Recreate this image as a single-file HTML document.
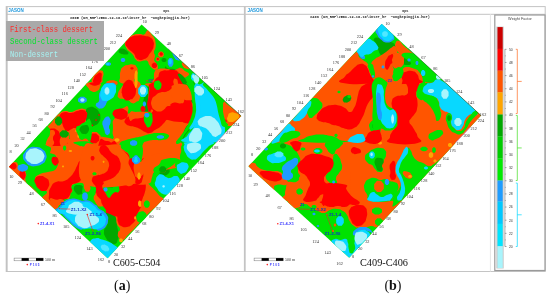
<!DOCTYPE html>
<html><head><meta charset="utf-8"><title>Ips maps</title>
<style>
html,body{margin:0;padding:0;background:#fff;}
body{width:550px;height:296px;overflow:hidden;}
svg{display:block}
.ser{font-family:"Liberation Serif",serif}
.san{font-family:"Liberation Sans",sans-serif}
.mon{font-family:"Liberation Mono",monospace}
</style></head><body>
<svg width="550" height="296" viewBox="0 0 550 296">
<defs>
<clipPath id="clipA"><polygon points="141.6,24.5 241.2,116 107.6,258.2 9,166.8"/></clipPath>
<clipPath id="clipB"><polygon points="381.7,24 481,115.5 349.2,257.7 248.4,166.3"/></clipPath>
</defs>
<rect width="550" height="296" fill="#fff"/>
<g fill="none" stroke="#c4c4c4" stroke-width="1">
<rect x="6.2" y="6.6" width="539" height="264.9"/>
<line x1="6.2" y1="14.3" x2="545" y2="14.3"/>
<line x1="244.8" y1="6.6" x2="244.8" y2="271.5" stroke-width="1.8"/>
<line x1="490.4" y1="14.3" x2="490.4" y2="271.5" stroke="#e6e6e6"/>
</g>
<rect x="6.2" y="6.6" width="1.4" height="264.9" fill="#bdbdbd"/>
<g class="san" font-weight="bold" font-size="4.6" fill="#1a96dc">
<text x="8.3" y="12.2" textLength="15.4" lengthAdjust="spacingAndGlyphs">JASON</text>
<text x="247.4" y="12.2" textLength="15.4" lengthAdjust="spacingAndGlyphs">JASON</text>
</g>
<g clip-path="url(#clipA)">
<rect x="0" y="0" width="550" height="296" fill="#00e200"/>
<path d="M118.6,51.0C119.0,49.4 119.5,48.4 122.0,48.4C124.5,48.4 125.2,49.3 127.0,51.0C128.8,52.7 128.9,53.0 128.0,54.0C127.1,55.0 126.2,54.5 124.0,54.4C121.8,54.3 122.2,54.6 120.6,53.6C119.0,52.6 118.2,52.6 118.6,51.0Z" fill="#00a800"/>
<path d="M166.4,60.0C166.4,61.0 166.6,60.7 165.7,61.4C164.8,62.1 165.2,62.0 164.0,62.0C162.8,62.0 163.2,62.1 162.3,61.4C161.4,60.7 161.6,61.0 161.6,60.0C161.6,59.0 161.4,59.3 162.3,58.6C163.2,57.9 162.8,58.0 164.0,58.0C165.2,58.0 164.8,57.9 165.7,58.6C166.6,59.3 166.4,59.0 166.4,60.0Z" fill="#00a800"/>
<path d="M165.4,66.4C166.0,65.8 165.4,67.6 168.0,68.4C170.6,69.2 171.6,68.2 174.0,69.0C176.4,69.8 176.9,70.1 176.0,71.0C175.1,71.9 174.0,72.2 171.0,72.0C168.0,71.8 167.7,72.1 166.0,70.4C164.3,68.7 164.8,67.0 165.4,66.4Z" fill="#00a800"/>
<path d="M187.4,83.0C200.6,83.0 191.1,80.6 194.0,83.0C196.9,85.4 195.7,85.6 197.0,91.0C198.3,96.4 197.8,95.0 198.2,101.0C198.6,107.0 198.9,105.6 198.2,111.0C197.5,116.4 197.4,114.7 195.8,119.0C194.2,123.3 195.2,121.8 193.0,125.4C190.8,129.0 191.0,127.8 188.6,131.0C186.2,134.2 187.0,132.9 185.0,136.0C183.0,139.1 184.1,139.6 182.0,141.4C179.9,143.2 187.6,141.8 178.0,142.0C168.4,142.2 158.4,159.7 150.0,142.0C141.6,124.3 138.8,100.7 150.0,83.0C161.2,65.3 174.2,83.0 187.4,83.0Z" fill="#00a800"/>
<path d="M158.4,169.0C159.1,166.4 159.4,165.9 162.0,165.0C164.6,164.1 164.7,164.5 167.0,166.0C169.3,167.5 169.3,167.6 169.6,170.0C169.9,172.4 169.8,172.3 168.0,174.0C166.2,175.7 166.1,175.7 163.6,175.6C161.1,175.5 161.2,175.6 159.6,173.6C158.0,171.6 157.7,171.6 158.4,169.0Z" fill="#00a800"/>
<path d="M106.0,213.0C107.2,210.6 109.0,209.8 112.0,211.0C115.0,212.2 114.5,212.8 116.0,217.0C117.5,221.2 116.3,220.2 117.0,225.0C117.7,229.8 118.1,228.8 118.4,233.0C118.7,237.2 119.0,235.7 118.0,239.0C117.0,242.3 117.4,243.1 115.0,244.0C112.6,244.9 112.7,243.8 110.0,242.0C107.3,240.2 107.8,241.3 106.0,238.0C104.2,234.7 103.7,234.9 104.0,231.0C104.3,227.1 105.8,228.6 107.0,225.0C108.2,221.4 108.3,222.6 108.0,219.0C107.7,215.4 104.8,215.4 106.0,213.0Z" fill="#00a800"/>
<path d="M125.0,42.0C125.6,38.8 126.2,39.7 128.6,37.6C131.0,35.5 129.9,36.1 133.0,35.0C136.1,33.9 135.7,34.2 139.0,34.0C142.3,33.8 141.7,35.2 144.0,34.4C146.3,33.6 145.2,32.4 146.6,31.2C148.0,30.0 147.1,29.4 148.6,30.4C150.1,31.4 149.9,32.1 151.6,34.4C153.3,36.7 153.0,35.4 154.2,38.0C155.4,40.6 155.2,40.0 155.6,43.0C156.0,46.0 155.9,45.3 155.4,48.0C154.9,50.7 154.1,49.6 154.0,52.0C153.9,54.4 154.9,53.6 155.0,56.0C155.1,58.4 153.9,57.9 154.2,60.0C154.5,62.1 154.9,60.9 156.0,63.0C157.1,65.1 158.0,65.0 158.0,67.0C158.0,69.0 157.6,69.2 156.0,69.6C154.4,70.0 154.6,69.8 152.6,68.4C150.6,67.0 151.0,67.2 149.4,65.0C147.8,62.8 149.0,62.3 147.4,61.0C145.8,59.7 146.4,60.5 144.0,60.6C141.6,60.7 141.9,61.8 139.4,61.4C136.9,61.0 137.5,61.3 135.6,59.4C133.7,57.5 134.7,57.2 133.0,55.0C131.3,52.8 131.9,54.0 130.0,52.0C128.1,50.0 128.1,51.4 126.6,48.4C125.1,45.4 124.4,45.2 125.0,42.0Z" fill="#ff5500"/>
<path d="M163.8,54.4C163.8,55.9 164.0,55.4 163.0,56.4C162.0,57.4 162.5,57.2 161.0,57.2C159.5,57.2 160.0,57.4 159.0,56.4C158.0,55.4 158.2,55.9 158.2,54.4C158.2,52.9 158.0,53.4 159.0,52.4C160.0,51.4 159.5,51.6 161.0,51.6C162.5,51.6 162.0,51.4 163.0,52.4C164.0,53.4 163.8,52.9 163.8,54.4Z" fill="#ff5500"/>
<path d="M159.8,59.2C159.8,60.2 159.9,59.9 159.2,60.6C158.5,61.3 158.8,61.2 157.8,61.2C156.8,61.2 157.1,61.3 156.4,60.6C155.7,59.9 155.8,60.2 155.8,59.2C155.8,58.2 155.7,58.5 156.4,57.8C157.1,57.1 156.8,57.2 157.8,57.2C158.8,57.2 158.5,57.1 159.2,57.8C159.9,58.5 159.8,58.2 159.8,59.2Z" fill="#ff5500"/>
<path d="M155.0,71.0C156.4,68.3 156.2,69.8 158.6,69.0C161.0,68.2 160.2,68.4 163.0,68.4C165.8,68.4 165.0,68.4 168.0,69.0C171.0,69.6 170.3,70.4 173.0,70.4C175.7,70.4 174.6,69.7 177.0,69.0C179.4,68.3 178.6,67.4 181.0,68.0C183.4,68.6 182.6,69.2 185.0,71.0C187.4,72.8 188.7,72.2 189.0,74.0C189.3,75.8 187.8,75.5 186.0,77.0C184.2,78.5 183.9,77.2 183.0,79.0C182.1,80.8 191.4,81.8 183.0,83.0C174.6,84.2 163.7,84.5 155.0,83.0C146.3,81.5 154.0,81.6 154.0,78.0C154.0,74.4 153.6,73.7 155.0,71.0Z" fill="#ff5500"/>
<path d="M182.0,63.0C182.6,62.3 182.9,62.4 185.0,64.0C187.1,65.6 188.7,67.1 189.0,68.4C189.3,69.7 187.8,69.0 186.0,68.4C184.2,67.8 184.2,68.0 183.0,66.4C181.8,64.8 181.4,63.7 182.0,63.0Z" fill="#ff5500"/>
<path d="M93.0,76.4C94.2,73.1 94.6,73.8 97.0,72.0C99.4,70.2 99.1,70.1 101.0,70.4C102.9,70.7 102.9,70.7 103.4,73.0C103.9,75.3 103.3,75.0 102.6,78.0C101.9,81.0 103.9,81.5 101.0,83.0C98.1,84.5 95.4,85.0 93.0,83.0C90.6,81.0 91.8,79.7 93.0,76.4Z" fill="#ff5500"/>
<path d="M120.6,71.0C121.5,68.0 120.8,68.8 123.0,67.0C125.2,65.2 125.0,65.7 128.0,65.0C131.0,64.3 130.4,64.0 133.0,64.6C135.6,65.2 135.2,64.8 136.6,67.0C138.0,69.2 137.8,69.2 137.6,72.0C137.4,74.8 137.1,74.0 136.0,76.4C134.9,78.8 134.9,78.0 134.0,80.0C133.1,82.0 136.9,82.1 133.0,83.0C129.1,83.9 124.9,84.8 121.0,83.0C117.1,81.2 120.1,80.6 120.0,77.0C119.9,73.4 119.7,74.0 120.6,71.0Z" fill="#ff5500"/>
<path d="M117.6,83.0C117.6,84.5 118.0,84.0 116.0,85.0C113.9,86.0 114.9,85.8 112.0,85.8C109.1,85.8 110.1,86.0 108.0,85.0C106.0,84.0 106.4,84.5 106.4,83.0C106.4,81.5 106.0,82.0 108.0,81.0C110.1,80.0 109.1,80.2 112.0,80.2C114.9,80.2 113.9,80.0 116.0,81.0C118.0,82.0 117.6,81.5 117.6,83.0Z" fill="#ff5500"/>
<path d="M87.0,83.0C90.2,81.5 95.1,81.8 99.0,83.0C102.9,84.2 100.6,84.6 100.0,87.0C99.4,89.4 99.4,89.7 97.0,91.0C94.6,92.3 94.6,92.3 92.0,91.4C89.4,90.5 89.9,90.5 88.4,88.0C86.9,85.5 83.8,84.5 87.0,83.0Z" fill="#ff5500"/>
<path d="M118.0,94.0C118.6,91.0 118.9,91.0 121.0,88.0C123.1,85.0 122.3,85.5 125.0,84.0C127.7,82.5 125.5,83.3 130.0,83.0C134.5,82.7 137.0,78.8 140.0,83.0C143.0,87.2 141.2,91.3 140.0,97.0C138.8,102.7 138.4,100.2 136.0,102.0C133.6,103.8 134.4,103.6 132.0,103.0C129.6,102.4 130.7,101.2 128.0,100.0C125.3,98.8 125.7,99.6 123.0,99.0C120.3,98.4 120.5,99.5 119.0,98.0C117.5,96.5 117.4,97.0 118.0,94.0Z" fill="#ff5500"/>
<path d="M55.0,118.0C57.4,115.3 56.7,115.1 60.0,113.0C63.3,110.9 62.7,111.3 66.0,111.0C69.3,110.7 67.4,112.5 71.0,112.0C74.6,111.5 74.1,110.3 78.0,109.4C81.9,108.5 81.1,108.2 84.0,109.0C86.9,109.8 86.4,109.6 87.6,112.0C88.8,114.4 88.5,113.7 88.0,117.0C87.5,120.3 87.1,119.4 86.0,123.0C84.9,126.6 86.2,126.3 84.4,129.0C82.6,131.7 82.8,131.7 80.0,132.0C77.2,132.3 78.0,130.0 75.0,130.0C72.0,130.0 72.7,130.8 70.0,132.0C67.3,133.2 68.4,133.7 66.0,134.0C63.6,134.3 64.4,134.2 62.0,133.0C59.6,131.8 60.4,132.1 58.0,130.0C55.6,127.9 56.4,126.3 54.0,126.0C51.6,125.7 52.1,128.4 50.0,129.0C47.9,129.6 46.4,130.1 47.0,128.0C47.6,125.9 49.6,125.0 52.0,122.0C54.4,119.0 52.6,120.7 55.0,118.0Z" fill="#ff5500"/>
<path d="M42.0,131.0C44.7,128.4 44.4,128.9 48.0,127.4C51.6,125.9 49.8,124.6 54.0,126.0C58.2,127.4 58.7,128.4 62.0,132.0C65.3,135.6 64.4,135.0 65.0,138.0C65.6,141.0 72.1,140.8 64.0,142.0C55.9,143.2 45.5,143.8 38.0,142.0C30.5,140.2 37.8,139.3 39.0,136.0C40.2,132.7 39.3,133.6 42.0,131.0Z" fill="#ff5500"/>
<path d="M70.0,131.0C71.6,129.0 72.1,128.6 75.0,128.6C77.9,128.6 77.8,129.0 79.6,131.0C81.4,133.0 81.0,132.7 81.0,135.4C81.0,138.1 81.4,138.0 79.6,140.0C77.8,142.0 77.6,142.0 75.0,142.0C72.4,142.0 72.6,142.0 71.0,140.0C69.4,138.0 69.9,138.1 69.6,135.4C69.3,132.7 68.4,133.0 70.0,131.0Z" fill="#ff5500"/>
<path d="M100.6,138.0C100.6,141.1 101.1,140.0 98.7,142.2C96.2,144.4 97.4,144.0 94.0,144.0C90.6,144.0 91.8,144.4 89.3,142.2C86.9,140.0 87.4,141.1 87.4,138.0C87.4,134.9 86.9,136.0 89.3,133.8C91.8,131.6 90.6,132.0 94.0,132.0C97.4,132.0 96.2,131.6 98.7,133.8C101.1,136.0 100.6,134.9 100.6,138.0Z" fill="#ff5500"/>
<path d="M116.4,116.0C117.8,112.6 117.2,113.2 119.6,110.6C122.0,108.0 121.9,108.5 124.4,107.4C126.9,106.3 127.0,105.3 128.0,107.0C129.0,108.7 128.2,109.7 127.6,113.0C127.0,116.3 125.3,115.9 126.0,118.0C126.7,120.1 127.0,119.7 130.0,120.0C133.0,120.3 133.0,119.6 136.0,119.0C139.0,118.4 138.8,111.1 140.0,118.0C141.2,124.9 146.6,134.8 140.0,142.0C133.4,149.2 125.1,143.5 118.0,142.0C110.9,140.5 116.1,140.0 116.4,137.0C116.7,134.0 119.0,134.9 119.0,132.0C119.0,129.1 117.6,130.4 116.4,127.4C115.2,124.4 115.0,125.4 115.0,122.0C115.0,118.6 115.0,119.4 116.4,116.0Z" fill="#ff5500"/>
<path d="M150.0,83.0C161.3,81.5 175.0,81.5 187.0,83.0C199.0,84.5 188.2,84.4 190.0,88.0C191.8,91.6 191.6,90.5 193.0,95.0C194.4,99.5 194.0,98.2 194.6,103.0C195.2,107.8 195.5,106.5 195.0,111.0C194.5,115.5 194.5,114.4 193.0,118.0C191.5,121.6 192.1,120.3 190.0,123.0C187.9,125.7 188.1,124.0 186.0,127.0C183.9,130.0 184.8,129.7 183.0,133.0C181.2,136.3 182.4,135.3 180.0,138.0C177.6,140.7 181.3,140.8 175.0,142.0C168.7,143.2 165.6,142.9 159.0,142.0C152.4,141.1 156.6,139.6 153.0,139.0C149.4,138.4 150.6,139.1 147.0,140.0C143.4,140.9 144.6,141.4 141.0,142.0C137.4,142.6 136.8,149.2 135.0,142.0C133.2,134.8 133.8,125.8 135.0,118.0C136.2,110.2 136.3,116.3 139.0,116.0C141.7,115.7 141.0,117.9 144.0,117.0C147.0,116.1 146.6,116.0 149.0,113.0C151.4,110.0 152.0,110.6 152.0,107.0C152.0,103.4 150.0,104.9 149.0,101.0C148.0,97.1 148.5,97.9 148.6,94.0C148.7,90.1 149.0,91.3 149.4,88.0C149.8,84.7 138.7,84.5 150.0,83.0Z" fill="#ff5500"/>
<path d="M224.0,102.0C225.5,100.8 222.8,100.8 228.0,105.0C233.2,109.2 239.1,110.6 241.2,116.0C243.3,121.4 238.7,120.0 235.0,123.0C231.3,126.0 232.1,126.0 229.0,126.0C225.9,126.0 226.4,125.7 224.6,123.0C222.8,120.3 223.5,121.2 223.0,117.0C222.5,112.8 222.7,113.5 223.0,109.0C223.3,104.5 222.5,103.2 224.0,102.0Z" fill="#ff5500"/>
<path d="M9.0,166.8C9.6,164.1 11.3,162.5 14.0,162.0C16.7,161.5 17.4,162.6 18.0,165.0C18.6,167.4 17.8,168.2 16.0,170.0C14.2,171.8 14.1,172.0 12.0,171.0C9.9,170.0 8.4,169.5 9.0,166.8Z" fill="#ff5500"/>
<path d="M14.0,170.0C14.6,168.2 16.0,168.0 19.0,168.0C22.0,168.0 22.2,168.2 24.0,170.0C25.8,171.8 26.2,172.2 25.0,174.0C23.8,175.8 22.4,176.0 20.0,176.0C17.6,176.0 18.8,175.8 17.0,174.0C15.2,172.2 13.4,171.8 14.0,170.0Z" fill="#ff5500"/>
<path d="M48.0,142.0C61.4,140.8 104.0,130.2 118.0,142.0C132.0,153.8 132.0,189.2 118.0,201.0C104.0,212.8 62.2,202.8 48.0,201.0C33.8,199.2 48.2,194.6 47.0,192.0C45.8,189.4 43.8,190.0 42.0,188.0C40.2,186.0 39.4,184.0 38.0,182.0C36.6,180.0 34.6,179.6 35.0,178.0C35.4,176.4 37.4,175.2 40.0,174.0C42.6,172.8 45.0,172.8 48.0,172.0C51.0,171.2 53.2,171.6 55.0,170.0C56.8,168.4 57.4,166.2 57.0,164.0C56.6,161.8 54.4,161.0 53.0,159.0C51.6,157.0 50.4,156.2 50.0,154.0C49.6,151.8 51.4,150.4 51.0,148.0C50.6,145.6 34.6,143.2 48.0,142.0Z" fill="#ff5500"/>
<path d="M112.0,142.0C115.7,128.2 124.0,140.8 128.0,142.0C132.0,143.2 129.2,144.7 129.0,147.0C128.8,149.3 126.5,149.2 127.0,152.0C127.5,154.8 128.9,156.2 131.0,159.0C133.1,161.8 133.4,163.3 136.0,164.0C138.6,164.7 140.1,163.9 142.0,162.0C143.9,160.1 144.0,158.8 144.0,156.0C144.0,153.2 142.0,152.8 142.0,150.0C142.0,147.2 142.8,145.9 144.0,144.0C145.2,142.1 139.1,142.5 147.0,142.0C154.9,141.5 170.1,140.6 178.0,142.0C185.9,143.4 180.5,145.2 181.0,148.0C181.5,150.8 181.6,151.7 180.0,154.0C178.4,156.3 176.8,156.4 174.0,158.0C171.2,159.6 170.6,159.6 168.0,161.0C165.4,162.4 165.1,162.6 163.0,164.0C160.9,165.4 160.9,165.4 159.0,167.0C157.1,168.6 156.9,168.9 155.0,171.0C153.1,173.1 152.6,173.7 151.0,176.0C149.4,178.3 148.9,178.9 148.0,181.0C147.1,183.1 146.1,182.9 147.0,185.0C147.9,187.1 149.7,187.7 152.0,190.0C154.3,192.3 155.1,192.4 157.0,195.0C158.9,197.6 170.5,199.6 160.0,201.0C149.5,202.4 123.2,214.8 112.0,201.0C100.8,187.2 108.3,155.8 112.0,142.0Z" fill="#ff5500"/>
<path d="M108.0,201.0C124.0,199.8 148.0,198.3 161.2,201.0C174.4,203.7 157.8,204.3 152.0,210.0C146.2,215.7 147.4,214.3 142.0,220.0C136.6,225.7 138.2,224.5 134.0,229.0C129.8,233.5 131.3,231.7 128.0,235.0C124.7,238.3 125.7,239.1 123.0,240.0C120.3,240.9 120.5,240.1 119.0,238.0C117.5,235.9 117.7,235.7 118.0,233.0C118.3,230.3 120.3,231.7 120.0,229.0C119.7,226.3 118.3,227.6 117.0,224.0C115.7,220.4 117.0,220.9 115.6,217.0C114.2,213.1 114.7,214.6 112.4,211.0C110.1,207.4 109.3,208.0 108.0,205.0C106.7,202.0 92.0,202.2 108.0,201.0Z" fill="#ff5500"/>
<path d="M46.0,201.0C47.8,198.9 52.8,199.8 57.0,201.0C61.2,202.2 60.3,202.6 60.0,205.0C59.7,207.4 58.7,208.1 56.0,209.0C53.3,209.9 54.0,210.4 51.0,208.0C48.0,205.6 44.2,203.1 46.0,201.0Z" fill="#ff5500"/>
<path d="M98.0,201.0C99.7,199.7 103.9,199.9 106.0,201.0C108.1,202.1 106.7,203.3 105.0,204.6C103.3,205.9 102.5,206.5 100.4,205.4C98.3,204.3 96.3,202.3 98.0,201.0Z" fill="#ff5500"/>
<path d="M86.0,110.0C86.9,107.9 87.3,107.6 90.0,107.0C92.7,106.4 92.3,106.5 95.0,108.0C97.7,109.5 97.4,109.3 99.0,112.0C100.6,114.7 100.4,114.0 100.4,117.0C100.4,120.0 100.6,119.5 99.0,122.0C97.4,124.5 97.7,124.2 95.0,125.4C92.3,126.6 92.4,126.7 90.0,126.0C87.6,125.3 88.3,125.4 87.0,123.0C85.7,120.6 85.6,120.7 85.6,118.0C85.6,115.3 86.9,116.4 87.0,114.0C87.1,111.6 85.1,112.1 86.0,110.0Z" fill="#00a800"/>
<path d="M48.0,155.0C49.6,152.6 50.3,153.1 53.0,154.0C55.7,154.9 55.5,155.0 57.0,158.0C58.5,161.0 58.6,161.0 58.0,164.0C57.4,167.0 57.4,167.1 55.0,168.0C52.6,168.9 52.2,168.8 50.0,167.0C47.8,165.2 48.2,165.6 47.6,162.0C47.0,158.4 46.4,157.4 48.0,155.0Z" fill="#00e200"/>
<path d="M66.2,148.0C66.2,149.2 66.3,148.8 65.7,149.7C65.1,150.6 65.4,150.4 64.6,150.4C63.8,150.4 64.1,150.6 63.5,149.7C62.9,148.8 63.0,149.2 63.0,148.0C63.0,146.8 62.9,147.2 63.5,146.3C64.1,145.4 63.8,145.6 64.6,145.6C65.4,145.6 65.1,145.4 65.7,146.3C66.3,147.2 66.2,146.8 66.2,148.0Z" fill="#00e200"/>
<path d="M75.0,142.0C79.2,141.1 87.5,141.1 92.0,142.0C96.5,142.9 92.4,143.7 90.0,145.0C87.6,146.3 87.6,146.4 84.0,146.4C80.4,146.4 80.7,146.3 78.0,145.0C75.3,143.7 70.8,142.9 75.0,142.0Z" fill="#00e200"/>
<path d="M137.2,72.6C137.2,73.6 137.3,73.3 137.0,74.0C136.7,74.7 136.8,74.6 136.4,74.6C136.0,74.6 136.1,74.7 135.8,74.0C135.5,73.3 135.6,73.6 135.6,72.6C135.6,71.6 135.5,71.9 135.8,71.2C136.1,70.5 136.0,70.6 136.4,70.6C136.8,70.6 136.7,70.5 137.0,71.2C137.3,71.9 137.2,71.6 137.2,72.6Z" fill="#ffa500"/>
<path d="M77.6,131.0C77.6,131.5 77.7,131.3 77.2,131.7C76.8,132.1 77.0,132.0 76.4,132.0C75.8,132.0 76.0,132.1 75.6,131.7C75.1,131.3 75.2,131.5 75.2,131.0C75.2,130.5 75.1,130.7 75.6,130.3C76.0,129.9 75.8,130.0 76.4,130.0C77.0,130.0 76.8,129.9 77.2,130.3C77.7,130.7 77.6,130.5 77.6,131.0Z" fill="#ffa500"/>
<path d="M79.4,136.2C79.4,137.0 79.5,136.7 79.1,137.3C78.7,137.9 78.9,137.8 78.4,137.8C77.9,137.8 78.1,137.9 77.7,137.3C77.3,136.7 77.4,137.0 77.4,136.2C77.4,135.4 77.3,135.7 77.7,135.1C78.1,134.5 77.9,134.6 78.4,134.6C78.9,134.6 78.7,134.5 79.1,135.1C79.5,135.7 79.4,135.4 79.4,136.2Z" fill="#ffa500"/>
<path d="M230.0,113.0C232.1,112.1 232.3,112.1 235.0,113.0C237.7,113.9 238.7,113.9 239.0,116.0C239.3,118.1 238.4,118.2 236.0,120.0C233.6,121.8 233.6,122.0 231.0,122.0C228.4,122.0 228.3,121.8 227.4,120.0C226.5,118.2 227.2,118.1 228.0,116.0C228.8,113.9 227.9,113.9 230.0,113.0Z" fill="#ffa500"/>
<path d="M72.0,151.0C72.0,151.5 72.1,151.3 71.5,151.7C70.9,152.1 71.2,152.0 70.4,152.0C69.6,152.0 69.9,152.1 69.3,151.7C68.7,151.3 68.8,151.5 68.8,151.0C68.8,150.5 68.7,150.7 69.3,150.3C69.9,149.9 69.6,150.0 70.4,150.0C71.2,150.0 70.9,149.9 71.5,150.3C72.1,150.7 72.0,150.5 72.0,151.0Z" fill="#ffa500"/>
<path d="M64.0,166.4C64.0,166.9 64.1,166.7 63.7,167.1C63.3,167.5 63.5,167.4 63.0,167.4C62.5,167.4 62.7,167.5 62.3,167.1C61.9,166.7 62.0,166.9 62.0,166.4C62.0,165.9 61.9,166.1 62.3,165.7C62.7,165.3 62.5,165.4 63.0,165.4C63.5,165.4 63.3,165.3 63.7,165.7C64.1,166.1 64.0,165.9 64.0,166.4Z" fill="#ffa500"/>
<path d="M140.0,175.0C140.0,176.9 140.1,176.2 139.6,177.5C139.1,178.9 139.3,178.6 138.6,178.6C137.9,178.6 138.1,178.9 137.6,177.5C137.1,176.2 137.2,176.9 137.2,175.0C137.2,173.1 137.1,173.8 137.6,172.5C138.1,171.1 137.9,171.4 138.6,171.4C139.3,171.4 139.1,171.1 139.6,172.5C140.1,173.8 140.0,173.1 140.0,175.0Z" fill="#ffa500"/>
<path d="M167.2,161.4C167.2,162.1 167.4,161.9 166.4,162.4C165.4,162.9 165.9,162.8 164.4,162.8C162.9,162.8 163.4,162.9 162.4,162.4C161.4,161.9 161.6,162.1 161.6,161.4C161.6,160.7 161.4,160.9 162.4,160.4C163.4,159.9 162.9,160.0 164.4,160.0C165.9,160.0 165.4,159.9 166.4,160.4C167.4,160.9 167.2,160.7 167.2,161.4Z" fill="#ffa500"/>
<path d="M122.8,240.4C122.8,241.3 122.9,241.0 122.3,241.7C121.6,242.3 121.9,242.2 121.0,242.2C120.1,242.2 120.4,242.3 119.7,241.7C119.1,241.0 119.2,241.3 119.2,240.4C119.2,239.5 119.1,239.8 119.7,239.1C120.4,238.5 120.1,238.6 121.0,238.6C121.9,238.6 121.6,238.5 122.3,239.1C122.9,239.8 122.8,239.5 122.8,240.4Z" fill="#ffa500"/>
<path d="M125.4,43.4C125.6,41.0 126.0,41.4 128.0,39.4C130.0,37.4 129.0,37.8 132.0,36.6C135.0,35.4 134.1,35.6 138.0,35.4C141.9,35.2 141.3,35.3 145.0,36.0C148.7,36.7 147.9,35.9 150.4,37.6C152.9,39.3 152.4,39.0 153.4,41.6C154.4,44.2 154.0,43.8 153.6,46.4C153.2,49.0 153.3,48.1 152.0,50.4C150.7,52.7 150.8,52.0 149.4,54.0C148.0,56.0 149.1,55.6 147.4,57.2C145.7,58.8 146.0,58.4 143.6,59.2C141.2,60.0 141.6,60.4 139.4,60.0C137.2,59.6 137.8,59.8 136.2,58.0C134.6,56.2 135.8,56.1 134.2,54.0C132.6,51.9 133.0,53.0 131.0,51.0C129.0,49.0 129.1,49.7 127.4,47.4C125.7,45.1 125.2,45.8 125.4,43.4Z" fill="#ff0000"/>
<path d="M162.8,54.0C162.8,54.9 162.9,54.6 162.3,55.3C161.7,55.9 162.0,55.8 161.2,55.8C160.4,55.8 160.7,55.9 160.1,55.3C159.5,54.6 159.6,54.9 159.6,54.0C159.6,53.1 159.5,53.4 160.1,52.7C160.7,52.1 160.4,52.2 161.2,52.2C162.0,52.2 161.7,52.1 162.3,52.7C162.9,53.4 162.8,53.1 162.8,54.0Z" fill="#ff0000"/>
<path d="M159.0,59.0C159.0,59.6 159.1,59.4 158.6,59.8C158.2,60.3 158.4,60.2 157.8,60.2C157.2,60.2 157.4,60.3 157.0,59.8C156.5,59.4 156.6,59.6 156.6,59.0C156.6,58.4 156.5,58.6 157.0,58.2C157.4,57.7 157.2,57.8 157.8,57.8C158.4,57.8 158.2,57.7 158.6,58.2C159.1,58.6 159.0,58.4 159.0,59.0Z" fill="#ff0000"/>
<path d="M157.0,65.4C157.0,66.7 157.2,66.3 156.2,67.2C155.3,68.2 155.7,68.0 154.4,68.0C153.1,68.0 153.5,68.2 152.6,67.2C151.6,66.3 151.8,66.7 151.8,65.4C151.8,64.1 151.6,64.5 152.6,63.6C153.5,62.6 153.1,62.8 154.4,62.8C155.7,62.8 155.3,62.6 156.2,63.6C157.2,64.5 157.0,64.1 157.0,65.4Z" fill="#ff0000"/>
<path d="M159.0,74.0C159.8,71.6 159.6,72.1 162.0,71.0C164.4,69.9 164.0,70.1 167.0,70.4C170.0,70.7 169.6,70.6 172.0,72.0C174.4,73.4 173.2,73.2 175.0,75.0C176.8,76.8 176.8,75.6 178.0,78.0C179.2,80.4 184.1,81.5 179.0,83.0C173.9,84.5 166.9,84.2 161.0,83.0C155.1,81.8 160.0,81.7 159.4,79.0C158.8,76.3 158.2,76.4 159.0,74.0Z" fill="#ff0000"/>
<path d="M94.0,78.0C95.0,75.3 95.3,75.5 97.4,74.0C99.5,72.5 99.7,72.1 101.0,73.0C102.3,73.9 101.9,74.0 101.6,77.0C101.3,80.0 102.3,81.2 100.0,83.0C97.7,84.8 95.8,84.5 94.0,83.0C92.2,81.5 93.0,80.7 94.0,78.0Z" fill="#ff0000"/>
<path d="M133.6,68.4C133.6,69.0 133.7,68.8 133.1,69.2C132.5,69.7 132.8,69.6 132.0,69.6C131.2,69.6 131.5,69.7 130.9,69.2C130.3,68.8 130.4,69.0 130.4,68.4C130.4,67.8 130.3,68.0 130.9,67.6C131.5,67.1 131.2,67.2 132.0,67.2C132.8,67.2 132.5,67.1 133.1,67.6C133.7,68.0 133.6,67.8 133.6,68.4Z" fill="#ff0000"/>
<path d="M90.0,83.0C91.8,82.3 96.6,82.4 99.0,83.0C101.4,83.6 99.8,84.3 98.0,85.0C96.2,85.7 95.4,86.0 93.0,85.4C90.6,84.8 88.2,83.7 90.0,83.0Z" fill="#ff0000"/>
<path d="M122.0,91.0C122.9,88.6 123.3,88.1 126.0,86.0C128.7,83.9 128.3,84.0 131.0,84.0C133.7,84.0 133.5,83.9 135.0,86.0C136.5,88.1 136.3,87.7 136.0,91.0C135.7,94.3 135.8,94.6 134.0,97.0C132.2,99.4 132.4,99.6 130.0,99.0C127.6,98.4 128.1,96.5 126.0,95.0C123.9,93.5 124.2,95.2 123.0,94.0C121.8,92.8 121.1,93.4 122.0,91.0Z" fill="#ff0000"/>
<path d="M99.8,115.0C99.8,115.4 99.9,115.3 99.6,115.6C99.3,115.9 99.4,115.8 99.0,115.8C98.6,115.8 98.7,115.9 98.4,115.6C98.1,115.3 98.2,115.4 98.2,115.0C98.2,114.6 98.1,114.7 98.4,114.4C98.7,114.1 98.6,114.2 99.0,114.2C99.4,114.2 99.3,114.1 99.6,114.4C99.9,114.7 99.8,114.6 99.8,115.0Z" fill="#ff0000"/>
<path d="M96.8,120.0C96.8,120.4 96.9,120.3 96.6,120.6C96.3,120.9 96.4,120.8 96.0,120.8C95.6,120.8 95.7,120.9 95.4,120.6C95.1,120.3 95.2,120.4 95.2,120.0C95.2,119.6 95.1,119.7 95.4,119.4C95.7,119.1 95.6,119.2 96.0,119.2C96.4,119.2 96.3,119.1 96.6,119.4C96.9,119.7 96.8,119.6 96.8,120.0Z" fill="#ff0000"/>
<path d="M93.2,125.4C93.2,125.8 93.3,125.7 92.8,126.0C92.4,126.3 92.6,126.2 92.0,126.2C91.4,126.2 91.6,126.3 91.2,126.0C90.7,125.7 90.8,125.8 90.8,125.4C90.8,125.0 90.7,125.1 91.2,124.8C91.6,124.5 91.4,124.6 92.0,124.6C92.6,124.6 92.4,124.5 92.8,124.8C93.3,125.1 93.2,125.0 93.2,125.4Z" fill="#ff0000"/>
<path d="M60.0,115.0C61.5,112.9 61.7,112.6 65.0,112.0C68.3,111.4 67.4,113.3 71.0,113.0C74.6,112.7 73.7,111.9 77.0,111.0C80.3,110.1 79.2,109.7 82.0,110.0C84.8,110.3 84.9,110.2 86.4,112.0C87.9,113.8 87.2,113.6 87.0,116.0C86.8,118.4 86.5,117.6 85.6,120.0C84.7,122.4 85.0,121.6 84.0,124.0C83.0,126.4 83.9,126.2 82.4,128.0C80.9,129.8 81.2,130.0 79.0,130.0C76.8,130.0 77.4,128.2 75.0,128.0C72.6,127.8 73.4,128.5 71.0,129.4C68.6,130.3 69.1,131.4 67.0,131.0C64.9,130.6 65.5,130.4 64.0,128.0C62.5,125.6 63.2,125.7 62.0,123.0C60.8,120.3 60.6,121.4 60.0,119.0C59.4,116.6 58.5,117.1 60.0,115.0Z" fill="#ff0000"/>
<path d="M47.6,131.0C48.8,128.5 49.2,128.9 52.0,128.6C54.8,128.3 54.6,128.4 57.0,130.0C59.4,131.6 58.5,131.3 60.0,134.0C61.5,136.7 61.7,136.6 62.0,139.0C62.3,141.4 64.6,141.1 61.0,142.0C57.4,142.9 53.9,143.5 50.0,142.0C46.1,140.5 48.7,140.3 48.0,137.0C47.3,133.7 46.4,133.5 47.6,131.0Z" fill="#ff0000"/>
<path d="M99.2,138.4C99.2,140.9 99.6,140.0 97.7,141.8C95.8,143.6 96.7,143.2 94.0,143.2C91.3,143.2 92.2,143.6 90.3,141.8C88.4,140.0 88.8,140.9 88.8,138.4C88.8,135.9 88.4,136.8 90.3,135.0C92.2,133.2 91.3,133.6 94.0,133.6C96.7,133.6 95.8,133.2 97.7,135.0C99.6,136.8 99.2,135.9 99.2,138.4Z" fill="#ff0000"/>
<path d="M117.0,127.0C117.1,124.6 117.9,124.6 120.0,124.0C122.1,123.4 122.3,123.2 124.0,125.0C125.7,126.8 124.4,126.9 125.6,130.0C126.8,133.1 127.6,131.8 128.0,135.4C128.4,139.0 129.7,140.0 127.0,142.0C124.3,144.0 121.8,143.8 119.0,142.0C116.2,140.2 117.4,139.0 117.6,136.0C117.8,133.0 119.8,134.7 119.6,132.0C119.4,129.3 116.9,129.4 117.0,127.0Z" fill="#ff0000"/>
<path d="M131.0,122.0C132.8,119.9 133.3,120.3 136.0,120.0C138.7,119.7 138.8,116.5 140.0,121.0C141.2,125.5 141.2,130.5 140.0,135.0C138.8,139.5 138.3,136.9 136.0,136.0C133.7,135.1 134.2,134.7 132.4,132.0C130.6,129.3 130.4,130.0 130.0,127.0C129.6,124.0 129.2,124.1 131.0,122.0Z" fill="#ff0000"/>
<path d="M150.0,84.0C152.3,82.2 153.7,82.7 157.0,83.0C160.3,83.3 160.4,82.9 161.0,85.0C161.6,87.1 160.8,87.3 159.0,90.0C157.2,92.7 157.1,91.6 155.0,94.0C152.9,96.4 153.7,97.7 152.0,98.0C150.3,98.3 150.2,97.7 149.4,95.0C148.6,92.3 149.2,92.3 149.4,89.0C149.6,85.7 147.7,85.8 150.0,84.0Z" fill="#ff0000"/>
<path d="M155.0,113.0C156.5,109.7 156.0,110.4 159.0,108.0C162.0,105.6 161.4,106.5 165.0,105.0C168.6,103.5 167.1,103.9 171.0,103.0C174.9,102.1 173.8,102.9 178.0,102.0C182.2,101.1 181.4,100.0 185.0,100.0C188.6,100.0 187.6,99.9 190.0,102.0C192.4,104.1 192.0,103.7 193.0,107.0C194.0,110.3 194.0,109.7 193.4,113.0C192.8,116.3 192.9,117.1 191.0,118.0C189.1,118.9 189.7,116.6 187.0,116.0C184.3,115.4 185.0,116.3 182.0,116.0C179.0,115.7 179.7,114.4 177.0,115.0C174.3,115.6 175.7,116.8 173.0,118.0C170.3,119.2 171.0,118.1 168.0,119.0C165.0,119.9 166.0,120.1 163.0,121.0C160.0,121.9 160.7,122.6 158.0,122.0C155.3,121.4 154.9,121.7 154.0,119.0C153.1,116.3 153.5,116.3 155.0,113.0Z" fill="#ff0000"/>
<path d="M172.0,83.0C175.3,81.5 181.4,81.2 187.0,83.0C192.6,84.8 189.1,85.4 190.6,89.0C192.1,92.6 192.5,92.6 192.0,95.0C191.5,97.4 191.1,97.3 189.0,97.0C186.9,96.7 187.3,96.1 185.0,94.0C182.7,91.9 184.1,91.8 181.4,90.0C178.7,88.2 178.8,90.1 176.0,88.0C173.2,85.9 168.7,84.5 172.0,83.0Z" fill="#ff0000"/>
<path d="M135.0,119.0C136.5,111.8 137.0,117.1 140.0,117.0C143.0,116.9 142.0,117.4 145.0,118.6C148.0,119.8 147.0,119.7 150.0,121.0C153.0,122.3 152.6,120.9 155.0,123.0C157.4,125.1 157.7,125.0 158.0,128.0C158.3,131.0 157.8,130.3 156.0,133.0C154.2,135.7 155.0,135.3 152.0,137.0C149.0,138.7 149.6,137.7 146.0,138.6C142.4,139.5 143.3,139.3 140.0,140.0C136.7,140.7 136.5,147.3 135.0,141.0C133.5,134.7 133.5,126.2 135.0,119.0Z" fill="#ff0000"/>
<path d="M165.0,133.0C166.2,129.7 167.5,131.0 169.0,128.0C170.5,125.0 168.5,125.1 170.0,123.0C171.5,120.9 171.9,121.0 174.0,121.0C176.1,121.0 175.2,120.9 177.0,123.0C178.8,125.1 178.5,125.3 180.0,128.0C181.5,130.7 182.3,129.3 182.0,132.0C181.7,134.7 181.1,134.3 179.0,137.0C176.9,139.7 178.0,139.5 175.0,141.0C172.0,142.5 172.0,142.6 169.0,142.0C166.0,141.4 166.2,141.7 165.0,139.0C163.8,136.3 163.8,136.3 165.0,133.0Z" fill="#ff0000"/>
<path d="M145.4,109.0C145.4,110.6 145.6,110.0 144.7,111.1C143.8,112.2 144.2,112.0 143.0,112.0C141.8,112.0 142.2,112.2 141.3,111.1C140.4,110.0 140.6,110.6 140.6,109.0C140.6,107.4 140.4,108.0 141.3,106.9C142.2,105.8 141.8,106.0 143.0,106.0C144.2,106.0 143.8,105.8 144.7,106.9C145.6,108.0 145.4,107.4 145.4,109.0Z" fill="#ff0000"/>
<path d="M226.8,121.0C226.8,121.7 226.9,121.5 226.4,122.0C225.9,122.5 226.1,122.4 225.4,122.4C224.7,122.4 224.9,122.5 224.4,122.0C223.9,121.5 224.0,121.7 224.0,121.0C224.0,120.3 223.9,120.5 224.4,120.0C224.9,119.5 224.7,119.6 225.4,119.6C226.1,119.6 225.9,119.5 226.4,120.0C226.9,120.5 226.8,120.3 226.8,121.0Z" fill="#ff0000"/>
<path d="M9.0,166.8C9.4,164.8 10.8,163.4 13.0,163.0C15.2,162.6 15.8,163.8 16.4,165.6C17.0,167.4 16.4,167.8 15.0,169.0C13.6,170.2 13.4,170.3 11.6,169.6C9.8,168.9 8.6,168.8 9.0,166.8Z" fill="#ff0000"/>
<path d="M51.0,187.0C53.1,183.4 52.1,183.8 56.0,182.0C59.9,180.2 59.8,182.5 64.0,181.0C68.2,179.5 67.0,179.7 70.0,177.0C73.0,174.3 71.9,175.3 74.0,172.0C76.1,168.7 75.2,169.3 77.0,166.0C78.8,162.7 77.6,162.8 80.0,161.0C82.4,159.2 82.6,159.1 85.0,160.0C87.4,160.9 87.4,161.0 88.0,164.0C88.6,167.0 88.2,166.7 87.0,170.0C85.8,173.3 85.8,172.0 84.0,175.0C82.2,178.0 83.1,177.6 81.0,180.0C78.9,182.4 79.7,181.5 77.0,183.0C74.3,184.5 73.5,182.9 72.0,185.0C70.5,187.1 72.6,187.0 72.0,190.0C71.4,193.0 71.8,192.3 70.0,195.0C68.2,197.7 69.0,197.2 66.0,199.0C63.0,200.8 64.5,200.4 60.0,201.0C55.5,201.6 54.3,203.1 51.0,201.0C47.7,198.9 49.0,198.2 49.0,194.0C49.0,189.8 48.9,190.6 51.0,187.0Z" fill="#ff0000"/>
<path d="M87.0,170.0C89.4,167.6 88.7,167.5 92.0,166.0C95.3,164.5 94.4,164.7 98.0,165.0C101.6,165.3 100.4,167.3 104.0,167.0C107.6,166.7 105.8,165.2 110.0,164.0C114.2,162.8 115.6,157.6 118.0,163.0C120.4,168.4 119.8,176.0 118.0,182.0C116.2,188.0 115.0,183.3 112.0,183.0C109.0,182.7 110.4,181.3 108.0,181.0C105.6,180.7 105.8,180.2 104.0,182.0C102.2,183.8 103.8,184.6 102.0,187.0C100.2,189.4 100.4,187.8 98.0,190.0C95.6,192.2 97.0,192.3 94.0,194.4C91.0,196.5 90.7,197.4 88.0,197.0C85.3,196.6 85.3,196.0 85.0,193.0C84.7,190.0 87.0,190.3 87.0,187.0C87.0,183.7 86.4,184.7 85.0,182.0C83.6,179.3 82.7,180.4 82.4,178.0C82.1,175.6 82.6,176.4 84.0,174.0C85.4,171.6 84.6,172.4 87.0,170.0Z" fill="#ff0000"/>
<path d="M35.0,179.0C36.3,176.6 36.7,176.3 40.0,176.0C43.3,175.7 43.3,176.2 46.0,178.0C48.7,179.8 48.4,179.0 49.0,182.0C49.6,185.0 49.5,185.3 48.0,188.0C46.5,190.7 46.7,190.7 44.0,191.0C41.3,191.3 41.5,191.1 39.0,189.0C36.5,186.9 36.8,187.0 35.6,184.0C34.4,181.0 33.7,181.4 35.0,179.0Z" fill="#ff0000"/>
<path d="M51.6,159.0C52.1,156.6 53.6,156.7 55.6,157.0C57.6,157.3 57.8,157.9 58.4,160.0C59.0,162.1 58.9,162.5 57.6,164.0C56.3,165.5 55.8,166.5 54.0,165.0C52.2,163.5 51.1,161.4 51.6,159.0Z" fill="#ff0000"/>
<path d="M47.0,142.0C51.8,141.1 61.2,141.1 66.0,142.0C70.8,142.9 66.0,143.8 63.0,145.0C60.0,146.2 59.9,146.0 56.0,146.0C52.1,146.0 52.7,146.2 50.0,145.0C47.3,143.8 42.2,142.9 47.0,142.0Z" fill="#ff0000"/>
<path d="M96.0,157.0C96.0,158.2 96.1,157.8 95.4,158.7C94.7,159.6 95.0,159.4 94.0,159.4C93.0,159.4 93.3,159.6 92.6,158.7C91.9,157.8 92.0,158.2 92.0,157.0C92.0,155.8 91.9,156.2 92.6,155.3C93.3,154.4 93.0,154.6 94.0,154.6C95.0,154.6 94.7,154.4 95.4,155.3C96.1,156.2 96.0,155.8 96.0,157.0Z" fill="#ff0000"/>
<path d="M108.0,152.0C109.2,149.0 110.0,149.5 113.0,148.0C116.0,146.5 116.5,143.1 118.0,147.0C119.5,150.9 119.5,156.5 118.0,161.0C116.5,165.5 115.7,162.9 113.0,162.0C110.3,161.1 110.5,161.0 109.0,158.0C107.5,155.0 106.8,155.0 108.0,152.0Z" fill="#ff0000"/>
<path d="M112.0,151.0C113.5,143.5 114.3,150.9 117.0,153.0C119.7,155.1 120.1,154.7 121.0,158.0C121.9,161.3 120.9,160.4 120.0,164.0C119.1,167.6 119.2,166.4 118.0,170.0C116.8,173.6 117.8,173.6 116.0,176.0C114.2,178.4 113.2,185.5 112.0,178.0C110.8,170.5 110.5,158.5 112.0,151.0Z" fill="#ff0000"/>
<path d="M112.0,190.0C113.8,185.8 114.4,188.5 118.0,187.0C121.6,185.5 120.4,185.3 124.0,185.0C127.6,184.7 126.4,186.9 130.0,186.0C133.6,185.1 132.4,183.5 136.0,182.0C139.6,180.5 138.7,180.1 142.0,181.0C145.3,181.9 144.0,182.3 147.0,185.0C150.0,187.7 149.6,187.0 152.0,190.0C154.4,193.0 153.5,191.7 155.0,195.0C156.5,198.3 169.9,199.2 157.0,201.0C144.1,202.8 125.5,204.3 112.0,201.0C98.5,197.7 110.2,194.2 112.0,190.0Z" fill="#ff0000"/>
<path d="M156.4,156.0C157.0,153.9 157.9,154.1 159.0,155.0C160.1,155.9 160.0,156.6 160.0,159.0C160.0,161.4 159.9,162.1 159.0,163.0C158.1,163.9 157.8,164.1 157.0,162.0C156.2,159.9 155.8,158.1 156.4,156.0Z" fill="#ff0000"/>
<path d="M171.0,142.0C173.1,140.5 176.2,140.2 179.0,142.0C181.8,143.8 180.7,144.7 180.4,148.0C180.1,151.3 179.9,151.8 178.0,153.0C176.1,154.2 175.8,153.8 174.0,152.0C172.2,150.2 172.9,150.0 172.0,147.0C171.1,144.0 168.9,143.5 171.0,142.0Z" fill="#ff0000"/>
<path d="M112.0,142.0C113.8,140.5 116.5,140.8 118.0,142.0C119.5,143.2 118.8,144.5 117.0,146.0C115.2,147.5 113.5,148.2 112.0,147.0C110.5,145.8 110.2,143.5 112.0,142.0Z" fill="#ff0000"/>
<path d="M109.0,201.0C119.1,199.8 134.4,199.2 144.0,201.0C153.6,202.8 142.8,203.4 141.0,207.0C139.2,210.6 139.5,209.4 138.0,213.0C136.5,216.6 137.8,215.7 136.0,219.0C134.2,222.3 134.7,221.6 132.0,224.0C129.3,226.4 130.3,226.4 127.0,227.0C123.7,227.6 123.7,227.5 121.0,226.0C118.3,224.5 119.2,225.0 118.0,222.0C116.8,219.0 118.2,219.6 117.0,216.0C115.8,212.4 116.0,213.3 114.0,210.0C112.0,206.7 111.9,207.7 110.4,205.0C108.9,202.3 98.9,202.2 109.0,201.0Z" fill="#ff0000"/>
<path d="M62.2,121.0C62.2,123.3 62.5,122.5 61.1,124.1C59.8,125.7 60.5,125.4 58.6,125.4C56.7,125.4 57.4,125.7 56.1,124.1C54.7,122.5 55.0,123.3 55.0,121.0C55.0,118.7 54.7,119.5 56.1,117.9C57.4,116.3 56.7,116.6 58.6,116.6C60.5,116.6 59.8,116.3 61.1,117.9C62.5,119.5 62.2,118.7 62.2,121.0Z" fill="#00a800"/>
<path d="M152.0,87.0C153.5,83.7 152.3,83.6 155.0,80.0C157.7,76.4 157.4,77.7 161.0,75.0C164.6,72.3 163.1,72.5 167.0,71.0C170.9,69.5 170.4,69.4 174.0,70.0C177.6,70.6 176.3,70.6 179.0,73.0C181.7,75.4 180.9,74.7 183.0,78.0C185.1,81.3 184.8,80.1 186.0,84.0C187.2,87.9 187.9,88.3 187.0,91.0C186.1,93.7 185.7,93.0 183.0,93.0C180.3,93.0 181.0,91.9 178.0,91.0C175.0,90.1 176.3,89.7 173.0,90.0C169.7,90.3 170.3,90.8 167.0,92.0C163.7,93.2 165.0,91.9 162.0,94.0C159.0,96.1 159.4,95.4 157.0,99.0C154.6,102.6 155.8,101.5 154.0,106.0C152.2,110.5 153.0,113.9 151.0,114.0C149.0,114.1 148.1,111.5 147.4,106.4C146.7,101.3 147.8,101.6 148.6,97.0C149.4,92.4 149.0,94.0 150.0,91.0C151.0,88.0 150.5,90.3 152.0,87.0Z" fill="#ff0000"/>
<path d="M122.6,87.0C123.5,83.7 122.8,84.1 125.0,82.0C127.2,79.9 127.5,79.4 130.0,80.0C132.5,80.6 132.4,80.7 133.4,84.0C134.4,87.3 133.8,87.1 133.4,91.0C133.0,94.9 133.6,94.2 132.0,97.0C130.4,99.8 130.4,100.0 128.0,100.4C125.6,100.8 125.8,100.6 124.0,98.4C122.2,96.2 122.4,96.4 122.0,93.0C121.6,89.6 121.7,90.3 122.6,87.0Z" fill="#ff0000"/>
<path d="M162.0,95.6C164.7,93.6 164.4,94.2 168.0,93.0C171.6,91.8 170.4,91.7 174.0,91.6C177.6,91.5 176.4,91.7 180.0,92.6C183.6,93.5 182.7,92.5 186.0,94.6C189.3,96.7 188.9,96.1 191.0,99.6C193.1,103.1 192.7,102.1 193.0,106.4C193.3,110.7 203.4,111.7 192.0,114.0C180.6,116.3 165.5,117.0 155.0,114.0C144.5,111.0 155.8,108.3 157.0,104.0C158.2,99.7 157.5,102.1 159.0,99.6C160.5,97.1 159.3,97.6 162.0,95.6Z" fill="#ff5500"/>
<path d="M71.6,186.4C72.7,184.2 73.2,184.6 76.0,183.6C78.8,182.6 78.3,182.6 81.0,183.0C83.7,183.4 83.2,182.9 85.0,185.0C86.8,187.1 86.1,186.7 87.0,190.0C87.9,193.3 88.0,192.7 88.0,196.0C88.0,199.3 91.8,199.5 87.0,201.0C82.2,202.5 77.0,202.8 72.0,201.0C67.0,199.2 70.3,198.0 70.4,195.0C70.5,192.0 72.0,193.6 72.4,191.0C72.8,188.4 70.5,188.6 71.6,186.4Z" fill="#00e200"/>
<path d="M103.6,183.0C105.1,180.3 104.9,181.3 108.0,181.0C111.1,180.7 111.0,181.7 114.0,182.0C117.0,182.3 116.8,176.3 118.0,182.0C119.2,187.7 121.0,195.3 118.0,201.0C115.0,206.7 111.6,203.1 108.0,201.0C104.4,198.9 107.5,197.3 106.0,194.0C104.5,190.7 103.7,193.3 103.0,190.0C102.3,186.7 102.1,185.7 103.6,183.0Z" fill="#00e200"/>
<path d="M87.0,160.4C87.0,161.2 87.1,160.9 86.4,161.5C85.7,162.1 86.0,162.0 85.0,162.0C84.0,162.0 84.3,162.1 83.6,161.5C82.9,160.9 83.0,161.2 83.0,160.4C83.0,159.6 82.9,159.9 83.6,159.3C84.3,158.7 84.0,158.8 85.0,158.8C86.0,158.8 85.7,158.7 86.4,159.3C87.1,159.9 87.0,159.6 87.0,160.4Z" fill="#00e200"/>
<path d="M97.6,173.0C97.6,173.6 97.7,173.4 97.1,173.8C96.5,174.3 96.8,174.2 96.0,174.2C95.2,174.2 95.5,174.3 94.9,173.8C94.3,173.4 94.4,173.6 94.4,173.0C94.4,172.4 94.3,172.6 94.9,172.2C95.5,171.7 95.2,171.8 96.0,171.8C96.8,171.8 96.5,171.7 97.1,172.2C97.7,172.6 97.6,172.4 97.6,173.0Z" fill="#00e200"/>
<path d="M88.0,178.4C88.0,179.0 88.1,178.8 87.7,179.2C87.3,179.7 87.5,179.6 87.0,179.6C86.5,179.6 86.7,179.7 86.3,179.2C85.9,178.8 86.0,179.0 86.0,178.4C86.0,177.8 85.9,178.0 86.3,177.6C86.7,177.1 86.5,177.2 87.0,177.2C87.5,177.2 87.3,177.1 87.7,177.6C88.1,178.0 88.0,177.8 88.0,178.4Z" fill="#00e200"/>
<path d="M106.0,161.4C106.0,161.9 106.1,161.7 105.7,162.1C105.3,162.5 105.5,162.4 105.0,162.4C104.5,162.4 104.7,162.5 104.3,162.1C103.9,161.7 104.0,161.9 104.0,161.4C104.0,160.9 103.9,161.1 104.3,160.7C104.7,160.3 104.5,160.4 105.0,160.4C105.5,160.4 105.3,160.3 105.7,160.7C106.1,161.1 106.0,160.9 106.0,161.4Z" fill="#ffa500"/>
<path d="M117.2,183.0C117.2,185.3 117.4,184.5 116.3,186.1C115.1,187.7 115.7,187.4 114.0,187.4C112.3,187.4 112.9,187.7 111.7,186.1C110.6,184.5 110.8,185.3 110.8,183.0C110.8,180.7 110.6,181.5 111.7,179.9C112.9,178.3 112.3,178.6 114.0,178.6C115.7,178.6 115.1,178.3 116.3,179.9C117.4,181.5 117.2,180.7 117.2,183.0Z" fill="#00e200"/>
<path d="M159.0,156.4C159.0,157.3 159.1,157.0 158.7,157.7C158.3,158.3 158.5,158.2 158.0,158.2C157.5,158.2 157.7,158.3 157.3,157.7C156.9,157.0 157.0,157.3 157.0,156.4C157.0,155.5 156.9,155.8 157.3,155.1C157.7,154.5 157.5,154.6 158.0,154.6C158.5,154.6 158.3,154.5 158.7,155.1C159.1,155.8 159.0,155.5 159.0,156.4Z" fill="#00e200"/>
<path d="M142.4,204.0C142.4,205.5 142.5,205.0 141.8,206.0C141.1,207.0 141.4,206.8 140.4,206.8C139.4,206.8 139.7,207.0 139.0,206.0C138.3,205.0 138.4,205.5 138.4,204.0C138.4,202.5 138.3,203.0 139.0,202.0C139.7,201.0 139.4,201.2 140.4,201.2C141.4,201.2 141.1,201.0 141.8,202.0C142.5,203.0 142.4,202.5 142.4,204.0Z" fill="#ffa500"/>
<path d="M145.2,215.4C145.2,217.2 145.4,216.6 144.3,217.8C143.1,219.1 143.7,218.8 142.0,218.8C140.3,218.8 140.9,219.1 139.7,217.8C138.6,216.6 138.8,217.2 138.8,215.4C138.8,213.6 138.6,214.2 139.7,213.0C140.9,211.7 140.3,212.0 142.0,212.0C143.7,212.0 143.1,211.7 144.3,213.0C145.4,214.2 145.2,213.6 145.2,215.4Z" fill="#00e200"/>
<path d="M178.0,74.0C178.9,73.1 180.0,73.0 183.0,76.0C186.0,79.0 185.3,78.9 188.0,84.0C190.7,89.1 190.2,87.9 192.0,93.0C193.8,98.1 194.3,98.3 194.0,101.0C193.7,103.7 193.0,104.1 191.0,102.0C189.0,99.9 189.5,98.8 187.4,94.0C185.3,89.2 186.2,90.5 184.0,86.0C181.8,81.5 181.8,82.6 180.0,79.0C178.2,75.4 177.1,74.9 178.0,74.0Z" fill="#00a800"/>
<path d="M135.0,72.4C135.7,70.2 136.2,69.9 137.0,71.6C137.8,73.3 137.6,73.7 137.6,78.0C137.6,82.3 137.8,83.3 137.0,86.0C136.2,88.7 135.7,89.1 135.0,87.0C134.3,84.9 134.6,83.4 134.6,79.0C134.6,74.6 134.3,74.6 135.0,72.4Z" fill="#ffa500"/>
<path d="M74.0,187.0C74.9,184.6 76.1,184.8 79.0,185.0C81.9,185.2 82.1,185.5 83.6,187.6C85.1,189.7 85.1,190.0 84.0,192.0C82.9,194.0 82.4,194.1 80.0,194.4C77.6,194.7 77.8,195.2 76.0,193.0C74.2,190.8 73.1,189.4 74.0,187.0Z" fill="#00a800"/>
<path d="M114.8,185.0C114.8,186.3 115.1,185.9 113.5,186.8C111.9,187.8 112.7,187.6 110.4,187.6C108.1,187.6 108.9,187.8 107.3,186.8C105.7,185.9 106.0,186.3 106.0,185.0C106.0,183.7 105.7,184.1 107.3,183.2C108.9,182.2 108.1,182.4 110.4,182.4C112.7,182.4 111.9,182.2 113.5,183.2C115.1,184.1 114.8,183.7 114.8,185.0Z" fill="#00a800"/>
<path d="M115.2,182.0C115.2,183.0 115.3,182.7 114.7,183.4C114.1,184.1 114.4,184.0 113.6,184.0C112.8,184.0 113.1,184.1 112.5,183.4C111.9,182.7 112.0,183.0 112.0,182.0C112.0,181.0 111.9,181.3 112.5,180.6C113.1,179.9 112.8,180.0 113.6,180.0C114.4,180.0 114.1,179.9 114.7,180.6C115.3,181.3 115.2,181.0 115.2,182.0Z" fill="#00a800"/>
<path d="M112.0,194.4C114.1,192.0 116.2,191.0 118.0,193.0C119.8,195.0 120.1,198.6 118.0,201.0C115.9,203.4 112.8,203.0 111.0,201.0C109.2,199.0 109.9,196.8 112.0,194.4Z" fill="#ff0000"/>
<path d="M84.3,182.3C87.1,175.5 90.2,180.7 93.7,182.3C97.2,183.8 95.4,184.1 95.9,187.4C96.4,190.6 96.1,190.1 95.5,193.2C94.8,196.2 93.8,194.9 93.7,197.5C93.6,200.2 93.9,199.3 95.2,201.9C96.5,204.5 96.8,203.7 98.1,206.3C99.4,208.9 100.9,208.9 99.5,210.6C98.2,212.4 98.3,213.8 93.7,212.1C89.1,210.3 87.1,213.8 84.3,204.8C81.4,195.9 81.4,189.0 84.3,182.3Z" fill="#00e200"/>
<path d="M61.8,201.3C63.8,199.7 63.3,199.5 66.2,199.1C69.0,198.7 67.7,199.4 71.3,199.8C74.9,200.3 74.4,200.6 78.1,200.5C81.8,200.5 80.2,199.2 83.6,199.5C87.0,199.9 86.0,200.1 89.5,201.7C92.9,203.3 92.9,203.0 95.3,204.9C97.7,206.8 97.5,205.5 97.5,208.1C97.5,210.7 106.8,212.0 95.3,213.6C83.7,215.3 70.0,215.3 58.9,213.6C47.8,212.0 58.0,210.9 58.2,208.1C58.4,205.3 58.5,206.2 59.6,204.2C60.7,202.1 59.9,202.8 61.8,201.3Z" fill="#00e200"/>
<path d="M45.6,134.0C47.3,130.1 48.6,130.4 51.4,130.0C54.2,129.6 54.5,130.2 55.0,132.6C55.5,135.0 53.3,134.8 53.0,138.0C52.7,141.2 54.9,141.0 54.0,143.4C53.1,145.8 52.5,146.1 50.0,146.0C47.5,145.9 46.9,146.6 45.6,143.0C44.3,139.4 43.9,137.9 45.6,134.0Z" fill="#ff5500"/>
<path d="M62.0,135.0C64.1,131.7 64.9,131.8 67.0,133.0C69.1,134.2 69.6,135.4 69.0,139.0C68.4,142.6 67.7,143.5 65.0,145.0C62.3,146.5 60.9,147.0 60.0,144.0C59.1,141.0 59.9,138.3 62.0,135.0Z" fill="#ff5500"/>
<path d="M115.0,118.0C118.9,113.8 114.9,115.8 126.0,114.0C137.1,112.2 135.8,111.4 152.0,112.0C168.2,112.6 170.1,112.4 180.0,116.0C189.9,119.6 184.1,118.6 185.0,124.0C185.9,129.4 184.2,128.0 183.0,134.0C181.8,140.0 181.9,137.4 181.0,144.0C180.1,150.6 181.5,148.8 180.0,156.0C178.5,163.2 191.0,164.4 176.0,168.0C161.0,171.6 144.4,171.0 130.0,168.0C115.6,165.0 131.0,164.0 128.0,158.0C125.0,152.0 124.2,154.0 120.0,148.0C115.8,142.0 116.1,144.0 114.0,138.0C111.9,132.0 112.7,134.0 113.0,128.0C113.3,122.0 111.1,122.2 115.0,118.0Z" fill="#ff5500"/>
<path d="M125.0,120.0C126.2,117.6 126.1,117.8 130.0,116.0C133.9,114.2 133.2,114.0 138.0,114.0C142.8,114.0 141.7,116.6 146.0,116.0C150.3,115.4 148.8,114.7 152.4,112.0C156.0,109.3 145.5,108.5 158.0,107.0C170.5,105.5 183.5,104.3 194.0,107.0C204.5,109.7 194.2,111.5 193.0,116.0C191.8,120.5 192.4,119.9 190.0,122.0C187.6,124.1 188.0,123.6 185.0,123.0C182.0,122.4 183.3,121.5 180.0,120.0C176.7,118.5 177.6,118.3 174.0,118.0C170.4,117.7 171.0,117.5 168.0,119.0C165.0,120.5 166.4,120.6 164.0,123.0C161.6,125.4 162.7,124.9 160.0,127.0C157.3,129.1 158.0,128.2 155.0,130.0C152.0,131.8 153.0,132.4 150.0,133.0C147.0,133.6 148.0,133.2 145.0,132.0C142.0,130.8 143.0,130.5 140.0,129.0C137.0,127.5 138.0,127.9 135.0,127.0C132.0,126.1 132.7,126.9 130.0,126.0C127.3,125.1 127.5,125.8 126.0,124.0C124.5,122.2 123.8,122.4 125.0,120.0Z" fill="#ff0000"/>
<path d="M113.0,112.0C114.2,109.8 114.4,109.6 118.0,109.0C121.6,108.4 122.1,108.2 125.0,110.0C127.9,111.8 127.9,112.3 127.6,115.0C127.3,117.7 126.9,117.8 124.0,119.0C121.1,120.2 121.0,119.8 118.0,119.0C115.0,118.2 115.5,118.5 114.0,116.4C112.5,114.3 111.8,114.2 113.0,112.0Z" fill="#ff0000"/>
<path d="M99.0,143.0C101.1,134.9 102.1,141.0 106.0,141.0C109.9,141.0 108.4,141.2 112.0,143.0C115.6,144.8 114.4,144.6 118.0,147.0C121.6,149.4 120.7,148.6 124.0,151.0C127.3,153.4 127.2,152.2 129.0,155.0C130.8,157.8 130.3,156.5 130.0,160.4C129.7,164.3 137.3,165.7 128.0,168.0C118.7,170.3 107.7,175.5 99.0,168.0C90.3,160.5 96.9,151.1 99.0,143.0Z" fill="#ff0000"/>
<path d="M141.0,160.4C143.1,157.4 143.1,158.6 147.0,158.0C150.9,157.4 150.4,157.5 154.0,158.4C157.6,159.3 157.2,158.1 159.0,161.0C160.8,163.9 165.7,165.9 160.0,168.0C154.3,170.1 145.7,170.3 140.0,168.0C134.3,165.7 138.9,163.4 141.0,160.4Z" fill="#ff0000"/>
<path d="M170.0,87.0C171.8,84.3 172.7,83.6 176.0,83.0C179.3,82.4 178.1,83.0 181.0,85.0C183.9,87.0 183.1,86.6 185.6,89.6C188.1,92.6 187.6,91.3 189.4,95.0C191.2,98.7 190.7,97.5 191.6,102.0C192.5,106.5 192.6,104.6 192.4,110.0C192.2,115.4 198.3,117.0 191.0,120.0C183.7,123.0 175.0,122.3 168.0,120.0C161.0,117.7 166.9,116.7 167.6,112.4C168.3,108.1 169.8,109.6 170.4,105.6C171.0,101.6 169.7,103.1 169.6,99.0C169.5,94.9 169.9,95.6 170.0,92.0C170.1,88.4 168.2,89.7 170.0,87.0Z" fill="#ff0000"/>
<path d="M104.0,195.5C105.5,195.7 104.7,197.2 106.9,197.6C109.1,198.1 108.7,197.8 111.3,196.9C113.9,196.0 112.8,195.8 115.6,194.7C118.5,193.6 119.2,187.6 120.7,193.3C122.3,198.9 124.4,207.5 120.7,213.6C117.0,219.7 112.9,214.9 108.4,213.6C103.8,212.3 107.2,211.9 105.5,209.3C103.7,206.7 103.9,207.5 102.5,204.9C101.2,202.3 101.3,202.9 101.1,200.5C100.9,198.1 100.9,198.4 101.8,196.9C102.7,195.4 102.5,195.2 104.0,195.5Z" fill="#ff0000"/>
<path d="M120.0,143.0C121.5,140.6 121.8,141.5 126.0,140.0C130.2,138.5 128.9,139.2 134.0,138.0C139.1,136.8 138.2,137.2 143.0,136.0C147.8,134.8 145.5,134.9 150.0,134.0C154.5,133.1 152.9,133.0 158.0,133.0C163.1,133.0 164.0,132.5 167.0,134.0C170.0,135.5 169.5,136.2 168.0,138.0C166.5,139.8 165.9,139.4 162.0,140.0C158.1,140.6 159.2,139.7 155.0,140.0C150.8,140.3 151.6,139.8 148.0,141.0C144.4,142.2 144.5,141.0 143.0,144.0C141.5,147.0 143.3,146.8 143.0,151.0C142.7,155.2 142.9,153.8 142.0,158.0C141.1,162.2 142.1,162.6 140.0,165.0C137.9,167.4 138.0,166.9 135.0,166.0C132.0,165.1 131.8,165.3 130.0,162.0C128.2,158.7 130.5,158.3 129.0,155.0C127.5,151.7 127.4,153.1 125.0,151.0C122.6,148.9 122.5,150.4 121.0,148.0C119.5,145.6 118.5,145.4 120.0,143.0Z" fill="#00e200"/>
<path d="M176.4,161.6C177.9,159.1 178.5,160.0 182.0,159.6C185.5,159.2 185.3,158.8 188.0,160.4C190.7,162.0 191.0,162.7 191.0,165.0C191.0,167.3 192.2,167.1 188.0,168.0C183.8,168.9 180.5,169.9 177.0,168.0C173.5,166.1 174.9,164.1 176.4,161.6Z" fill="#00e200"/>
<path d="M68.6,134.0C68.6,135.9 68.9,135.2 67.3,136.5C65.7,137.9 66.5,137.6 64.2,137.6C61.9,137.6 62.7,137.9 61.1,136.5C59.5,135.2 59.8,135.9 59.8,134.0C59.8,132.1 59.5,132.8 61.1,131.5C62.7,130.1 61.9,130.4 64.2,130.4C66.5,130.4 65.7,130.1 67.3,131.5C68.9,132.8 68.6,132.1 68.6,134.0Z" fill="#00a800"/>
<path d="M35.0,129.0C37.7,126.3 37.1,125.6 41.0,125.0C44.9,124.4 45.3,124.6 48.0,127.0C50.7,129.4 50.3,129.1 50.0,133.0C49.7,136.9 48.8,136.1 47.0,140.0C45.2,143.9 46.7,144.5 44.0,146.0C41.3,147.5 41.3,146.5 38.0,145.0C34.7,143.5 34.8,144.3 33.0,141.0C31.2,137.7 31.4,137.6 32.0,134.0C32.6,130.4 32.3,131.7 35.0,129.0Z" fill="#00e200"/>
<path d="M80.0,175.1C81.1,173.1 81.8,173.9 85.1,173.6C88.4,173.4 87.6,174.1 90.9,174.4C94.2,174.6 93.8,173.5 96.0,174.4C98.2,175.2 98.4,175.1 98.2,177.3C98.0,179.5 97.5,179.5 95.3,181.6C93.1,183.8 92.4,182.1 90.9,184.5C89.4,186.9 91.3,187.5 90.2,189.6C89.1,191.8 89.0,192.0 87.3,191.8C85.5,191.6 85.5,191.1 84.4,188.9C83.3,186.7 84.5,187.2 83.6,184.5C82.8,181.9 82.5,183.0 81.5,180.2C80.4,177.3 78.9,177.1 80.0,175.1Z" fill="#ff5500"/>
<path d="M119.4,140.0C119.4,140.9 119.6,140.6 118.7,141.3C117.8,141.9 118.2,141.8 117.0,141.8C115.8,141.8 116.2,141.9 115.3,141.3C114.4,140.6 114.6,140.9 114.6,140.0C114.6,139.1 114.4,139.4 115.3,138.7C116.2,138.1 115.8,138.2 117.0,138.2C118.2,138.2 117.8,138.1 118.7,138.7C119.6,139.4 119.4,139.1 119.4,140.0Z" fill="#ffa500"/>
<path d="M119.6,149.0C119.6,149.8 119.7,149.5 119.1,150.1C118.5,150.7 118.8,150.6 118.0,150.6C117.2,150.6 117.5,150.7 116.9,150.1C116.3,149.5 116.4,149.8 116.4,149.0C116.4,148.2 116.3,148.5 116.9,147.9C117.5,147.3 117.2,147.4 118.0,147.4C118.8,147.4 118.5,147.3 119.1,147.9C119.7,148.5 119.6,148.2 119.6,149.0Z" fill="#ffa500"/>
<path d="M167.0,162.0C167.0,162.7 167.1,162.5 166.4,163.0C165.7,163.5 166.0,163.4 165.0,163.4C164.0,163.4 164.3,163.5 163.6,163.0C162.9,162.5 163.0,162.7 163.0,162.0C163.0,161.3 162.9,161.5 163.6,161.0C164.3,160.5 164.0,160.6 165.0,160.6C166.0,160.6 165.7,160.5 166.4,161.0C167.1,161.5 167.0,161.3 167.0,162.0Z" fill="#ffa500"/>
<path d="M50.2,198.4C51.3,197.3 52.9,199.6 56.0,199.8C59.1,200.0 58.0,198.7 60.4,199.1C62.8,199.5 64.0,199.7 64.0,201.3C64.0,202.8 62.8,202.7 60.4,204.2C58.0,205.7 58.4,206.6 56.0,206.4C53.6,206.1 54.1,205.9 52.4,203.5C50.6,201.1 49.1,199.5 50.2,198.4Z" fill="#ff5500"/>
<path d="M84.3,146.5C87.3,139.0 92.7,146.3 99.5,145.8C106.4,145.4 114.1,143.8 118.5,144.4C122.8,144.9 119.6,146.7 121.4,148.7C123.1,150.8 125.4,152.2 127.2,154.5C128.9,156.9 129.2,157.7 130.1,160.4C131.0,163.0 130.7,165.0 131.5,167.6C132.4,170.3 133.6,170.3 134.5,173.5C135.3,176.7 145.9,181.6 135.9,183.6C125.9,185.7 94.6,191.1 84.3,183.6C73.9,176.2 81.2,154.1 84.3,146.5Z" fill="#ff5500"/>
<path d="M138.8,166.9C140.1,164.0 141.1,161.1 143.2,158.9C145.2,156.7 144.5,156.9 149.0,156.0C153.5,155.1 162.4,151.5 165.7,154.5C169.1,157.6 167.9,167.9 165.7,171.3C163.5,174.6 157.6,170.0 154.8,171.3C152.1,172.6 153.1,175.3 151.9,177.8C150.7,180.3 152.2,182.5 149.0,183.6C145.8,184.8 138.4,185.7 135.9,183.6C133.4,181.6 136.1,176.8 136.6,173.5C137.2,170.1 137.5,169.8 138.8,166.9Z" fill="#ff5500"/>
<path d="M15.2,169.6C16.7,168.3 16.6,167.5 18.8,167.5C21.0,167.5 20.3,167.7 22.5,169.6C24.6,171.6 25.2,171.4 26.1,174.0C27.0,176.6 25.1,175.7 25.4,178.4C25.6,181.0 24.9,180.1 26.8,182.7C28.8,185.3 28.6,183.8 31.9,187.1C35.2,190.4 37.1,191.7 37.7,193.6C38.4,195.6 41.3,200.2 34.1,193.6C26.9,187.1 19.4,179.0 13.7,171.8C8.1,164.6 13.7,170.9 15.2,169.6Z" fill="#ff5500"/>
<path d="M146.1,182.3C147.5,181.8 147.8,183.5 150.5,185.9C153.1,188.3 152.2,187.4 154.8,190.3C157.4,193.1 156.8,192.7 159.2,195.4C161.6,198.1 163.3,196.9 162.8,199.3C162.4,201.7 160.6,200.6 157.7,203.4C154.9,206.1 156.0,205.8 153.4,208.5C150.7,211.1 151.6,211.4 149.0,212.1C146.4,212.7 147.0,212.8 144.6,210.6C142.2,208.5 141.7,208.3 141.0,204.8C140.3,201.3 141.4,202.5 142.5,199.0C143.5,195.5 143.6,196.7 144.6,193.2C145.6,189.7 145.4,190.6 145.8,187.4C146.2,184.1 144.7,182.7 146.1,182.3Z" fill="#ff5500"/>
<path d="M99.5,148.7C100.4,146.3 100.8,145.5 103.2,145.1C105.6,144.7 105.4,145.3 107.5,147.3C109.7,149.2 108.5,149.5 110.5,151.6C112.4,153.8 111.9,153.0 114.1,154.5C116.3,156.1 116.0,154.8 117.7,156.7C119.5,158.7 119.0,158.3 119.9,161.1C120.8,163.9 120.9,163.1 120.6,166.2C120.4,169.2 120.5,168.7 119.2,171.3C117.9,173.9 118.2,172.9 116.3,174.9C114.3,177.0 115.0,176.6 112.6,178.1C110.2,179.6 110.9,179.0 108.3,180.0C105.7,181.0 106.5,180.4 103.9,181.5C101.3,182.5 102.6,183.0 99.5,183.6C96.5,184.3 95.9,185.3 93.7,183.6C91.5,182.0 91.4,180.5 92.3,178.1C93.1,175.7 93.8,176.8 96.6,175.6C99.5,174.5 98.9,175.3 101.7,174.2C104.6,173.1 104.1,173.7 106.1,172.0C108.1,170.3 107.4,170.8 108.3,168.4C109.1,166.0 109.4,166.6 109.0,164.0C108.6,161.4 108.6,162.0 106.8,159.6C105.1,157.2 105.1,158.0 103.2,156.0C101.2,154.0 101.4,155.3 100.3,153.1C99.2,150.9 98.7,151.1 99.5,148.7Z" fill="#ff0000"/>
<path d="M128.6,161.8C129.0,159.0 129.6,158.6 131.5,158.2C133.5,157.7 133.2,158.4 135.2,160.4C137.1,162.3 136.3,162.3 138.1,164.7C139.8,167.1 139.5,165.7 141.0,168.4C142.5,171.0 142.7,170.2 143.2,173.5C143.6,176.7 143.3,176.2 142.5,179.3C141.6,182.3 142.2,182.3 140.3,183.6C138.3,184.9 137.4,185.3 135.9,183.6C134.4,182.0 136.1,181.4 135.2,178.1C134.3,174.8 134.4,175.9 133.0,172.7C131.6,169.6 131.7,170.9 130.4,167.6C129.1,164.4 128.3,164.7 128.6,161.8Z" fill="#ff0000"/>
<path d="M94.5,158.2C94.5,159.3 94.6,158.9 93.9,159.7C93.2,160.5 93.5,160.4 92.6,160.4C91.6,160.4 91.9,160.5 91.2,159.7C90.5,158.9 90.7,159.3 90.7,158.2C90.7,157.1 90.5,157.4 91.2,156.6C91.9,155.8 91.6,156.0 92.6,156.0C93.5,156.0 93.2,155.8 93.9,156.6C94.6,157.4 94.5,157.1 94.5,158.2Z" fill="#ff0000"/>
<path d="M19.5,173.3C19.9,170.7 20.7,170.4 22.5,170.4C24.2,170.4 24.7,170.9 25.4,173.3C26.0,175.7 25.9,176.6 24.6,178.4C23.4,180.1 22.8,180.6 21.3,179.1C19.8,177.6 19.2,175.9 19.5,173.3Z" fill="#ff0000"/>
<path d="M94.0,182.3C96.2,180.7 100.7,181.0 103.2,182.3C105.6,183.6 101.9,184.2 102.2,186.6C102.4,189.0 102.5,187.7 103.9,190.3C105.3,192.9 105.3,192.5 106.8,195.4C108.3,198.2 109.0,197.8 109.0,199.7C109.0,201.7 108.8,201.7 106.8,201.9C104.9,202.1 104.9,201.8 102.5,200.5C100.1,199.1 100.7,199.7 98.8,197.5C97.0,195.4 97.2,196.2 96.3,193.2C95.5,190.1 96.6,190.6 95.9,187.4C95.2,184.1 91.8,183.8 94.0,182.3Z" fill="#ff0000"/>
<path d="M140.7,176.1C140.7,177.7 140.8,177.2 140.2,178.3C139.7,179.5 139.9,179.3 139.1,179.3C138.3,179.3 138.6,179.5 138.0,178.3C137.4,177.2 137.5,177.7 137.5,176.1C137.5,174.4 137.4,175.0 138.0,173.8C138.6,172.6 138.3,172.9 139.1,172.9C139.9,172.9 139.7,172.6 140.2,173.8C140.8,175.0 140.7,174.4 140.7,176.1Z" fill="#ffa500"/>
<path d="M104.5,161.8C104.5,162.4 104.6,162.2 104.2,162.6C103.9,163.1 104.1,163.0 103.6,163.0C103.2,163.0 103.3,163.1 103.0,162.6C102.7,162.2 102.7,162.4 102.7,161.8C102.7,161.2 102.7,161.4 103.0,161.0C103.3,160.6 103.2,160.7 103.6,160.7C104.1,160.7 103.9,160.6 104.2,161.0C104.6,161.4 104.5,161.2 104.5,161.8Z" fill="#ffa500"/>
<path d="M96.5,173.7C96.5,174.5 96.6,174.2 95.9,174.8C95.1,175.3 95.5,175.2 94.5,175.2C93.4,175.2 93.8,175.3 93.0,174.8C92.3,174.2 92.4,174.5 92.4,173.7C92.4,173.0 92.3,173.3 93.0,172.7C93.8,172.2 93.4,172.3 94.5,172.3C95.5,172.3 95.1,172.2 95.9,172.7C96.6,173.3 96.5,173.0 96.5,173.7Z" fill="#00e200"/>
<path d="M32.9,182.7C32.9,184.1 33.2,183.6 32.0,184.6C30.8,185.5 31.4,185.3 29.7,185.3C28.1,185.3 28.6,185.5 27.5,184.6C26.3,183.6 26.5,184.1 26.5,182.7C26.5,181.4 26.3,181.8 27.5,180.9C28.6,179.9 28.1,180.1 29.7,180.1C31.4,180.1 30.8,179.9 32.0,180.9C33.2,181.8 32.9,181.4 32.9,182.7Z" fill="#00e200"/>
<path d="M140.9,203.4C140.9,204.9 141.0,204.4 140.5,205.4C140.0,206.5 140.2,206.3 139.5,206.3C138.9,206.3 139.1,206.5 138.6,205.4C138.1,204.4 138.2,204.9 138.2,203.4C138.2,201.9 138.1,202.4 138.6,201.3C139.1,200.2 138.9,200.5 139.5,200.5C140.2,200.5 140.0,200.2 140.5,201.3C141.0,202.4 140.9,201.9 140.9,203.4Z" fill="#ffa500"/>
<path d="M136.2,217.9C136.2,218.8 136.3,218.5 135.9,219.1C135.5,219.8 135.7,219.7 135.2,219.7C134.7,219.7 134.8,219.8 134.5,219.1C134.1,218.5 134.2,218.8 134.2,217.9C134.2,217.0 134.1,217.3 134.5,216.7C134.8,216.0 134.7,216.2 135.2,216.2C135.7,216.2 135.5,216.0 135.9,216.7C136.3,217.3 136.2,217.0 136.2,217.9Z" fill="#ffa500"/>
<path d="M149.7,204.1C149.7,206.0 149.9,205.3 148.9,206.7C147.8,208.0 148.3,207.7 146.8,207.7C145.3,207.7 145.8,208.0 144.8,206.7C143.7,205.3 143.9,206.0 143.9,204.1C143.9,202.2 143.7,202.9 144.8,201.5C145.8,200.2 145.3,200.5 146.8,200.5C148.3,200.5 147.8,200.2 148.9,201.5C149.9,202.9 149.7,202.2 149.7,204.1Z" fill="#00e200"/>
<path d="M137.1,214.3C138.4,212.1 138.5,211.8 141.0,211.4C143.5,210.9 143.8,211.1 145.4,212.8C146.9,214.6 146.7,214.7 146.1,217.2C145.4,219.7 145.4,219.6 143.2,221.1C141.0,222.6 140.8,223.0 138.8,222.3C136.9,221.5 137.2,221.0 136.6,218.6C136.1,216.2 135.8,216.5 137.1,214.3Z" fill="#00e200"/>
<path d="M151.8,99.7C152.9,96.5 152.8,97.5 155.5,95.4C158.1,93.2 157.3,93.5 160.5,92.5C163.8,91.4 163.1,92.8 166.4,91.7C169.6,90.6 168.8,90.6 171.5,88.8C174.1,87.1 172.9,86.1 175.1,85.9C177.3,85.7 177.0,86.1 178.7,88.1C180.5,90.1 179.6,89.8 180.9,92.5C182.2,95.1 182.2,94.0 183.1,96.8C184.0,99.7 184.7,99.9 183.8,101.9C182.9,103.9 182.8,103.1 180.2,103.4C177.6,103.6 177.9,102.4 175.1,102.6C172.3,102.9 173.1,103.0 170.7,104.1C168.3,105.2 169.3,104.5 167.1,106.3C164.9,108.0 165.9,108.4 163.5,109.9C161.1,111.4 161.7,111.4 159.1,111.4C156.5,111.4 156.9,111.4 154.7,109.9C152.5,108.4 152.7,109.3 151.8,106.3C150.9,103.2 150.7,103.0 151.8,99.7Z" fill="#ff5500"/>
<path d="M173.6,80.1C174.3,78.3 174.9,78.2 176.3,79.1C177.6,79.9 177.6,80.1 178.0,83.0C178.4,85.9 178.6,86.9 177.7,88.8C176.8,90.8 176.2,90.6 175.1,89.5C174.0,88.5 174.4,88.0 173.9,85.2C173.5,82.3 172.9,81.9 173.6,80.1Z" fill="#ff5500"/>
<path d="M154.0,83.7C154.4,81.3 154.9,81.3 156.9,80.8C158.9,80.4 159.2,80.5 160.5,82.3C161.9,84.0 161.7,84.5 161.3,86.6C160.8,88.8 160.8,88.9 159.1,89.5C157.3,90.2 157.0,90.6 155.5,88.8C153.9,87.1 153.6,86.1 154.0,83.7Z" fill="#00e200"/>
<path d="M143.8,117.8C144.0,114.3 144.5,115.0 146.7,113.5C148.9,111.9 149.3,111.4 151.1,112.7C152.8,114.0 152.3,114.5 152.5,117.8C152.8,121.1 152.9,120.8 151.8,123.6C150.7,126.5 150.7,126.8 148.9,127.3C147.2,127.7 147.5,127.9 146.0,125.1C144.5,122.3 143.6,121.3 143.8,117.8Z" fill="#00e200"/>
<path d="M130.0,112.7C131.7,110.2 131.9,112.0 135.8,112.0C139.7,112.0 140.7,111.4 143.1,112.7C145.5,114.0 144.7,114.7 143.8,116.4C142.9,118.0 143.0,117.4 140.2,118.1C137.3,118.8 137.4,118.0 134.4,118.7C131.3,119.4 131.3,122.2 130.0,120.4C128.7,118.6 128.3,115.3 130.0,112.7Z" fill="#ff5500"/>
<path d="M164.2,159.3C170.1,157.7 175.9,157.7 178.7,159.3C181.6,160.8 177.1,161.5 173.6,164.4C170.1,167.2 170.8,166.5 167.1,168.7C163.4,171.0 164.5,170.7 161.3,171.9C158.0,173.1 158.5,173.7 156.2,172.8C153.9,171.9 152.7,171.5 153.6,169.0C154.4,166.5 155.9,167.3 159.1,164.4C162.3,161.4 158.3,160.8 164.2,159.3Z" fill="#00e200"/>
<path d="M134.4,162.9C135.7,159.4 135.9,161.0 138.7,161.5C141.6,161.9 142.1,161.7 143.8,164.4C145.6,167.0 145.2,166.7 144.5,170.2C143.9,173.7 143.8,173.8 141.6,176.0C139.5,178.2 139.5,178.3 137.3,177.5C135.1,176.6 135.2,177.5 134.4,173.1C133.5,168.7 133.1,166.4 134.4,162.9Z" fill="#ff5500"/>
<path d="M76.2,128.2C76.6,125.1 77.4,127.0 79.8,125.3C82.2,123.5 80.9,123.7 84.2,122.4C87.5,121.1 88.8,115.7 90.7,120.9C92.7,126.1 92.3,134.6 90.7,139.8C89.2,145.1 88.5,138.4 85.6,138.4C82.8,138.4 83.5,140.7 81.3,139.8C79.1,138.9 79.9,138.9 78.4,135.5C76.8,132.0 75.7,131.2 76.2,128.2Z" fill="#00e200"/>
<path d="M173.7,85.0C177.4,83.7 179.3,83.4 183.9,84.3C188.5,85.1 186.6,85.1 189.0,87.9C191.4,90.7 190.8,90.5 191.9,93.7C193.0,97.0 193.7,96.9 192.6,98.8C191.5,100.8 191.3,100.1 188.3,100.3C185.2,100.5 185.5,99.3 182.5,99.5C179.4,99.8 180.7,101.2 178.1,101.0C175.5,100.8 175.9,101.0 173.7,98.8C171.5,96.6 171.5,96.8 170.8,93.7C170.2,90.7 170.7,91.3 171.5,88.6C172.4,86.0 170.0,86.3 173.7,85.0Z" fill="#ff5500"/>
<path d="M166.2,169.5C166.2,171.1 166.5,170.5 165.2,171.7C163.9,172.9 164.5,172.7 162.7,172.7C160.9,172.7 161.5,172.9 160.3,171.7C159.0,170.5 159.2,171.1 159.2,169.5C159.2,167.8 159.0,168.4 160.3,167.2C161.5,166.0 160.9,166.3 162.7,166.3C164.5,166.3 163.9,166.0 165.2,167.2C166.5,168.4 166.2,167.8 166.2,169.5Z" fill="#00a800"/>
<path d="M140.6,176.0C140.6,177.8 140.7,177.2 140.1,178.5C139.6,179.7 139.8,179.5 139.0,179.5C138.2,179.5 138.5,179.7 137.9,178.5C137.3,177.2 137.4,177.8 137.4,176.0C137.4,174.2 137.3,174.8 137.9,173.5C138.5,172.3 138.2,172.5 139.0,172.5C139.8,172.5 139.6,172.3 140.1,173.5C140.7,174.8 140.6,174.2 140.6,176.0Z" fill="#ffa500"/>
<path d="M79.8,128.2C80.9,126.2 81.6,125.7 84.2,125.3C86.8,124.8 87.5,124.5 88.5,126.7C89.6,128.9 89.3,130.4 87.8,132.5C86.3,134.7 85.6,134.2 83.5,134.0C81.3,133.8 81.6,133.6 80.5,131.8C79.5,130.1 78.7,130.1 79.8,128.2Z" fill="#00a800"/>
<path d="M186.6,83.0C188.0,81.8 190.7,80.6 193.4,83.0C196.1,85.4 194.6,85.6 195.6,91.0C196.6,96.4 196.3,95.0 196.6,101.0C196.9,107.0 197.2,105.6 196.6,111.0C196.0,116.4 196.0,114.7 194.6,119.0C193.2,123.3 194.0,121.8 191.8,125.4C189.6,129.0 189.8,127.8 187.4,131.0C185.0,134.2 185.8,132.6 183.8,136.0C181.8,139.4 182.9,140.5 180.6,142.4C178.3,144.3 175.9,144.5 176.0,142.4C176.1,140.3 178.3,139.3 181.0,135.4C183.7,131.5 182.7,133.1 185.0,129.4C187.3,125.7 186.7,127.0 188.6,123.0C190.5,119.0 190.2,120.2 191.4,116.0C192.6,111.8 192.4,113.5 192.6,109.0C192.8,104.5 192.7,105.8 192.2,101.0C191.7,96.2 192.1,97.2 191.0,93.0C189.9,88.8 189.9,90.0 188.6,87.0C187.3,84.0 185.2,84.2 186.6,83.0Z" fill="#00e200"/>
<path d="M173.4,62.4C173.4,64.7 173.6,63.9 172.6,65.5C171.6,67.1 172.1,66.8 170.6,66.8C169.1,66.8 169.6,67.1 168.6,65.5C167.6,63.9 167.8,64.7 167.8,62.4C167.8,60.1 167.6,60.9 168.6,59.3C169.6,57.7 169.1,58.0 170.6,58.0C172.1,58.0 171.6,57.7 172.6,59.3C173.6,60.9 173.4,60.1 173.4,62.4Z" fill="#1e9cff"/>
<path d="M173.0,53.2C174.6,53.8 178.2,57.2 179.4,59.2C180.6,61.2 178.6,60.6 177.0,60.0C175.4,59.4 175.4,59.2 174.2,57.2C173.0,55.2 171.4,52.6 173.0,53.2Z" fill="#1e9cff"/>
<path d="M125.2,60.0C125.2,61.0 125.4,60.7 124.6,61.4C123.7,62.1 124.1,62.0 123.0,62.0C121.9,62.0 122.3,62.1 121.4,61.4C120.6,60.7 120.8,61.0 120.8,60.0C120.8,59.0 120.6,59.3 121.4,58.6C122.3,57.9 121.9,58.0 123.0,58.0C124.1,58.0 123.7,57.9 124.6,58.6C125.4,59.3 125.2,59.0 125.2,60.0Z" fill="#1e9cff"/>
<path d="M111.0,64.0C111.0,64.9 111.2,64.6 110.2,65.3C109.2,65.9 109.7,65.8 108.2,65.8C106.7,65.8 107.2,65.9 106.2,65.3C105.2,64.6 105.4,64.9 105.4,64.0C105.4,63.1 105.2,63.4 106.2,62.7C107.2,62.1 106.7,62.2 108.2,62.2C109.7,62.2 109.2,62.1 110.2,62.7C111.2,63.4 111.0,63.1 111.0,64.0Z" fill="#1e9cff"/>
<path d="M103.0,88.0C104.5,85.6 102.9,85.5 105.0,84.0C107.1,82.5 107.0,83.0 110.0,83.0C113.0,83.0 113.2,82.2 115.0,84.0C116.8,85.8 116.3,86.0 116.0,89.0C115.7,92.0 115.8,91.3 114.0,94.0C112.2,96.7 112.1,95.6 110.0,98.0C107.9,100.4 108.5,99.6 107.0,102.0C105.5,104.4 106.8,104.0 105.0,106.0C103.2,108.0 103.4,108.3 101.0,108.6C98.6,108.9 98.5,108.4 97.0,107.0C95.5,105.6 95.4,105.8 96.0,104.0C96.6,102.2 98.1,103.4 99.0,101.0C99.9,98.6 98.7,98.7 99.0,96.0C99.3,93.3 98.8,94.4 100.0,92.0C101.2,89.6 101.5,90.4 103.0,88.0Z" fill="#1e9cff"/>
<path d="M86.8,100.0C86.8,101.7 87.1,101.1 85.5,102.3C83.9,103.4 84.7,103.2 82.4,103.2C80.1,103.2 80.9,103.4 79.3,102.3C77.7,101.1 78.0,101.7 78.0,100.0C78.0,98.3 77.7,98.9 79.3,97.7C80.9,96.6 80.1,96.8 82.4,96.8C84.7,96.8 83.9,96.6 85.5,97.7C87.1,98.9 86.8,98.3 86.8,100.0Z" fill="#1e9cff"/>
<path d="M103.6,120.0C105.0,118.1 105.1,117.0 107.0,116.6C108.9,116.2 109.0,116.7 110.0,118.6C111.0,120.5 110.7,120.5 110.4,123.0C110.1,125.5 109.1,124.6 109.0,127.0C108.9,129.4 110.2,128.7 110.0,131.0C109.8,133.3 109.7,133.7 108.4,134.6C107.1,135.5 106.8,135.4 105.6,134.0C104.4,132.6 105.2,132.4 104.4,130.0C103.6,127.6 103.6,128.1 103.0,126.0C102.4,123.9 102.2,124.8 102.4,123.0C102.6,121.2 102.2,121.9 103.6,120.0Z" fill="#1e9cff"/>
<path d="M149.4,115.0C149.4,116.0 149.6,115.7 148.7,116.4C147.8,117.1 148.2,117.0 147.0,117.0C145.8,117.0 146.2,117.1 145.3,116.4C144.4,115.7 144.6,116.0 144.6,115.0C144.6,114.0 144.4,114.3 145.3,113.6C146.2,112.9 145.8,113.0 147.0,113.0C148.2,113.0 147.8,112.9 148.7,113.6C149.6,114.3 149.4,114.0 149.4,115.0Z" fill="#1e9cff"/>
<path d="M146.0,104.0C146.0,105.2 146.1,104.8 145.5,105.7C144.9,106.6 145.2,106.4 144.4,106.4C143.6,106.4 143.9,106.6 143.3,105.7C142.7,104.8 142.8,105.2 142.8,104.0C142.8,102.8 142.7,103.2 143.3,102.3C143.9,101.4 143.6,101.6 144.4,101.6C145.2,101.6 144.9,101.4 145.5,102.3C146.1,103.2 146.0,102.8 146.0,104.0Z" fill="#1e9cff"/>
<path d="M23.0,157.0C22.8,154.0 23.2,154.7 25.0,152.0C26.8,149.3 25.7,149.5 29.0,148.0C32.3,146.5 32.1,146.7 36.0,147.0C39.9,147.3 39.0,146.9 42.0,149.0C45.0,151.1 44.9,150.7 46.0,154.0C47.1,157.3 46.8,157.0 45.6,160.0C44.4,163.0 44.9,162.2 42.0,164.0C39.1,165.8 39.6,165.5 36.0,166.0C32.4,166.5 33.1,166.8 30.0,165.6C26.9,164.4 27.7,164.6 25.6,162.0C23.5,159.4 23.2,160.0 23.0,157.0Z" fill="#1e9cff"/>
<path d="M17.6,167.0C17.9,165.0 18.5,165.0 21.0,164.4C23.5,163.8 23.9,163.9 26.0,165.0C28.1,166.1 28.3,166.2 28.0,168.0C27.7,169.8 27.4,170.1 25.0,171.0C22.6,171.9 22.2,172.2 20.0,171.0C17.8,169.8 17.3,169.0 17.6,167.0Z" fill="#1e9cff"/>
<path d="M87.8,196.4C87.8,198.5 88.0,197.8 87.0,199.2C86.0,200.7 86.5,200.4 85.0,200.4C83.5,200.4 84.0,200.7 83.0,199.2C82.0,197.8 82.2,198.5 82.2,196.4C82.2,194.3 82.0,195.0 83.0,193.6C84.0,192.1 83.5,192.4 85.0,192.4C86.5,192.4 86.0,192.1 87.0,193.6C88.0,195.0 87.8,194.3 87.8,196.4Z" fill="#1e9cff"/>
<path d="M107.6,189.6C107.6,190.6 107.7,190.3 107.0,191.0C106.3,191.7 106.6,191.6 105.6,191.6C104.6,191.6 104.9,191.7 104.2,191.0C103.5,190.3 103.6,190.6 103.6,189.6C103.6,188.6 103.5,188.9 104.2,188.2C104.9,187.5 104.6,187.6 105.6,187.6C106.6,187.6 106.3,187.5 107.0,188.2C107.7,188.9 107.6,188.6 107.6,189.6Z" fill="#1e9cff"/>
<path d="M132.0,159.0C132.4,157.0 132.9,156.8 135.0,156.4C137.1,156.0 137.5,156.0 139.0,157.6C140.5,159.2 140.6,159.7 140.0,161.6C139.4,163.5 138.9,163.6 137.0,164.0C135.1,164.4 135.1,164.5 133.6,163.0C132.1,161.5 131.6,161.0 132.0,159.0Z" fill="#1e9cff"/>
<path d="M60.0,210.0C60.3,207.3 61.4,208.2 65.0,207.0C68.6,205.8 67.5,206.6 72.0,206.0C76.5,205.4 75.2,205.0 80.0,205.0C84.8,205.0 83.5,205.1 88.0,206.0C92.5,206.9 90.8,206.5 95.0,208.0C99.2,209.5 98.4,208.9 102.0,211.0C105.6,213.1 105.2,212.0 107.0,215.0C108.8,218.0 108.3,217.7 108.0,221.0C107.7,224.3 107.5,223.6 106.0,226.0C104.5,228.4 105.4,227.5 103.0,229.0C100.6,230.5 101.0,230.3 98.0,231.0C95.0,231.7 96.6,231.4 93.0,231.4C89.4,231.4 89.9,231.6 86.0,231.0C82.1,230.4 83.6,230.9 80.0,229.4C76.4,227.9 77.3,228.5 74.0,226.0C70.7,223.5 72.0,224.0 69.0,221.0C66.0,218.0 66.7,219.3 64.0,216.0C61.3,212.7 59.7,212.7 60.0,210.0Z" fill="#1e9cff"/>
<path d="M137.2,143.0C137.2,144.5 137.5,144.0 136.1,145.0C134.8,146.0 135.5,145.8 133.6,145.8C131.7,145.8 132.4,146.0 131.1,145.0C129.7,144.0 130.0,144.5 130.0,143.0C130.0,141.5 129.7,142.0 131.1,141.0C132.4,140.0 131.7,140.2 133.6,140.2C135.5,140.2 134.8,140.0 136.1,141.0C137.5,142.0 137.2,141.5 137.2,143.0Z" fill="#1e9cff"/>
<path d="M164.0,137.0C164.0,137.9 164.3,137.6 162.9,138.3C161.6,138.9 162.3,138.8 160.4,138.8C158.5,138.8 159.2,138.9 157.9,138.3C156.5,137.6 156.8,137.9 156.8,137.0C156.8,136.1 156.5,136.4 157.9,135.7C159.2,135.1 158.5,135.2 160.4,135.2C162.3,135.2 161.6,135.1 162.9,135.7C164.3,136.4 164.0,136.1 164.0,137.0Z" fill="#1e9cff"/>
<path d="M138.8,159.6C138.8,161.9 139.0,161.1 138.0,162.7C137.0,164.3 137.5,164.0 136.0,164.0C134.5,164.0 135.0,164.3 134.0,162.7C133.0,161.1 133.2,161.9 133.2,159.6C133.2,157.3 133.0,158.1 134.0,156.5C135.0,154.9 134.5,155.2 136.0,155.2C137.5,155.2 137.0,154.9 138.0,156.5C139.0,158.1 138.8,157.3 138.8,159.6Z" fill="#1e9cff"/>
<path d="M60.4,205.6C62.1,201.9 61.5,203.3 64.7,201.3C68.0,199.2 67.3,199.3 71.3,198.8C75.3,198.3 74.7,198.9 78.1,199.5C81.5,200.1 79.4,200.5 82.5,200.8C85.5,201.1 84.8,199.6 88.3,200.5C91.8,201.5 91.2,201.8 94.1,203.9C97.0,206.0 96.5,204.6 97.9,207.5C99.3,210.5 110.6,211.8 98.9,213.6C87.2,215.5 70.5,216.0 58.9,213.6C47.3,211.2 58.6,209.3 60.4,205.6Z" fill="#1e9cff"/>
<path d="M148.8,115.2C148.8,116.4 148.9,116.0 148.2,116.8C147.4,117.7 147.8,117.5 146.7,117.5C145.7,117.5 146.0,117.7 145.3,116.8C144.5,116.0 144.7,116.4 144.7,115.2C144.7,114.0 144.5,114.4 145.3,113.6C146.0,112.7 145.7,112.9 146.7,112.9C147.8,112.9 147.4,112.7 148.2,113.6C148.9,114.4 148.8,114.0 148.8,115.2Z" fill="#1e9cff"/>
<path d="M171.8,61.6C171.8,62.9 171.9,62.5 171.3,63.4C170.7,64.4 171.0,64.2 170.2,64.2C169.4,64.2 169.7,64.4 169.1,63.4C168.5,62.5 168.6,62.9 168.6,61.6C168.6,60.3 168.5,60.7 169.1,59.8C169.7,58.8 169.4,59.0 170.2,59.0C171.0,59.0 170.7,58.8 171.3,59.8C171.9,60.7 171.8,60.3 171.8,61.6Z" fill="#08d8ff"/>
<path d="M195.8,77.0C195.8,78.9 196.0,78.2 195.1,79.5C194.2,80.9 194.6,80.6 193.4,80.6C192.2,80.6 192.6,80.9 191.7,79.5C190.8,78.2 191.0,78.9 191.0,77.0C191.0,75.1 190.8,75.8 191.7,74.5C192.6,73.1 192.2,73.4 193.4,73.4C194.6,73.4 194.2,73.1 195.1,74.5C196.0,75.8 195.8,75.1 195.8,77.0Z" fill="#08d8ff"/>
<path d="M109.2,64.0C109.2,64.5 109.3,64.3 108.8,64.7C108.3,65.1 108.5,65.0 107.8,65.0C107.1,65.0 107.3,65.1 106.8,64.7C106.3,64.3 106.4,64.5 106.4,64.0C106.4,63.5 106.3,63.7 106.8,63.3C107.3,62.9 107.1,63.0 107.8,63.0C108.5,63.0 108.3,62.9 108.8,63.3C109.3,63.7 109.2,63.5 109.2,64.0Z" fill="#08d8ff"/>
<path d="M104.4,89.0C105.9,86.4 104.7,86.6 107.0,85.4C109.3,84.2 110.0,83.6 112.0,85.0C114.0,86.4 113.9,87.0 113.6,90.0C113.3,93.0 113.0,92.6 111.0,95.0C109.0,97.4 109.4,96.8 107.0,98.0C104.6,99.2 104.5,100.2 103.0,99.0C101.5,97.8 101.6,97.0 102.0,94.0C102.4,91.0 102.9,91.6 104.4,89.0Z" fill="#08d8ff"/>
<path d="M147.8,91.0C147.8,94.1 148.2,93.0 146.4,95.2C144.6,97.4 145.5,97.0 143.0,97.0C140.5,97.0 141.4,97.4 139.6,95.2C137.8,93.0 138.2,94.1 138.2,91.0C138.2,87.9 137.8,89.0 139.6,86.8C141.4,84.6 140.5,85.0 143.0,85.0C145.5,85.0 144.6,84.6 146.4,86.8C148.2,89.0 147.8,87.9 147.8,91.0Z" fill="#08d8ff"/>
<path d="M197.0,87.0C198.3,84.3 198.5,85.2 201.0,84.0C203.5,82.8 202.9,82.0 205.4,83.0C207.9,84.0 207.4,84.7 209.4,87.4C211.4,90.1 209.8,89.1 212.0,92.0C214.2,94.9 214.2,94.0 216.6,97.0C219.0,100.0 218.8,98.4 220.0,102.0C221.2,105.6 220.4,104.8 220.6,109.0C220.8,113.2 219.9,111.8 220.6,116.0C221.3,120.2 221.7,119.1 223.0,123.0C224.3,126.9 225.0,125.3 225.0,129.0C225.0,132.7 225.4,131.5 223.0,135.4C220.6,139.3 228.4,140.0 217.0,142.0C205.6,144.0 193.9,144.0 185.0,142.0C176.1,140.0 185.3,139.0 187.4,135.4C189.5,131.8 189.7,133.4 192.0,130.0C194.3,126.6 193.4,127.9 195.0,124.0C196.6,120.1 196.3,121.5 197.4,117.0C198.5,112.5 198.4,113.8 198.6,109.0C198.8,104.2 198.6,105.8 198.0,101.0C197.4,96.2 196.9,97.2 196.6,93.0C196.3,88.8 195.7,89.7 197.0,87.0Z" fill="#08d8ff"/>
<path d="M155.6,181.0C156.4,178.5 155.7,178.0 157.6,176.0C159.5,174.0 159.5,174.1 162.0,174.4C164.5,174.7 163.6,175.9 166.0,177.0C168.4,178.1 167.3,178.3 170.0,178.0C172.7,177.7 172.3,176.0 175.0,176.0C177.7,176.0 177.8,175.9 179.0,178.0C180.2,180.1 179.9,180.3 179.0,183.0C178.1,185.7 178.1,184.9 176.0,187.0C173.9,189.1 174.1,188.0 172.0,190.0C169.9,192.0 171.3,192.3 169.0,193.6C166.7,194.9 167.1,194.9 164.4,194.4C161.7,193.9 162.2,193.9 160.0,192.0C157.8,190.1 158.5,190.3 157.0,188.0C155.5,185.7 155.4,186.5 155.0,184.4C154.6,182.3 154.8,183.5 155.6,181.0Z" fill="#08d8ff"/>
<path d="M184.4,145.0C185.6,142.9 179.7,142.9 188.0,142.0C196.3,141.1 206.0,140.5 212.0,142.0C218.0,143.5 210.7,144.0 208.0,147.0C205.3,150.0 206.0,148.8 203.0,152.0C200.0,155.2 200.7,155.3 198.0,157.6C195.3,159.9 196.7,159.5 194.0,159.6C191.3,159.7 191.5,160.0 189.0,158.0C186.5,156.0 187.1,155.7 185.6,153.0C184.1,150.3 184.4,151.4 184.0,149.0C183.6,146.6 183.2,147.1 184.4,145.0Z" fill="#08d8ff"/>
<path d="M138.0,161.0C138.0,161.8 138.1,161.5 137.4,162.1C136.7,162.7 137.0,162.6 136.0,162.6C135.0,162.6 135.3,162.7 134.6,162.1C133.9,161.5 134.0,161.8 134.0,161.0C134.0,160.2 133.9,160.5 134.6,159.9C135.3,159.3 135.0,159.4 136.0,159.4C137.0,159.4 136.7,159.3 137.4,159.9C138.1,160.5 138.0,160.2 138.0,161.0Z" fill="#08d8ff"/>
<path d="M64.0,212.0C64.6,208.4 67.2,209.5 72.0,208.0C76.8,206.5 75.2,207.0 80.0,207.0C84.8,207.0 83.5,207.1 88.0,208.0C92.5,208.9 91.1,208.5 95.0,210.0C98.9,211.5 98.0,210.9 101.0,213.0C104.0,215.1 103.6,214.3 105.0,217.0C106.4,219.7 106.2,219.1 105.6,222.0C105.0,224.9 105.3,224.5 103.0,226.6C100.7,228.7 101.3,228.0 98.0,229.0C94.7,230.0 95.6,229.7 92.0,229.8C88.4,229.9 89.6,230.0 86.0,229.4C82.4,228.8 83.3,229.2 80.0,227.8C76.7,226.4 78.0,226.9 75.0,224.6C72.0,222.3 73.3,223.8 70.0,220.0C66.7,216.2 63.4,215.6 64.0,212.0Z" fill="#08d8ff"/>
<path d="M90.4,241.0C91.5,239.1 92.5,238.6 96.0,238.2C99.5,237.8 98.4,238.6 102.0,239.6C105.6,240.6 104.4,240.0 108.0,241.6C111.6,243.2 111.1,242.8 114.0,245.0C116.9,247.2 118.1,246.4 117.6,249.0C117.1,251.6 115.4,250.9 112.4,253.8C109.4,256.7 110.8,258.7 107.6,258.6C104.4,258.5 104.9,256.3 101.6,253.4C98.3,250.5 99.4,251.6 96.6,249.0C93.8,246.4 94.3,247.0 92.4,244.6C90.5,242.2 89.3,242.9 90.4,241.0Z" fill="#08d8ff"/>
<path d="M62.5,205.6C64.1,202.2 63.6,203.9 66.2,202.3C68.8,200.7 67.7,200.7 71.3,200.3C74.9,199.8 74.8,200.2 78.1,200.8C81.4,201.4 79.2,201.9 82.2,202.3C85.1,202.6 84.7,201.1 88.0,202.0C91.3,202.9 90.6,203.2 93.1,205.2C95.6,207.2 95.3,206.0 96.4,208.5C97.6,211.1 107.6,212.1 97.0,213.6C86.4,215.2 71.4,216.0 61.1,213.6C50.7,211.2 61.0,209.0 62.5,205.6Z" fill="#08d8ff"/>
<path d="M100.6,92.0C101.2,88.4 100.8,88.5 103.0,86.0C105.2,83.5 104.7,84.2 108.0,83.6C111.3,83.0 111.6,82.4 114.0,84.0C116.4,85.6 115.8,85.7 116.0,89.0C116.2,92.3 116.1,92.0 114.6,95.0C113.1,98.0 113.9,97.2 111.0,99.0C108.1,100.8 108.0,101.3 105.0,101.0C102.0,100.7 102.3,100.7 101.0,98.0C99.7,95.3 100.0,95.6 100.6,92.0Z" fill="#08d8ff"/>
<path d="M137.4,159.0C137.4,160.2 137.5,159.8 137.0,160.7C136.5,161.6 136.7,161.4 136.0,161.4C135.3,161.4 135.5,161.6 135.0,160.7C134.5,159.8 134.6,160.2 134.6,159.0C134.6,157.8 134.5,158.2 135.0,157.3C135.5,156.4 135.3,156.6 136.0,156.6C136.7,156.6 136.5,156.4 137.0,157.3C137.5,158.2 137.4,157.8 137.4,159.0Z" fill="#08d8ff"/>
<path d="M176.8,167.3C176.8,164.5 177.1,165.0 179.5,163.6C181.8,162.2 181.9,162.2 184.5,162.6C187.2,163.1 187.3,163.0 188.2,165.1C189.1,167.1 188.8,167.1 187.5,169.5C186.1,171.9 186.2,172.1 183.8,173.1C181.4,174.1 181.5,174.5 179.5,172.8C177.4,171.1 176.8,170.0 176.8,167.3Z" fill="#08d8ff"/>
<path d="M194.8,85.0C196.0,82.6 197.1,82.5 198.7,84.3C200.4,86.0 199.9,86.2 200.2,90.8C200.5,95.4 199.6,94.3 199.6,99.5C199.6,104.8 200.2,103.0 200.2,108.3C200.2,113.5 200.8,112.5 199.6,117.0C198.4,121.5 198.4,119.7 196.3,123.1C194.2,126.5 194.7,126.8 192.6,128.3C190.6,129.9 189.3,130.4 189.4,128.3C189.6,126.3 191.2,125.6 193.1,121.4C194.9,117.1 194.7,118.5 195.5,114.1C196.4,109.7 196.1,111.2 196.0,106.8C195.9,102.5 195.5,103.9 195.1,99.5C194.7,95.2 194.8,96.6 194.7,92.3C194.6,87.9 193.6,87.4 194.8,85.0Z" fill="#08d8ff"/>
<path d="M108.8,250.2C108.1,251.5 108.6,251.2 106.7,251.3C104.8,251.4 105.6,251.6 103.6,250.4C101.6,249.3 102.2,249.9 101.3,248.2C100.4,246.5 100.5,247.1 101.2,245.8C101.9,244.5 101.4,244.8 103.3,244.7C105.2,244.6 104.4,244.4 106.4,245.6C108.4,246.7 107.8,246.1 108.7,247.8C109.6,249.5 109.5,248.9 108.8,250.2Z" fill="#50e8ff"/>
<path d="M194.6,76.4C194.6,77.4 194.7,77.1 194.2,77.8C193.8,78.5 194.0,78.4 193.4,78.4C192.8,78.4 193.0,78.5 192.6,77.8C192.1,77.1 192.2,77.4 192.2,76.4C192.2,75.4 192.1,75.7 192.6,75.0C193.0,74.3 192.8,74.4 193.4,74.4C194.0,74.4 193.8,74.3 194.2,75.0C194.7,75.7 194.6,75.4 194.6,76.4Z" fill="#a8f4fc"/>
<path d="M84.4,100.0C84.4,100.9 84.5,100.6 83.8,101.3C83.1,101.9 83.4,101.8 82.4,101.8C81.4,101.8 81.7,101.9 81.0,101.3C80.3,100.6 80.4,100.9 80.4,100.0C80.4,99.1 80.3,99.4 81.0,98.7C81.7,98.1 81.4,98.2 82.4,98.2C83.4,98.2 83.1,98.1 83.8,98.7C84.5,99.4 84.4,99.1 84.4,100.0Z" fill="#a8f4fc"/>
<path d="M146.0,90.6C146.0,92.7 146.2,92.0 145.1,93.4C144.0,94.9 144.6,94.6 143.0,94.6C141.4,94.6 142.0,94.9 140.9,93.4C139.8,92.0 140.0,92.7 140.0,90.6C140.0,88.5 139.8,89.2 140.9,87.8C142.0,86.3 141.4,86.6 143.0,86.6C144.6,86.6 144.0,86.3 145.1,87.8C146.2,89.2 146.0,88.5 146.0,90.6Z" fill="#a8f4fc"/>
<path d="M204.0,91.4C204.0,93.5 204.3,92.8 202.8,94.2C201.4,95.7 202.1,95.4 200.0,95.4C197.9,95.4 198.6,95.7 197.2,94.2C195.7,92.8 196.0,93.5 196.0,91.4C196.0,89.3 195.7,90.0 197.2,88.6C198.6,87.1 197.9,87.4 200.0,87.4C202.1,87.4 201.4,87.1 202.8,88.6C204.3,90.0 204.0,89.3 204.0,91.4Z" fill="#a8f4fc"/>
<path d="M198.6,120.0C200.1,118.2 200.2,118.2 203.0,117.0C205.8,115.8 205.0,115.9 208.0,116.0C211.0,116.1 210.3,115.9 213.0,117.4C215.7,118.9 214.9,118.4 217.0,121.0C219.1,123.6 218.7,122.7 220.0,126.0C221.3,129.3 222.0,129.2 221.4,132.0C220.8,134.8 220.2,134.0 218.0,135.4C215.8,136.8 216.2,137.3 214.0,136.6C211.8,135.9 212.6,135.2 210.6,133.0C208.6,130.8 209.4,131.1 207.4,129.4C205.4,127.7 206.2,128.4 204.0,127.4C201.8,126.4 201.8,127.3 200.0,126.0C198.2,124.7 198.4,124.8 198.0,123.0C197.6,121.2 197.1,121.8 198.6,120.0Z" fill="#a8f4fc"/>
<path d="M192.0,131.0C194.4,127.7 194.3,128.0 197.0,128.0C199.7,128.0 199.5,128.6 201.0,131.0C202.5,133.4 202.6,133.0 202.0,136.0C201.4,139.0 201.7,139.2 199.0,141.0C196.3,142.8 196.0,142.6 193.0,142.0C190.0,141.4 189.3,142.3 189.0,139.0C188.7,135.7 189.6,134.3 192.0,131.0Z" fill="#a8f4fc"/>
<path d="M25.6,156.0C26.1,153.4 25.8,153.2 28.0,151.0C30.2,148.8 29.7,149.0 33.0,148.6C36.3,148.2 35.8,148.1 39.0,149.6C42.2,151.1 42.2,150.8 43.6,153.6C45.0,156.4 44.7,156.4 43.6,159.0C42.5,161.6 42.9,160.9 40.0,162.4C37.1,163.9 37.3,164.1 34.0,164.0C30.7,163.9 31.3,163.3 29.0,162.0C26.7,160.7 27.4,161.4 26.4,159.6C25.4,157.8 25.1,158.6 25.6,156.0Z" fill="#a8f4fc"/>
<path d="M164.8,186.4C164.8,187.0 164.9,186.8 164.4,187.2C164.0,187.7 164.2,187.6 163.6,187.6C163.0,187.6 163.2,187.7 162.8,187.2C162.3,186.8 162.4,187.0 162.4,186.4C162.4,185.8 162.3,186.0 162.8,185.6C163.2,185.1 163.0,185.2 163.6,185.2C164.2,185.2 164.0,185.1 164.4,185.6C164.9,186.0 164.8,185.8 164.8,186.4Z" fill="#a8f4fc"/>
<path d="M187.0,146.0C187.6,143.4 187.7,143.9 191.0,143.0C194.3,142.1 195.0,141.8 198.0,143.0C201.0,144.2 201.0,144.6 201.0,147.0C201.0,149.4 200.4,149.2 198.0,151.0C195.6,152.8 195.7,152.8 193.0,153.0C190.3,153.2 190.8,153.7 189.0,151.6C187.2,149.5 186.4,148.6 187.0,146.0Z" fill="#a8f4fc"/>
<path d="M75.0,219.0C75.3,216.0 75.3,216.1 78.0,214.0C80.7,211.9 80.1,212.3 84.0,212.0C87.9,211.7 87.4,211.8 91.0,213.0C94.6,214.2 93.6,213.9 96.0,216.0C98.4,218.1 99.0,217.6 99.0,220.0C99.0,222.4 98.4,222.2 96.0,224.0C93.6,225.8 94.0,224.8 91.0,226.0C88.0,227.2 89.0,227.7 86.0,228.0C83.0,228.3 83.7,228.2 81.0,227.0C78.3,225.8 78.8,226.4 77.0,224.0C75.2,221.6 74.7,222.0 75.0,219.0Z" fill="#a8f4fc"/>
<path d="M71.3,203.7C73.7,202.1 73.3,201.8 76.4,201.7C79.4,201.6 79.3,202.0 81.5,203.5C83.6,204.9 81.7,205.1 83.6,206.7C85.6,208.2 86.3,206.5 88.0,208.5C89.7,210.6 95.1,212.1 89.5,213.6C83.8,215.2 75.4,215.6 69.1,213.6C62.8,211.7 67.7,210.1 68.4,207.1C69.0,204.1 68.9,205.4 71.3,203.7Z" fill="#a8f4fc"/>
<path d="M109.4,91.0C109.4,92.9 109.6,92.2 108.7,93.5C107.8,94.9 108.2,94.6 107.0,94.6C105.8,94.6 106.2,94.9 105.3,93.5C104.4,92.2 104.6,92.9 104.6,91.0C104.6,89.1 104.4,89.8 105.3,88.5C106.2,87.1 105.8,87.4 107.0,87.4C108.2,87.4 107.8,87.1 108.7,88.5C109.6,89.8 109.4,89.1 109.4,91.0Z" fill="#a8f4fc"/>
<path d="M202.4,90.0C202.4,92.1 202.7,91.4 201.2,92.8C199.8,94.3 200.5,94.0 198.4,94.0C196.3,94.0 197.0,94.3 195.6,92.8C194.1,91.4 194.4,92.1 194.4,90.0C194.4,87.9 194.1,88.6 195.6,87.2C197.0,85.7 196.3,86.0 198.4,86.0C200.5,86.0 199.8,85.7 201.2,87.2C202.7,88.6 202.4,87.9 202.4,90.0Z" fill="#a8f4fc"/>
<path d="M199.2,79.0C199.2,81.3 199.4,80.5 198.4,82.1C197.4,83.7 197.9,83.4 196.4,83.4C194.9,83.4 195.4,83.7 194.4,82.1C193.4,80.5 193.6,81.3 193.6,79.0C193.6,76.7 193.4,77.5 194.4,75.9C195.4,74.3 194.9,74.6 196.4,74.6C197.9,74.6 197.4,74.3 198.4,75.9C199.4,77.5 199.2,76.7 199.2,79.0Z" fill="#a8f4fc"/>
<path d="M81.0,231.0C81.0,228.6 82.4,229.6 86.0,229.0C89.6,228.4 89.4,228.4 93.0,229.0C96.6,229.6 97.1,229.2 98.0,231.0C98.9,232.8 98.1,233.1 96.0,235.0C93.9,236.9 94.0,236.8 91.0,237.4C88.0,238.0 89.0,238.9 86.0,237.0C83.0,235.1 81.0,233.4 81.0,231.0Z" fill="#00e200"/>
<path d="M203.1,83.8C204.6,82.5 208.4,80.2 213.7,83.8C219.1,87.5 223.8,95.6 226.1,99.5C228.4,103.5 224.2,99.0 223.5,100.7C222.7,102.4 222.9,103.7 222.9,106.8C222.9,109.9 222.8,110.7 223.5,114.1C224.1,117.5 224.6,118.8 225.7,121.4C226.7,123.9 228.8,123.8 228.1,125.0C227.5,126.2 224.7,127.8 222.9,126.6C221.1,125.4 221.4,123.2 220.3,119.9C219.2,116.7 219.1,116.0 218.2,112.6C217.4,109.2 217.7,108.6 216.8,105.4C215.9,102.1 215.8,101.5 214.5,98.8C213.1,96.1 212.5,95.9 210.8,93.7C209.1,91.5 209.0,91.7 207.2,89.4C205.4,87.1 201.6,85.1 203.1,83.8Z" fill="#00e200"/>
</g>
<g clip-path="url(#clipB)">
<rect x="0" y="0" width="550" height="296" fill="#00e200"/>
<path d="M374.0,39.0C375.2,37.2 376.7,37.1 380.0,38.0C383.3,38.9 381.7,40.8 385.0,42.0C388.3,43.2 388.0,40.8 391.0,42.0C394.0,43.2 394.7,43.3 395.0,46.0C395.3,48.7 394.3,48.6 392.0,51.0C389.7,53.4 390.1,52.5 387.4,54.0C384.7,55.5 385.2,56.0 383.0,56.0C380.8,56.0 381.5,56.1 380.0,54.0C378.5,51.9 379.2,52.0 378.0,49.0C376.8,46.0 377.2,47.0 376.0,44.0C374.8,41.0 372.8,40.8 374.0,39.0Z" fill="#00a800"/>
<path d="M396.0,54.0C397.2,53.1 397.7,54.5 401.0,56.0C404.3,57.5 404.0,56.9 407.0,59.0C410.0,61.1 411.0,61.2 411.0,63.0C411.0,64.8 410.0,65.0 407.0,65.0C404.0,65.0 404.0,64.8 401.0,63.0C398.0,61.2 398.5,61.7 397.0,59.0C395.5,56.3 394.8,54.9 396.0,54.0Z" fill="#00a800"/>
<path d="M286.0,146.0C286.0,147.2 286.2,146.8 285.1,147.7C284.0,148.6 284.6,148.4 283.0,148.4C281.4,148.4 282.0,148.6 280.9,147.7C279.8,146.8 280.0,147.2 280.0,146.0C280.0,144.8 279.8,145.2 280.9,144.3C282.0,143.4 281.4,143.6 283.0,143.6C284.6,143.6 284.0,143.4 285.1,144.3C286.2,145.2 286.0,144.8 286.0,146.0Z" fill="#00a800"/>
<path d="M326.8,83.0C320.8,74.0 345.3,60.8 355.0,53.0C364.7,45.2 356.6,54.9 359.0,57.0C361.4,59.1 360.3,57.9 363.0,60.0C365.7,62.1 365.9,61.3 368.0,64.0C370.1,66.7 368.8,66.0 370.0,69.0C371.2,72.0 370.8,71.0 372.0,74.0C373.2,77.0 373.1,76.3 374.0,79.0C374.9,81.7 389.2,81.8 375.0,83.0C360.8,84.2 332.8,92.0 326.8,83.0Z" fill="#ff5500"/>
<path d="M371.0,64.0C372.3,60.7 372.3,61.4 375.0,59.0C377.7,56.6 376.7,58.1 380.0,56.0C383.3,53.9 382.7,54.4 386.0,52.0C389.3,49.6 388.3,49.7 391.0,48.0C393.7,46.3 393.2,45.5 395.0,46.4C396.8,47.3 396.7,47.8 397.0,51.0C397.3,54.2 396.6,53.7 396.0,57.0C395.4,60.3 395.9,59.0 395.0,62.0C394.1,65.0 392.4,64.6 393.0,67.0C393.6,69.4 394.3,69.4 397.0,70.0C399.7,70.6 399.0,69.9 402.0,69.0C405.0,68.1 403.1,67.0 407.0,67.0C410.9,67.0 410.2,67.5 415.0,69.0C419.8,70.5 418.8,69.8 423.0,72.0C427.2,74.2 426.0,73.1 429.0,76.4C432.0,79.7 449.2,81.0 433.0,83.0C416.8,85.0 393.0,85.0 375.0,83.0C357.0,81.0 374.3,80.3 373.0,76.4C371.7,72.5 371.2,73.7 370.6,70.0C370.0,66.3 369.7,67.3 371.0,64.0Z" fill="#ff5500"/>
<path d="M395.6,43.0C396.5,40.9 396.5,40.1 399.0,41.0C401.5,41.9 400.7,43.0 404.0,46.0C407.3,49.0 406.7,48.0 410.0,51.0C413.3,54.0 413.8,53.6 415.0,56.0C416.2,58.4 415.8,58.4 414.0,59.0C412.2,59.6 412.0,58.9 409.0,58.0C406.0,57.1 407.0,57.5 404.0,56.0C401.0,54.5 401.4,55.4 399.0,53.0C396.6,50.6 397.0,51.0 396.0,48.0C395.0,45.0 394.7,45.1 395.6,43.0Z" fill="#ff5500"/>
<path d="M326.6,83.0C331.0,82.1 376.4,79.1 380.0,83.0C383.6,86.9 387.2,138.1 380.0,142.0C372.8,145.9 277.7,143.2 271.6,142.0C265.5,140.8 286.4,125.7 288.0,124.0C289.6,122.3 294.9,117.2 296.0,116.0C297.1,114.8 303.8,107.3 305.0,106.0C306.2,104.7 312.6,97.5 314.0,96.0C315.4,94.5 322.2,83.9 326.6,83.0Z" fill="#ff5500"/>
<path d="M387.0,83.0C399.1,81.4 426.8,76.5 445.6,83.0C464.4,89.5 478.9,103.6 481.0,115.4C483.1,127.2 477.2,136.7 456.0,142.0C434.8,147.3 391.2,144.6 375.0,142.0C358.8,139.4 373.8,131.8 375.0,129.0C376.2,126.2 378.6,127.8 381.0,128.0C383.4,128.2 384.2,130.0 387.0,130.0C389.8,130.0 393.0,129.8 395.0,128.0C397.0,126.2 396.8,124.0 397.0,121.0C397.2,118.0 396.8,115.4 396.0,113.0C395.2,110.6 394.6,110.4 393.0,109.0C391.4,107.6 389.6,108.0 388.0,106.0C386.4,104.0 385.6,102.0 385.0,99.0C384.4,96.0 384.6,94.2 385.0,91.0C385.4,87.8 374.9,84.6 387.0,83.0Z" fill="#ff5500"/>
<path d="M290.0,142.0C303.4,141.2 344.4,130.2 358.0,142.0C371.6,153.8 372.2,189.2 358.0,201.0C343.8,212.8 301.6,202.3 287.0,201.0C272.4,199.7 285.2,197.0 285.0,194.4C284.8,191.8 285.4,190.5 286.0,188.0C286.6,185.5 286.0,183.2 288.0,182.0C290.0,180.8 293.5,183.0 296.0,182.0C298.5,181.0 300.0,179.0 300.4,177.0C300.8,175.0 298.3,174.2 298.0,172.0C297.7,169.8 298.5,168.4 299.0,166.0C299.5,163.6 300.6,162.4 300.4,160.0C300.2,157.6 299.1,156.2 298.0,154.0C296.9,151.8 296.4,150.6 295.0,149.0C293.6,147.4 292.0,147.4 291.0,146.0C290.0,144.6 276.6,142.8 290.0,142.0Z" fill="#ff5500"/>
<path d="M248.4,166.2C243.6,158.4 251.1,162.8 254.0,163.0C256.9,163.2 255.0,164.9 258.0,167.0C261.0,169.1 259.8,168.8 264.0,170.0C268.2,171.2 267.2,170.4 272.0,171.0C276.8,171.6 276.5,170.2 280.0,172.0C283.5,173.8 281.2,174.0 283.6,177.0C286.0,180.0 287.3,179.6 288.0,182.0C288.7,184.4 288.4,184.3 286.0,185.0C283.6,185.7 283.3,184.2 280.0,184.4C276.7,184.6 278.0,184.2 275.0,185.6C272.0,187.0 278.0,194.8 270.0,189.0C262.0,183.2 253.2,174.0 248.4,166.2Z" fill="#ff5500"/>
<path d="M352.0,142.0C355.5,140.0 454.4,140.0 456.0,142.0C457.6,144.0 404.1,199.0 400.6,201.0C397.1,203.0 353.6,203.0 352.0,201.0C350.4,199.0 348.5,144.0 352.0,142.0Z" fill="#ff5500"/>
<path d="M307.0,201.0C335.3,199.8 376.3,198.5 402.4,201.0C428.5,203.5 398.3,204.9 394.0,209.4C389.7,213.9 391.6,212.2 388.0,216.0C384.4,219.8 385.3,218.7 382.0,222.0C378.7,225.3 380.0,225.8 377.0,227.0C374.0,228.2 375.0,226.0 372.0,226.0C369.0,226.0 370.6,226.4 367.0,227.0C363.4,227.6 363.9,228.3 360.0,228.0C356.1,227.7 357.1,228.1 354.0,226.0C350.9,223.9 351.7,224.3 349.6,221.0C347.5,217.7 349.0,218.0 347.0,215.0C345.0,212.0 346.0,212.8 343.0,211.0C340.0,209.2 340.9,209.3 337.0,209.0C333.1,208.7 333.9,208.8 330.0,210.0C326.1,211.2 327.6,212.7 324.0,213.0C320.4,213.3 321.6,212.5 318.0,211.0C314.4,209.5 315.0,209.8 312.0,208.0C309.0,206.2 309.5,207.1 308.0,205.0C306.5,202.9 278.7,202.2 307.0,201.0Z" fill="#ff5500"/>
<path d="M288.0,201.0C289.8,199.2 294.1,199.8 298.0,201.0C301.9,202.2 301.3,202.9 301.0,205.0C300.7,207.1 299.7,207.4 297.0,208.0C294.3,208.6 294.7,209.1 292.0,207.0C289.3,204.9 286.2,202.8 288.0,201.0Z" fill="#ff5500"/>
<path d="M336.2,225.0C336.2,225.8 336.3,225.5 335.8,226.1C335.4,226.7 335.6,226.6 335.0,226.6C334.4,226.6 334.6,226.7 334.2,226.1C333.7,225.5 333.8,225.8 333.8,225.0C333.8,224.2 333.7,224.5 334.2,223.9C334.6,223.3 334.4,223.4 335.0,223.4C335.6,223.4 335.4,223.3 335.8,223.9C336.3,224.5 336.2,224.2 336.2,225.0Z" fill="#ff5500"/>
<path d="M334.0,231.0C334.0,231.5 334.1,231.3 333.7,231.7C333.3,232.1 333.5,232.0 333.0,232.0C332.5,232.0 332.7,232.1 332.3,231.7C331.9,231.3 332.0,231.5 332.0,231.0C332.0,230.5 331.9,230.7 332.3,230.3C332.7,229.9 332.5,230.0 333.0,230.0C333.5,230.0 333.3,229.9 333.7,230.3C334.1,230.7 334.0,230.5 334.0,231.0Z" fill="#ff5500"/>
<path d="M310.0,100.0C312.0,98.2 312.0,97.7 315.0,98.0C318.0,98.3 317.8,98.6 320.0,101.0C322.2,103.4 322.7,103.0 322.4,106.0C322.1,109.0 321.2,108.3 319.0,111.0C316.8,113.7 317.4,112.9 315.0,115.0C312.6,117.1 313.1,118.0 311.0,118.0C308.9,118.0 309.2,117.7 308.0,115.0C306.8,112.3 306.9,112.3 307.0,109.0C307.1,105.7 307.5,106.7 308.4,104.0C309.3,101.3 308.0,101.8 310.0,100.0Z" fill="#00e200"/>
<path d="M350.8,96.8C351.6,98.2 351.6,97.6 350.8,99.4C350.0,101.2 350.6,100.6 348.6,101.8C346.6,102.9 347.4,102.7 345.4,102.5C343.5,102.3 344.0,102.6 343.2,101.2C342.4,99.8 342.4,100.4 343.2,98.6C344.0,96.8 343.4,97.4 345.4,96.2C347.4,95.1 346.6,95.3 348.6,95.5C350.5,95.7 350.0,95.4 350.8,96.8Z" fill="#00a800"/>
<path d="M370.0,123.0C371.6,120.6 372.0,120.6 375.0,120.0C378.0,119.4 378.5,117.1 380.0,121.0C381.5,124.9 381.2,128.7 380.0,133.0C378.8,137.3 378.4,135.7 376.0,135.4C373.6,135.1 373.9,134.2 372.0,132.0C370.1,129.8 370.2,130.7 369.6,128.0C369.0,125.3 368.4,125.4 370.0,123.0Z" fill="#00e200"/>
<path d="M305.0,138.0C307.4,136.0 307.5,136.4 312.0,135.4C316.5,134.4 315.2,134.6 320.0,134.6C324.8,134.6 323.5,134.7 328.0,135.4C332.5,136.1 331.4,135.6 335.0,137.0C338.6,138.4 336.7,138.5 340.0,140.0C343.3,141.5 356.8,141.4 346.0,142.0C335.2,142.6 316.3,143.2 304.0,142.0C291.7,140.8 302.6,140.0 305.0,138.0Z" fill="#00e200"/>
<path d="M337.6,135.4C337.6,136.2 337.7,135.9 337.1,136.5C336.5,137.1 336.8,137.0 336.0,137.0C335.2,137.0 335.5,137.1 334.9,136.5C334.3,135.9 334.4,136.2 334.4,135.4C334.4,134.6 334.3,134.9 334.9,134.3C335.5,133.7 335.2,133.8 336.0,133.8C336.8,133.8 336.5,133.7 337.1,134.3C337.7,134.9 337.6,134.6 337.6,135.4Z" fill="#00e200"/>
<path d="M340.6,92.0C340.6,92.6 340.7,92.4 340.1,92.8C339.5,93.3 339.8,93.2 339.0,93.2C338.2,93.2 338.5,93.3 337.9,92.8C337.3,92.4 337.4,92.6 337.4,92.0C337.4,91.4 337.3,91.6 337.9,91.2C338.5,90.7 338.2,90.8 339.0,90.8C339.8,90.8 339.5,90.7 340.1,91.2C340.7,91.6 340.6,91.4 340.6,92.0Z" fill="#00e200"/>
<path d="M416.0,87.0C417.2,84.9 417.3,85.2 420.0,84.0C422.7,82.8 417.3,83.3 425.0,83.0C432.7,82.7 437.8,81.5 445.6,83.0C453.4,84.5 452.4,85.6 451.0,88.0C449.6,90.4 445.2,88.3 441.0,91.0C436.8,93.7 437.6,93.4 437.0,97.0C436.4,100.6 438.1,99.4 439.0,103.0C439.9,106.6 439.4,105.1 440.0,109.0C440.6,112.9 441.9,112.4 441.0,116.0C440.1,119.6 438.8,121.3 437.0,121.0C435.2,120.7 436.5,118.6 435.0,115.0C433.5,111.4 434.1,112.3 432.0,109.0C429.9,105.7 430.7,106.7 428.0,104.0C425.3,101.3 425.7,102.7 423.0,100.0C420.3,97.3 421.1,97.7 419.0,95.0C416.9,92.3 416.9,93.4 416.0,91.0C415.1,88.6 414.8,89.1 416.0,87.0Z" fill="#00e200"/>
<path d="M428.6,135.4C429.2,133.0 429.9,133.6 433.0,132.0C436.1,130.4 436.0,130.0 439.0,130.0C442.0,130.0 442.4,130.2 443.0,132.0C443.6,133.8 443.1,133.9 441.0,136.0C438.9,138.1 439.0,137.8 436.0,139.0C433.0,140.2 433.2,141.1 431.0,140.0C428.8,138.9 428.0,137.8 428.6,135.4Z" fill="#00e200"/>
<path d="M325.0,144.0C325.9,141.9 324.9,142.6 330.0,142.0C335.1,141.4 339.0,140.5 342.0,142.0C345.0,143.5 341.8,144.6 340.0,147.0C338.2,149.4 337.8,147.9 336.0,150.0C334.2,152.1 335.8,153.1 334.0,154.0C332.2,154.9 332.1,154.5 330.0,153.0C327.9,151.5 328.5,151.7 327.0,149.0C325.5,146.3 324.1,146.1 325.0,144.0Z" fill="#00e200"/>
<path d="M322.4,151.0C322.4,152.6 322.7,152.0 321.1,153.1C319.5,154.2 320.3,154.0 318.0,154.0C315.7,154.0 316.5,154.2 314.9,153.1C313.3,152.0 313.6,152.6 313.6,151.0C313.6,149.4 313.3,150.0 314.9,148.9C316.5,147.8 315.7,148.0 318.0,148.0C320.3,148.0 319.5,147.8 321.1,148.9C322.7,150.0 322.4,149.4 322.4,151.0Z" fill="#00e200"/>
<path d="M305.4,149.0C305.4,149.8 305.6,149.5 304.7,150.1C303.8,150.7 304.2,150.6 303.0,150.6C301.8,150.6 302.2,150.7 301.3,150.1C300.4,149.5 300.6,149.8 300.6,149.0C300.6,148.2 300.4,148.5 301.3,147.9C302.2,147.3 301.8,147.4 303.0,147.4C304.2,147.4 303.8,147.3 304.7,147.9C305.6,148.5 305.4,148.2 305.4,149.0Z" fill="#00e200"/>
<path d="M404.4,154.4C406.7,150.5 405.6,149.0 407.6,148.0C409.6,147.0 409.4,148.6 411.0,151.0C412.6,153.4 411.2,153.2 413.0,156.0C414.8,158.8 414.0,158.3 417.0,160.4C420.0,162.5 419.4,161.3 423.0,163.0C426.6,164.7 425.7,165.7 429.0,166.0C432.3,166.3 431.3,165.2 434.0,164.0C436.7,162.8 448.0,150.9 438.0,162.0C428.0,173.1 414.1,189.3 400.6,201.0C387.1,212.7 394.7,203.0 393.0,201.0C391.3,199.0 393.2,198.0 395.0,194.4C396.8,190.8 397.2,192.4 399.0,189.0C400.8,185.6 400.7,186.6 401.0,183.0C401.3,179.4 401.2,180.3 400.0,177.0C398.8,173.7 397.7,175.3 397.0,172.0C396.3,168.7 396.7,169.3 397.6,166.0C398.5,162.7 398.0,164.5 400.0,161.0C402.0,157.5 402.1,158.3 404.4,154.4Z" fill="#00e200"/>
<path d="M365.0,183.0C366.4,180.0 366.0,180.5 369.0,179.0C372.0,177.5 371.7,177.7 375.0,178.0C378.3,178.3 377.0,179.7 380.0,180.0C383.0,180.3 382.3,178.7 385.0,179.0C387.7,179.3 386.3,180.1 389.0,181.0C391.7,181.9 391.3,180.8 394.0,182.0C396.7,183.2 397.1,182.0 398.0,185.0C398.9,188.0 398.5,188.1 397.0,192.0C395.5,195.9 395.1,195.3 393.0,198.0C390.9,200.7 396.6,200.1 390.0,201.0C383.4,201.9 377.9,203.0 371.0,201.0C364.1,199.0 369.0,198.0 367.0,194.4C365.0,190.8 365.0,192.4 364.4,189.0C363.8,185.6 363.6,186.0 365.0,183.0Z" fill="#00e200"/>
<path d="M365.0,157.0C365.3,153.7 366.3,154.4 369.0,152.0C371.7,149.6 370.7,150.2 374.0,149.0C377.3,147.8 376.7,147.7 380.0,148.0C383.3,148.3 383.2,147.9 385.0,150.0C386.8,152.1 386.3,152.0 386.0,155.0C385.7,158.0 385.2,157.0 384.0,160.0C382.8,163.0 382.3,162.0 382.0,165.0C381.7,168.0 383.9,167.9 383.0,170.0C382.1,172.1 381.4,172.3 379.0,172.0C376.6,171.7 377.1,171.1 375.0,169.0C372.9,166.9 374.1,166.8 372.0,165.0C369.9,163.2 370.1,165.4 368.0,163.0C365.9,160.6 364.7,160.3 365.0,157.0Z" fill="#00e200"/>
<path d="M351.0,96.6C351.0,97.3 351.1,97.1 350.5,97.6C349.8,98.1 350.1,98.0 349.2,98.0C348.3,98.0 348.6,98.1 347.9,97.6C347.3,97.1 347.4,97.3 347.4,96.6C347.4,95.9 347.3,96.1 347.9,95.6C348.6,95.1 348.3,95.2 349.2,95.2C350.1,95.2 349.8,95.1 350.5,95.6C351.1,96.1 351.0,95.9 351.0,96.6Z" fill="#00e200"/>
<path d="M377.8,126.0C377.8,127.5 378.0,127.0 377.0,128.0C376.0,129.0 376.5,128.8 375.0,128.8C373.5,128.8 374.0,129.0 373.0,128.0C372.0,127.0 372.2,127.5 372.2,126.0C372.2,124.5 372.0,125.0 373.0,124.0C374.0,123.0 373.5,123.2 375.0,123.2C376.5,123.2 376.0,123.0 377.0,124.0C378.0,125.0 377.8,124.5 377.8,126.0Z" fill="#00a800"/>
<path d="M375.0,160.0C376.2,157.3 377.4,157.7 380.0,158.0C382.6,158.3 383.0,158.6 383.6,161.0C384.2,163.4 382.4,163.3 382.0,166.0C381.6,168.7 383.3,168.5 382.4,170.0C381.5,171.5 380.9,171.9 379.0,171.0C377.1,170.1 377.2,170.3 376.0,167.0C374.8,163.7 373.8,162.7 375.0,160.0Z" fill="#00a800"/>
<path d="M381.8,136.5C382.4,137.1 382.3,136.8 382.0,137.8C381.7,138.8 382.0,138.4 381.0,139.2C380.1,140.0 380.5,139.8 379.4,140.0C378.4,140.1 378.7,140.2 378.2,139.5C377.6,138.9 377.7,139.2 378.0,138.2C378.3,137.2 378.0,137.6 379.0,136.8C379.9,136.0 379.5,136.2 380.6,136.0C381.6,135.9 381.3,135.8 381.8,136.5Z" fill="#ffa500"/>
<path d="M433.2,155.0C433.2,156.5 433.4,156.0 432.6,157.0C431.7,158.0 432.1,157.8 431.0,157.8C429.9,157.8 430.3,158.0 429.4,157.0C428.6,156.0 428.8,156.5 428.8,155.0C428.8,153.5 428.6,154.0 429.4,153.0C430.3,152.0 429.9,152.2 431.0,152.2C432.1,152.2 431.7,152.0 432.6,153.0C433.4,154.0 433.2,153.5 433.2,155.0Z" fill="#ffa500"/>
<path d="M382.0,143.0C382.0,143.8 382.1,143.5 381.4,144.1C380.7,144.7 381.0,144.6 380.0,144.6C379.0,144.6 379.3,144.7 378.6,144.1C377.9,143.5 378.0,143.8 378.0,143.0C378.0,142.2 377.9,142.5 378.6,141.9C379.3,141.3 379.0,141.4 380.0,141.4C381.0,141.4 380.7,141.3 381.4,141.9C382.1,142.5 382.0,142.2 382.0,143.0Z" fill="#ffa500"/>
<path d="M436.6,161.0C436.6,161.8 436.7,161.5 436.1,162.1C435.5,162.7 435.8,162.6 435.0,162.6C434.2,162.6 434.5,162.7 433.9,162.1C433.3,161.5 433.4,161.8 433.4,161.0C433.4,160.2 433.3,160.5 433.9,159.9C434.5,159.3 434.2,159.4 435.0,159.4C435.8,159.4 435.5,159.3 436.1,159.9C436.7,160.5 436.6,160.2 436.6,161.0Z" fill="#ffa500"/>
<path d="M452.0,145.0C452.0,146.0 452.1,145.7 451.4,146.4C450.7,147.1 451.0,147.0 450.0,147.0C449.0,147.0 449.3,147.1 448.6,146.4C447.9,145.7 448.0,146.0 448.0,145.0C448.0,144.0 447.9,144.3 448.6,143.6C449.3,142.9 449.0,143.0 450.0,143.0C451.0,143.0 450.7,142.9 451.4,143.6C452.1,144.3 452.0,144.0 452.0,145.0Z" fill="#ffa500"/>
<path d="M345.0,76.4C347.1,73.1 347.0,74.8 350.0,72.0C353.0,69.2 352.0,69.4 355.0,67.0C358.0,64.6 357.0,64.6 360.0,64.0C363.0,63.4 362.6,63.5 365.0,65.0C367.4,66.5 366.5,66.3 368.0,69.0C369.5,71.7 368.5,71.0 370.0,74.0C371.5,77.0 371.5,76.3 373.0,79.0C374.5,81.7 384.0,81.8 375.0,83.0C366.0,84.2 352.0,85.0 343.0,83.0C334.0,81.0 342.9,79.7 345.0,76.4Z" fill="#ff0000"/>
<path d="M387.4,62.0C387.0,60.2 387.8,60.3 389.4,58.0C391.0,55.7 390.8,55.6 392.6,54.4C394.4,53.2 394.4,53.2 395.4,54.0C396.4,54.8 396.4,55.1 396.0,57.0C395.6,58.9 395.6,58.3 394.0,60.4C392.4,62.5 392.6,63.5 390.6,64.0C388.6,64.5 387.8,63.8 387.4,62.0Z" fill="#ff0000"/>
<path d="M382.0,76.4C383.9,73.7 384.1,75.0 387.4,74.0C390.7,73.0 389.5,73.0 393.0,73.0C396.5,73.0 395.4,74.3 399.0,74.0C402.6,73.7 401.1,72.9 405.0,72.0C408.9,71.1 408.4,70.4 412.0,71.0C415.6,71.6 414.9,71.6 417.0,74.0C419.1,76.4 418.1,76.3 419.0,79.0C419.9,81.7 431.4,81.8 420.0,83.0C408.6,84.2 392.4,85.0 381.0,83.0C369.6,81.0 380.1,79.1 382.0,76.4Z" fill="#ff0000"/>
<path d="M317.0,116.0C317.6,113.3 317.6,113.7 320.0,111.0C322.4,108.3 321.4,108.8 325.0,107.0C328.6,105.2 327.8,105.5 332.0,105.0C336.2,104.5 335.1,104.5 339.0,105.4C342.9,106.3 341.7,106.0 345.0,108.0C348.3,110.0 347.3,112.0 350.0,112.0C352.7,112.0 352.1,111.0 354.0,108.0C355.9,105.0 355.2,105.9 356.4,102.0C357.6,98.1 356.9,98.9 358.0,95.0C359.1,91.1 358.2,92.0 360.0,89.0C361.8,86.0 361.0,86.8 364.0,85.0C367.0,83.2 366.4,83.3 370.0,83.0C373.6,82.7 374.3,81.6 376.0,84.0C377.7,86.4 376.5,87.1 375.6,91.0C374.7,94.9 375.0,93.7 373.0,97.0C371.0,100.3 371.1,98.7 369.0,102.0C366.9,105.3 367.5,104.4 366.0,108.0C364.5,111.6 365.5,110.4 364.0,114.0C362.5,117.6 362.8,116.7 361.0,120.0C359.2,123.3 360.1,122.6 358.0,125.0C355.9,127.4 356.7,126.7 354.0,128.0C351.3,129.3 352.3,129.4 349.0,129.4C345.7,129.4 346.3,129.0 343.0,128.0C339.7,127.0 341.0,126.9 338.0,126.0C335.0,125.1 336.0,125.9 333.0,125.0C330.0,124.1 331.2,123.9 328.0,123.0C324.8,122.1 325.4,122.9 322.4,122.0C319.4,121.1 319.6,121.8 318.0,120.0C316.4,118.2 316.4,118.7 317.0,116.0Z" fill="#ff0000"/>
<path d="M367.0,135.4C368.8,132.1 368.7,132.6 372.0,131.0C375.3,129.4 375.6,130.0 378.0,130.0C380.4,130.0 379.4,127.4 380.0,131.0C380.6,134.6 384.2,138.7 380.0,142.0C375.8,145.3 369.9,144.0 366.0,142.0C362.1,140.0 365.2,138.7 367.0,135.4Z" fill="#ff0000"/>
<path d="M407.0,81.0C410.0,78.6 414.9,78.6 418.0,81.0C421.1,83.4 418.0,85.1 417.4,89.0C416.8,92.9 416.0,90.4 416.0,94.0C416.0,97.6 417.1,96.5 417.4,101.0C417.7,105.5 417.8,105.1 417.0,109.0C416.2,112.9 416.3,111.3 414.6,114.0C412.9,116.7 413.0,115.6 411.4,118.0C409.8,120.4 409.2,119.6 409.4,122.0C409.6,124.4 410.3,123.3 412.0,126.0C413.7,128.7 413.4,128.0 415.0,131.0C416.6,134.0 416.6,132.4 417.4,136.0C418.2,139.6 425.7,140.9 417.8,143.0C409.9,145.1 399.3,144.8 391.0,143.0C382.7,141.2 389.7,140.3 390.0,137.0C390.3,133.7 390.5,134.7 392.0,132.0C393.5,129.3 393.6,130.7 395.0,128.0C396.4,125.3 396.5,126.0 396.6,123.0C396.7,120.0 396.1,121.0 395.4,118.0C394.7,115.0 395.2,116.3 394.2,113.0C393.2,109.7 392.9,110.6 392.2,107.0C391.5,103.4 391.2,104.0 392.0,101.0C392.8,98.0 392.3,98.7 395.0,97.0C397.7,95.3 397.5,96.1 401.0,95.4C404.5,94.7 404.5,96.5 406.6,94.6C408.7,92.7 407.9,93.1 408.0,89.0C408.1,84.9 404.0,83.4 407.0,81.0Z" fill="#ff0000"/>
<path d="M260.0,172.0C261.2,170.5 261.8,171.0 266.0,171.0C270.2,171.0 269.8,171.1 274.0,172.0C278.2,172.9 277.6,172.2 280.0,174.0C282.4,175.8 282.6,175.9 282.0,178.0C281.4,180.1 281.0,180.1 278.0,181.0C275.0,181.9 275.6,181.6 272.0,181.0C268.4,180.4 269.0,180.5 266.0,179.0C263.0,177.5 263.8,178.1 262.0,176.0C260.2,173.9 258.8,173.5 260.0,172.0Z" fill="#ff0000"/>
<path d="M298.0,164.0C299.5,161.3 300.0,161.7 303.0,159.0C306.0,156.3 304.1,156.5 308.0,155.0C311.9,153.5 310.9,153.7 316.0,154.0C321.1,154.3 320.2,154.5 325.0,156.0C329.8,157.5 329.3,156.6 332.0,159.0C334.7,161.4 334.0,160.7 334.0,164.0C334.0,167.3 334.1,167.0 332.0,170.0C329.9,173.0 329.4,171.3 327.0,174.0C324.6,176.7 324.0,176.0 324.0,179.0C324.0,182.0 324.6,181.6 327.0,184.0C329.4,186.4 329.3,185.2 332.0,187.0C334.7,188.8 335.4,187.8 336.0,190.0C336.6,192.2 336.4,192.6 334.0,194.4C331.6,196.2 331.6,196.0 328.0,196.0C324.4,196.0 325.0,193.8 322.0,194.4C319.0,195.0 320.4,196.0 318.0,198.0C315.6,200.0 318.2,200.1 314.0,201.0C309.8,201.9 306.4,203.0 304.0,201.0C301.6,199.0 304.8,198.0 306.0,194.4C307.2,190.8 306.8,192.1 308.0,189.0C309.2,185.9 310.0,187.0 310.0,184.0C310.0,181.0 309.5,181.7 308.0,179.0C306.5,176.3 307.3,177.1 305.0,175.0C302.7,172.9 302.5,174.1 300.4,172.0C298.3,169.9 298.7,170.4 298.0,168.0C297.3,165.6 296.5,166.7 298.0,164.0Z" fill="#ff0000"/>
<path d="M291.0,142.0C293.4,140.8 297.2,140.5 300.0,142.0C302.8,143.5 301.0,144.3 300.4,147.0C299.8,149.7 299.8,150.1 298.0,151.0C296.2,151.9 296.2,151.5 294.4,150.0C292.6,148.5 293.0,148.4 292.0,146.0C291.0,143.6 288.6,143.2 291.0,142.0Z" fill="#ff0000"/>
<path d="M352.0,148.0C353.5,146.5 354.3,147.1 357.0,148.0C359.7,148.9 360.7,149.3 361.0,151.0C361.3,152.7 360.7,153.0 358.0,153.6C355.3,154.2 353.8,154.7 352.0,153.0C350.2,151.3 350.5,149.5 352.0,148.0Z" fill="#ff0000"/>
<path d="M391.0,163.0C392.3,161.2 392.6,160.1 394.0,161.0C395.4,161.9 395.3,162.7 395.6,166.0C395.9,169.3 394.9,168.7 395.0,172.0C395.1,175.3 396.6,174.6 396.0,177.0C395.4,179.4 394.8,180.0 393.0,180.0C391.2,180.0 390.8,179.4 390.0,177.0C389.2,174.6 390.5,175.0 390.4,172.0C390.3,169.0 389.4,169.7 389.6,167.0C389.8,164.3 389.7,164.8 391.0,163.0Z" fill="#ff0000"/>
<path d="M323.0,201.0C330.5,199.8 342.2,199.8 350.0,201.0C357.8,202.2 350.8,203.2 349.0,205.0C347.2,206.8 347.3,206.7 344.0,207.0C340.7,207.3 341.9,206.0 338.0,206.0C334.1,206.0 334.9,207.3 331.0,207.0C327.1,206.7 327.4,206.8 325.0,205.0C322.6,203.2 315.5,202.2 323.0,201.0Z" fill="#ff0000"/>
<path d="M350.0,209.0C351.5,206.6 351.0,207.2 354.0,206.0C357.0,204.8 356.7,204.7 360.0,205.0C363.3,205.3 362.9,204.9 365.0,207.0C367.1,209.1 366.6,208.7 367.0,212.0C367.4,215.3 367.3,214.7 366.4,218.0C365.5,221.3 366.2,220.6 364.0,223.0C361.8,225.4 362.0,225.5 359.0,226.0C356.0,226.5 356.4,226.4 354.0,224.6C351.6,222.8 352.5,223.2 351.0,220.0C349.5,216.8 349.3,217.3 349.0,214.0C348.7,210.7 348.5,211.4 350.0,209.0Z" fill="#ff0000"/>
<path d="M394.0,69.0C395.2,66.4 395.8,66.7 398.0,67.0C400.2,67.3 400.5,67.6 401.4,70.0C402.3,72.4 402.2,72.6 401.0,75.0C399.8,77.4 399.5,77.8 397.4,78.0C395.3,78.2 395.0,78.3 394.0,75.6C393.0,72.9 392.8,71.6 394.0,69.0Z" fill="#00e200"/>
<path d="M368.0,65.0C368.9,63.3 370.2,62.8 372.0,64.0C373.8,65.2 373.1,65.7 374.0,69.0C374.9,72.3 375.3,72.3 375.0,75.0C374.7,77.7 374.3,78.3 373.0,78.0C371.7,77.7 371.8,76.5 370.6,74.0C369.4,71.5 369.8,72.3 369.0,69.6C368.2,66.9 367.1,66.7 368.0,65.0Z" fill="#00e200"/>
<path d="M335.0,154.0C336.8,153.4 337.2,154.6 339.0,157.0C340.8,159.4 340.1,158.7 341.0,162.0C341.9,165.3 342.6,164.7 342.0,168.0C341.4,171.3 340.8,170.0 339.0,173.0C337.2,176.0 336.6,175.0 336.0,178.0C335.4,181.0 337.9,180.9 337.0,183.0C336.1,185.1 335.4,185.3 333.0,185.0C330.6,184.7 331.1,184.1 329.0,182.0C326.9,179.9 326.6,180.4 326.0,178.0C325.4,175.6 325.5,176.4 327.0,174.0C328.5,171.6 329.0,173.0 331.0,170.0C333.0,167.0 333.0,167.3 333.6,164.0C334.2,160.7 332.6,162.0 333.0,159.0C333.4,156.0 333.2,154.6 335.0,154.0Z" fill="#00e200"/>
<path d="M302.8,191.6C302.8,193.2 303.0,192.6 301.9,193.7C300.7,194.8 301.3,194.6 299.6,194.6C297.9,194.6 298.5,194.8 297.3,193.7C296.2,192.6 296.4,193.2 296.4,191.6C296.4,190.0 296.2,190.6 297.3,189.5C298.5,188.4 297.9,188.6 299.6,188.6C301.3,188.6 300.7,188.4 301.9,189.5C303.0,190.6 302.8,190.0 302.8,191.6Z" fill="#00e200"/>
<path d="M307.0,179.6C307.0,182.1 307.3,181.2 305.8,183.0C304.4,184.8 305.1,184.4 303.0,184.4C300.9,184.4 301.6,184.8 300.2,183.0C298.7,181.2 299.0,182.1 299.0,179.6C299.0,177.1 298.7,178.0 300.2,176.2C301.6,174.4 300.9,174.8 303.0,174.8C305.1,174.8 304.4,174.4 305.8,176.2C307.3,178.0 307.0,177.1 307.0,179.6Z" fill="#ff5500"/>
<path d="M403.0,172.0C403.8,170.7 404.6,171.0 407.0,171.6C409.4,172.2 409.5,172.2 411.0,174.0C412.5,175.8 412.9,176.3 412.0,177.6C411.1,178.9 410.3,178.9 408.0,178.4C405.7,177.9 405.9,177.9 404.4,176.0C402.9,174.1 402.2,173.3 403.0,172.0Z" fill="#ff5500"/>
<path d="M427.6,149.0C427.6,150.1 427.9,149.7 426.5,150.6C425.2,151.4 425.9,151.2 424.0,151.2C422.1,151.2 422.8,151.4 421.5,150.6C420.1,149.7 420.4,150.1 420.4,149.0C420.4,147.9 420.1,148.3 421.5,147.4C422.8,146.6 422.1,146.8 424.0,146.8C425.9,146.8 425.2,146.6 426.5,147.4C427.9,148.3 427.6,147.9 427.6,149.0Z" fill="#00e200"/>
<path d="M435.8,150.0C435.8,151.5 435.9,151.0 435.3,152.0C434.6,153.0 434.9,152.8 434.0,152.8C433.1,152.8 433.4,153.0 432.7,152.0C432.1,151.0 432.2,151.5 432.2,150.0C432.2,148.5 432.1,149.0 432.7,148.0C433.4,147.0 433.1,147.2 434.0,147.2C434.9,147.2 434.6,147.0 435.3,148.0C435.9,149.0 435.8,148.5 435.8,150.0Z" fill="#00e200"/>
<path d="M383.8,186.4C383.8,189.3 384.2,188.3 382.4,190.4C380.6,192.4 381.5,192.0 379.0,192.0C376.5,192.0 377.4,192.4 375.6,190.4C373.8,188.3 374.2,189.3 374.2,186.4C374.2,183.5 373.8,184.5 375.6,182.4C377.4,180.4 376.5,180.8 379.0,180.8C381.5,180.8 380.6,180.4 382.4,182.4C384.2,184.5 383.8,183.5 383.8,186.4Z" fill="#ff5500"/>
<path d="M382.0,211.0C382.0,212.8 382.4,212.2 380.5,213.4C378.7,214.7 379.6,214.4 377.0,214.4C374.4,214.4 375.3,214.7 373.5,213.4C371.6,212.2 372.0,212.8 372.0,211.0C372.0,209.2 371.6,209.8 373.5,208.6C375.3,207.3 374.4,207.6 377.0,207.6C379.6,207.6 378.7,207.3 380.5,208.6C382.4,209.8 382.0,209.2 382.0,211.0Z" fill="#00e200"/>
<path d="M383.0,222.0C383.0,223.9 383.3,223.2 381.8,224.5C380.4,225.9 381.1,225.6 379.0,225.6C376.9,225.6 377.6,225.9 376.2,224.5C374.7,223.2 375.0,223.9 375.0,222.0C375.0,220.1 374.7,220.8 376.2,219.5C377.6,218.1 376.9,218.4 379.0,218.4C381.1,218.4 380.4,218.1 381.8,219.5C383.3,220.8 383.0,220.1 383.0,222.0Z" fill="#00e200"/>
<path d="M316.4,207.0C316.4,208.0 316.6,207.7 315.7,208.4C314.8,209.1 315.2,209.0 314.0,209.0C312.8,209.0 313.2,209.1 312.3,208.4C311.4,207.7 311.6,208.0 311.6,207.0C311.6,206.0 311.4,206.3 312.3,205.6C313.2,204.9 312.8,205.0 314.0,205.0C315.2,205.0 314.8,204.9 315.7,205.6C316.6,206.3 316.4,206.0 316.4,207.0Z" fill="#00e200"/>
<path d="M411.8,176.4C411.8,177.1 411.9,176.9 411.3,177.4C410.6,177.9 410.9,177.8 410.0,177.8C409.1,177.8 409.4,177.9 408.7,177.4C408.1,176.9 408.2,177.1 408.2,176.4C408.2,175.7 408.1,175.9 408.7,175.4C409.4,174.9 409.1,175.0 410.0,175.0C410.9,175.0 410.6,174.9 411.3,175.4C411.9,175.9 411.8,175.7 411.8,176.4Z" fill="#ffa500"/>
<path d="M380.0,73.2C382.6,69.7 383.5,72.0 388.7,72.5C394.0,72.9 393.5,72.9 397.5,74.6C401.4,76.4 400.5,75.4 401.8,78.3C403.1,81.1 402.3,81.0 401.8,84.1C401.4,87.1 402.5,87.8 400.4,88.5C398.2,89.1 398.5,86.9 394.5,86.3C390.6,85.6 391.6,86.9 387.3,86.3C382.9,85.6 382.2,88.0 380.0,84.1C377.8,80.2 377.4,76.7 380.0,73.2Z" fill="#ff5500"/>
<path d="M392.4,54.3C395.2,51.9 398.3,52.3 401.8,54.3C405.3,56.2 404.0,57.1 404.0,60.8C404.0,64.5 403.8,64.5 401.8,66.6C399.9,68.8 399.9,67.9 397.5,68.1C395.1,68.3 395.3,69.1 393.8,67.4C392.3,65.6 392.8,66.2 392.4,62.3C391.9,58.3 389.5,56.7 392.4,54.3Z" fill="#ff5500"/>
<path d="M401.8,54.3C399.9,56.9 406.4,58.1 411.3,63.0C416.2,67.9 414.7,66.1 418.1,70.7C421.5,75.3 421.6,73.8 422.5,78.3C423.3,82.7 422.8,81.6 421.0,85.5C419.3,89.5 417.4,87.4 416.7,91.4C415.9,95.3 416.5,96.5 418.5,98.6C420.6,100.8 422.3,100.8 423.6,98.6C424.9,96.5 422.7,95.7 422.9,91.4C423.1,87.0 423.1,87.4 424.4,84.1C425.7,80.8 425.3,82.2 427.3,80.5C429.2,78.7 427.9,79.1 430.9,78.3C434.0,77.4 434.4,77.3 437.5,77.5C440.5,77.8 445.2,84.5 441.1,79.0C436.9,73.5 430.6,66.8 423.6,59.4C416.7,51.9 424.4,55.8 417.8,54.3C411.3,52.7 403.8,51.7 401.8,54.3Z" fill="#00e200"/>
<path d="M436.3,80.0C436.3,81.3 436.7,80.9 434.5,81.8C432.3,82.7 433.3,82.5 430.2,82.5C427.0,82.5 428.1,82.7 425.9,81.8C423.6,80.9 424.1,81.3 424.1,80.0C424.1,78.7 423.6,79.2 425.9,78.3C428.1,77.4 427.0,77.5 430.2,77.5C433.3,77.5 432.3,77.4 434.5,78.3C436.7,79.2 436.3,78.7 436.3,80.0Z" fill="#00e200"/>
<path d="M373.4,81.0C377.3,74.4 382.4,78.0 386.0,81.0C389.6,84.0 385.7,85.6 385.4,91.0C385.1,96.4 384.4,94.5 385.0,99.0C385.6,103.5 385.0,103.0 387.4,106.0C389.8,109.0 390.2,106.9 393.0,109.0C395.8,111.1 395.3,109.4 396.6,113.0C397.9,116.6 397.8,116.5 397.4,121.0C397.0,125.5 398.5,125.1 395.4,128.0C392.3,130.9 391.3,130.4 387.0,130.6C382.7,130.8 384.9,129.0 381.0,128.6C377.1,128.2 376.5,132.3 374.0,129.4C371.5,126.5 372.9,126.9 372.6,119.0C372.3,111.1 372.8,114.4 373.0,103.0C373.2,91.6 369.5,87.6 373.4,81.0Z" fill="#00e200"/>
<path d="M385.1,63.7C385.3,60.2 385.7,60.5 387.3,57.9C388.8,55.3 388.4,55.9 390.2,55.0C391.9,54.1 392.7,53.3 393.1,55.0C393.5,56.7 392.7,57.3 391.6,60.8C390.5,64.3 391.0,64.0 389.5,66.6C387.9,69.3 387.9,70.4 386.5,69.5C385.2,68.7 384.9,67.2 385.1,63.7Z" fill="#ff0000"/>
<path d="M321.8,185.0C327.9,182.2 336.2,183.0 343.6,184.3C351.1,185.6 344.8,186.5 346.5,189.4C348.3,192.2 347.5,191.3 349.5,193.7C351.4,196.1 350.7,195.4 353.1,197.4C355.5,199.3 355.5,198.5 357.5,200.3C359.4,202.0 360.3,201.8 359.6,203.2C359.0,204.6 358.3,204.6 355.3,204.9C352.2,205.2 352.9,204.9 349.5,204.2C346.0,203.5 346.9,203.0 343.6,202.7C340.4,202.5 341.6,202.8 338.5,203.5C335.5,204.1 336.3,204.9 333.5,204.9C330.6,204.9 331.7,203.3 329.1,203.5C326.5,203.6 326.9,205.7 324.7,205.4C322.5,205.1 322.3,205.9 321.8,202.5C321.4,199.0 323.3,199.0 323.3,193.7C323.3,188.5 315.7,187.8 321.8,185.0Z" fill="#ff0000"/>
<path d="M393.1,73.9C394.1,71.1 393.8,70.8 396.0,68.8C398.2,66.9 398.2,66.9 400.4,67.4C402.5,67.8 402.6,67.9 403.3,70.3C403.9,72.7 403.6,72.7 402.5,75.4C401.5,78.0 401.8,77.3 399.6,79.0C397.5,80.7 397.3,81.4 395.3,81.2C393.2,81.0 393.5,80.5 392.8,78.3C392.1,76.1 392.1,76.7 393.1,73.9Z" fill="#00e200"/>
<path d="M376.0,30.0C377.3,26.7 377.7,23.7 381.6,24.0C385.5,24.3 385.3,27.3 389.0,31.0C392.7,34.7 393.1,33.4 394.0,36.4C394.9,39.4 394.4,39.2 392.0,41.0C389.6,42.8 389.3,42.8 386.0,42.4C382.7,42.0 383.6,41.8 381.0,39.6C378.4,37.4 378.9,37.9 377.4,35.0C375.9,32.1 374.7,33.3 376.0,30.0Z" fill="#1e9cff"/>
<path d="M358.0,51.0C358.8,50.4 359.9,52.2 362.0,54.0C364.1,55.8 364.7,55.5 365.0,57.0C365.3,58.5 364.7,59.3 363.0,59.0C361.3,58.7 360.9,58.4 359.4,56.0C357.9,53.6 357.2,51.6 358.0,51.0Z" fill="#1e9cff"/>
<path d="M374.2,76.4C374.2,77.0 374.3,76.8 373.8,77.2C373.4,77.7 373.6,77.6 373.0,77.6C372.4,77.6 372.6,77.7 372.2,77.2C371.7,76.8 371.8,77.0 371.8,76.4C371.8,75.8 371.7,76.0 372.2,75.6C372.6,75.1 372.4,75.2 373.0,75.2C373.6,75.2 373.4,75.1 373.8,75.6C374.3,76.0 374.2,75.8 374.2,76.4Z" fill="#1e9cff"/>
<path d="M384.4,67.0C384.4,67.7 384.5,67.5 384.0,68.0C383.5,68.5 383.7,68.4 383.0,68.4C382.3,68.4 382.5,68.5 382.0,68.0C381.5,67.5 381.6,67.7 381.6,67.0C381.6,66.3 381.5,66.5 382.0,66.0C382.5,65.5 382.3,65.6 383.0,65.6C383.7,65.6 383.5,65.5 384.0,66.0C384.5,66.5 384.4,66.3 384.4,67.0Z" fill="#1e9cff"/>
<path d="M410.6,60.0C410.6,60.8 410.7,60.5 410.1,61.1C409.5,61.7 409.8,61.6 409.0,61.6C408.2,61.6 408.5,61.7 407.9,61.1C407.3,60.5 407.4,60.8 407.4,60.0C407.4,59.2 407.3,59.5 407.9,58.9C408.5,58.3 408.2,58.4 409.0,58.4C409.8,58.4 409.5,58.3 410.1,58.9C410.7,59.5 410.6,59.2 410.6,60.0Z" fill="#1e9cff"/>
<path d="M418.4,63.0C418.4,64.0 418.5,63.7 418.0,64.4C417.5,65.1 417.7,65.0 417.0,65.0C416.3,65.0 416.5,65.1 416.0,64.4C415.5,63.7 415.6,64.0 415.6,63.0C415.6,62.0 415.5,62.3 416.0,61.6C416.5,60.9 416.3,61.0 417.0,61.0C417.7,61.0 417.5,60.9 418.0,61.6C418.5,62.3 418.4,62.0 418.4,63.0Z" fill="#1e9cff"/>
<path d="M282.0,168.0C282.9,165.3 283.3,165.4 286.0,163.0C288.7,160.6 288.0,161.5 291.0,160.0C294.0,158.5 293.9,157.4 296.0,158.0C298.1,158.6 298.3,159.3 298.0,162.0C297.7,164.7 297.1,164.3 295.0,167.0C292.9,169.7 291.6,168.6 291.0,171.0C290.4,173.4 293.0,172.6 293.0,175.0C293.0,177.4 293.1,177.5 291.0,179.0C288.9,180.5 288.7,180.6 286.0,180.0C283.3,179.4 282.9,179.4 282.0,177.0C281.1,174.6 283.0,174.7 283.0,172.0C283.0,169.3 281.1,170.7 282.0,168.0Z" fill="#1e9cff"/>
<path d="M268.0,149.0C268.0,149.8 268.1,149.5 267.4,150.1C266.7,150.7 267.0,150.6 266.0,150.6C265.0,150.6 265.3,150.7 264.6,150.1C263.9,149.5 264.0,149.8 264.0,149.0C264.0,148.2 263.9,148.5 264.6,147.9C265.3,147.3 265.0,147.4 266.0,147.4C267.0,147.4 266.7,147.3 267.4,147.9C268.1,148.5 268.0,148.2 268.0,149.0Z" fill="#1e9cff"/>
<path d="M335.0,182.0C335.0,182.8 335.1,182.5 334.6,183.1C334.1,183.7 334.3,183.6 333.6,183.6C332.9,183.6 333.1,183.7 332.6,183.1C332.1,182.5 332.2,182.8 332.2,182.0C332.2,181.2 332.1,181.5 332.6,180.9C333.1,180.3 332.9,180.4 333.6,180.4C334.3,180.4 334.1,180.3 334.6,180.9C335.1,181.5 335.0,181.2 335.0,182.0Z" fill="#1e9cff"/>
<path d="M389.2,182.0C389.2,183.6 389.4,183.0 388.6,184.1C387.7,185.2 388.1,185.0 387.0,185.0C385.9,185.0 386.3,185.2 385.4,184.1C384.6,183.0 384.8,183.6 384.8,182.0C384.8,180.4 384.6,181.0 385.4,179.9C386.3,178.8 385.9,179.0 387.0,179.0C388.1,179.0 387.7,178.8 388.6,179.9C389.4,181.0 389.2,180.4 389.2,182.0Z" fill="#1e9cff"/>
<path d="M353.0,233.0C353.6,231.0 354.0,230.4 357.0,228.6C360.0,226.8 359.4,227.0 363.0,227.0C366.6,227.0 366.2,226.8 369.0,228.6C371.8,230.4 372.4,232.2 372.4,233.0C372.4,233.8 371.8,232.2 369.0,231.4C366.2,230.6 366.3,230.4 363.0,230.4C359.7,230.4 360.4,229.9 358.0,231.4C355.6,232.9 356.5,234.9 355.0,235.4C353.5,235.9 352.4,235.0 353.0,233.0Z" fill="#1e9cff"/>
<path d="M315.6,214.0C315.6,214.6 315.7,214.4 315.1,214.8C314.5,215.3 314.8,215.2 314.0,215.2C313.2,215.2 313.5,215.3 312.9,214.8C312.3,214.4 312.4,214.6 312.4,214.0C312.4,213.4 312.3,213.6 312.9,213.2C313.5,212.7 313.2,212.8 314.0,212.8C314.8,212.8 314.5,212.7 315.1,213.2C315.7,213.6 315.6,213.4 315.6,214.0Z" fill="#1e9cff"/>
<path d="M319.2,226.0C319.2,226.5 319.3,226.3 318.8,226.7C318.4,227.1 318.6,227.0 318.0,227.0C317.4,227.0 317.6,227.1 317.2,226.7C316.7,226.3 316.8,226.5 316.8,226.0C316.8,225.5 316.7,225.7 317.2,225.3C317.6,224.9 317.4,225.0 318.0,225.0C318.6,225.0 318.4,224.9 318.8,225.3C319.3,225.7 319.2,225.5 319.2,226.0Z" fill="#1e9cff"/>
<path d="M425.4,73.2C425.4,74.5 425.5,74.1 424.9,75.0C424.2,76.0 424.5,75.8 423.6,75.8C422.7,75.8 423.0,76.0 422.4,75.0C421.8,74.1 421.9,74.5 421.9,73.2C421.9,71.8 421.8,72.3 422.4,71.3C423.0,70.4 422.7,70.6 423.6,70.6C424.5,70.6 424.2,70.4 424.9,71.3C425.5,72.3 425.4,71.8 425.4,73.2Z" fill="#1e9cff"/>
<path d="M378.0,28.0C378.8,25.0 378.6,23.4 381.6,24.0C384.6,24.6 384.6,26.4 388.0,30.0C391.4,33.6 392.1,33.0 393.0,36.0C393.9,39.0 393.1,38.5 391.0,40.0C388.9,41.5 388.7,41.6 386.0,41.0C383.3,40.4 384.1,40.1 382.0,38.0C379.9,35.9 380.2,37.0 379.0,34.0C377.8,31.0 377.2,31.0 378.0,28.0Z" fill="#08d8ff"/>
<path d="M357.0,50.0C358.2,47.0 359.7,47.3 363.0,44.0C366.3,40.7 365.0,39.9 368.0,39.0C371.0,38.1 370.3,39.2 373.0,41.0C375.7,42.8 375.5,42.6 377.0,45.0C378.5,47.4 378.9,47.2 378.0,49.0C377.1,50.8 376.4,49.5 374.0,51.0C371.6,52.5 372.7,52.8 370.0,54.0C367.3,55.2 367.4,54.1 365.0,55.0C362.6,55.9 363.8,57.3 362.0,57.0C360.2,56.7 360.5,56.1 359.0,54.0C357.5,51.9 355.8,53.0 357.0,50.0Z" fill="#08d8ff"/>
<path d="M425.0,73.0C425.0,74.6 425.1,74.0 424.4,75.1C423.7,76.2 424.0,76.0 423.0,76.0C422.0,76.0 422.3,76.2 421.6,75.1C420.9,74.0 421.0,74.6 421.0,73.0C421.0,71.4 420.9,72.0 421.6,70.9C422.3,69.8 422.0,70.0 423.0,70.0C424.0,70.0 423.7,69.8 424.4,70.9C425.1,72.0 425.0,71.4 425.0,73.0Z" fill="#08d8ff"/>
<path d="M296.0,116.0C299.6,111.8 300.8,110.5 305.0,106.0C309.2,101.5 308.2,101.3 310.0,101.0C311.8,100.7 311.6,102.3 311.0,105.0C310.4,107.7 309.5,107.0 308.0,110.0C306.5,113.0 307.8,112.3 306.0,115.0C304.2,117.7 304.4,117.2 302.0,119.0C299.6,120.8 300.7,120.7 298.0,121.0C295.3,121.3 293.6,121.5 293.0,120.0C292.4,118.5 292.4,120.2 296.0,116.0Z" fill="#08d8ff"/>
<path d="M271.6,142.0C272.8,138.7 277.1,136.4 282.0,131.0C286.9,125.6 285.0,125.5 288.0,124.0C291.0,122.5 289.9,124.2 292.0,126.0C294.1,127.8 295.6,127.9 295.0,130.0C294.4,132.1 293.0,131.4 290.0,133.0C287.0,134.6 287.7,133.6 285.0,135.4C282.3,137.2 283.1,137.0 281.0,139.0C278.9,141.0 280.8,141.1 278.0,142.0C275.2,142.9 270.4,145.3 271.6,142.0Z" fill="#08d8ff"/>
<path d="M349.0,139.0C350.2,137.0 350.7,136.9 354.0,135.4C357.3,133.9 357.0,133.8 360.0,134.0C363.0,134.2 363.1,133.6 364.0,136.0C364.9,138.4 367.2,140.2 363.0,142.0C358.8,143.8 354.2,142.9 350.0,142.0C345.8,141.1 347.8,141.0 349.0,139.0Z" fill="#08d8ff"/>
<path d="M387.0,114.0C388.5,111.3 388.6,110.9 391.0,110.0C393.4,109.1 393.3,108.6 395.0,111.0C396.7,113.4 396.6,113.8 396.6,118.0C396.6,122.2 396.7,122.0 395.0,125.0C393.3,128.0 393.3,128.0 391.0,128.0C388.7,128.0 388.9,127.7 387.4,125.0C385.9,122.3 386.1,122.3 386.0,119.0C385.9,115.7 385.5,116.7 387.0,114.0Z" fill="#08d8ff"/>
<path d="M423.0,89.0C423.6,86.6 423.6,86.8 426.0,85.0C428.4,83.2 425.1,83.6 431.0,83.0C436.9,82.4 432.4,74.9 445.6,83.0C458.8,91.1 468.0,100.4 475.0,110.0C482.0,119.6 472.0,112.0 469.0,115.0C466.0,118.0 466.8,116.7 465.0,120.0C463.2,123.3 464.8,123.0 463.0,126.0C461.2,129.0 461.7,129.4 459.0,130.0C456.3,130.6 456.4,130.1 454.0,128.0C451.6,125.9 451.6,126.3 451.0,123.0C450.4,119.7 452.6,120.0 452.0,117.0C451.4,114.0 451.4,114.8 449.0,113.0C446.6,111.2 446.7,112.8 444.0,111.0C441.3,109.2 441.6,110.0 440.0,107.0C438.4,104.0 440.1,104.0 438.6,101.0C437.1,98.0 437.9,98.8 435.0,97.0C432.1,95.2 432.3,96.2 429.0,95.0C425.7,93.8 425.8,94.8 424.0,93.0C422.2,91.2 422.4,91.4 423.0,89.0Z" fill="#08d8ff"/>
<path d="M267.0,157.0C267.6,154.6 268.7,155.2 272.0,154.0C275.3,152.8 274.7,152.7 278.0,153.0C281.3,153.3 280.6,153.2 283.0,155.0C285.4,156.8 286.3,156.9 286.0,159.0C285.7,161.1 285.0,160.8 282.0,162.0C279.0,163.2 279.6,163.0 276.0,163.0C272.4,163.0 272.7,163.8 270.0,162.0C267.3,160.2 266.4,159.4 267.0,157.0Z" fill="#08d8ff"/>
<path d="M319.8,151.0C319.8,151.7 320.0,151.5 319.0,152.0C318.0,152.5 318.5,152.4 317.0,152.4C315.5,152.4 316.0,152.5 315.0,152.0C314.0,151.5 314.2,151.7 314.2,151.0C314.2,150.3 314.0,150.5 315.0,150.0C316.0,149.5 315.5,149.6 317.0,149.6C318.5,149.6 318.0,149.5 319.0,150.0C320.0,150.5 319.8,150.3 319.8,151.0Z" fill="#08d8ff"/>
<path d="M374.8,155.0C374.8,156.8 375.0,156.2 374.0,157.4C373.0,158.7 373.5,158.4 372.0,158.4C370.5,158.4 371.0,158.7 370.0,157.4C369.0,156.2 369.2,156.8 369.2,155.0C369.2,153.2 369.0,153.8 370.0,152.6C371.0,151.3 370.5,151.6 372.0,151.6C373.5,151.6 373.0,151.3 374.0,152.6C375.0,153.8 374.8,153.2 374.8,155.0Z" fill="#08d8ff"/>
<path d="M404.4,149.0C405.8,147.2 405.9,146.1 407.0,147.0C408.1,147.9 408.6,149.0 408.0,152.0C407.4,155.0 406.8,154.3 405.0,157.0C403.2,159.7 403.5,158.3 402.0,161.0C400.5,163.7 400.9,163.0 400.0,166.0C399.1,169.0 398.7,168.3 399.0,171.0C399.3,173.7 399.8,172.3 401.0,175.0C402.2,177.7 402.0,177.0 403.0,180.0C404.0,183.0 403.8,181.7 404.4,185.0C405.0,188.3 405.4,187.4 405.0,191.0C404.6,194.6 404.5,194.2 403.0,197.0C401.5,199.8 401.8,200.1 400.0,200.4C398.2,200.7 397.0,200.5 397.0,198.0C397.0,195.5 398.8,195.6 400.0,192.0C401.2,188.4 401.1,189.6 401.0,186.0C400.9,182.4 400.8,183.3 399.6,180.0C398.4,176.7 398.2,178.3 397.0,175.0C395.8,171.7 395.6,172.6 395.6,169.0C395.6,165.4 395.7,166.3 397.0,163.0C398.3,159.7 398.4,161.0 400.0,158.0C401.6,155.0 401.1,155.7 402.4,153.0C403.7,150.3 403.0,150.8 404.4,149.0Z" fill="#08d8ff"/>
<path d="M369.0,196.0C369.9,193.3 370.6,192.5 373.0,192.0C375.4,191.5 374.3,192.9 377.0,194.4C379.7,195.9 379.0,196.8 382.0,197.0C385.0,197.2 384.0,195.8 387.0,195.0C390.0,194.2 390.8,193.2 392.0,194.4C393.2,195.6 392.8,197.0 391.0,199.0C389.2,201.0 392.3,200.4 386.0,201.0C379.7,201.6 375.1,202.5 370.0,201.0C364.9,199.5 368.1,198.7 369.0,196.0Z" fill="#08d8ff"/>
<path d="M428.0,168.0C428.0,168.7 428.1,168.5 427.4,169.0C426.7,169.5 427.0,169.4 426.0,169.4C425.0,169.4 425.3,169.5 424.6,169.0C423.9,168.5 424.0,168.7 424.0,168.0C424.0,167.3 423.9,167.5 424.6,167.0C425.3,166.5 425.0,166.6 426.0,166.6C427.0,166.6 426.7,166.5 427.4,167.0C428.1,167.5 428.0,167.3 428.0,168.0Z" fill="#08d8ff"/>
<path d="M343.8,221.0C343.8,223.5 344.1,222.6 342.7,224.4C341.3,226.2 342.0,225.8 340.0,225.8C338.0,225.8 338.7,226.2 337.3,224.4C335.9,222.6 336.2,223.5 336.2,221.0C336.2,218.5 335.9,219.4 337.3,217.6C338.7,215.8 338.0,216.2 340.0,216.2C342.0,216.2 341.3,215.8 342.7,217.6C344.1,219.4 343.8,218.5 343.8,221.0Z" fill="#08d8ff"/>
<path d="M331.0,242.0C331.6,240.1 332.2,239.6 335.0,239.0C337.8,238.4 337.1,240.0 340.4,240.0C343.7,240.0 343.7,238.1 346.0,239.0C348.3,239.9 346.8,240.3 348.0,243.0C349.2,245.7 348.2,247.7 350.0,248.0C351.8,248.3 352.5,247.3 354.0,244.0C355.5,240.7 354.1,240.6 355.0,237.0C355.9,233.4 354.9,234.1 357.0,232.0C359.1,229.9 359.0,230.3 362.0,230.0C365.0,229.7 364.6,229.5 367.0,231.0C369.4,232.5 369.7,232.3 370.0,235.0C370.3,237.7 369.5,237.3 368.0,240.0C366.5,242.7 367.1,241.6 365.0,244.0C362.9,246.4 363.4,245.6 361.0,248.0C358.6,250.4 360.5,249.1 357.0,252.0C353.5,254.9 353.1,257.2 349.2,257.6C345.3,258.0 347.4,256.0 344.0,253.4C340.6,250.8 341.3,251.4 338.0,249.0C334.7,246.6 335.1,247.5 333.0,245.4C330.9,243.3 330.4,243.9 331.0,242.0Z" fill="#08d8ff"/>
<path d="M376.6,88.0C377.6,82.5 378.0,84.3 380.0,84.6C382.0,84.9 382.2,85.3 383.4,89.0C384.6,92.7 383.4,92.2 384.0,97.0C384.6,101.8 383.8,101.1 385.4,105.0C387.0,108.9 386.8,107.6 389.4,110.0C392.0,112.4 392.3,109.7 394.0,113.0C395.7,116.3 395.3,116.9 395.0,121.0C394.7,125.1 395.0,124.4 393.0,126.6C391.0,128.8 390.8,128.6 388.2,128.2C385.6,127.8 386.4,127.6 384.2,125.4C382.0,123.2 382.8,124.7 381.0,121.0C379.2,117.3 379.5,118.4 378.2,113.0C376.9,107.6 377.1,110.5 376.6,103.0C376.1,95.5 375.6,93.5 376.6,88.0Z" fill="#08d8ff"/>
<path d="M376.6,95.0C377.3,91.4 377.7,92.1 379.0,93.0C380.3,93.9 380.5,93.8 381.0,98.0C381.5,102.2 380.3,101.9 380.6,107.0C380.9,112.1 382.2,111.1 382.0,115.0C381.8,118.9 381.4,120.0 380.0,120.0C378.6,120.0 378.4,119.5 377.4,115.0C376.4,110.5 376.8,111.0 376.6,105.0C376.4,99.0 375.9,98.6 376.6,95.0Z" fill="#1e9cff"/>
<path d="M282.0,135.4C284.4,132.4 284.1,133.3 288.0,132.0C291.9,130.7 291.4,130.7 295.0,131.0C298.6,131.3 299.1,131.2 300.0,133.0C300.9,134.8 300.4,135.2 298.0,137.0C295.6,138.8 295.6,137.5 292.0,139.0C288.4,140.5 289.6,141.1 286.0,142.0C282.4,142.9 281.2,144.0 280.0,142.0C278.8,140.0 279.6,138.4 282.0,135.4Z" fill="#00e200"/>
<path d="M449.0,113.0C450.8,113.0 451.4,114.0 452.0,117.0C452.6,120.0 450.4,119.7 451.0,123.0C451.6,126.3 451.6,125.6 454.0,128.0C456.4,130.4 456.0,131.0 459.0,131.0C462.0,131.0 461.9,130.7 464.0,128.0C466.1,125.3 464.2,125.6 466.0,122.0C467.8,118.4 467.3,119.3 470.0,116.0C472.7,112.7 472.6,111.9 475.0,111.0C477.4,110.1 479.2,110.0 478.0,113.0C476.8,116.0 474.6,116.2 471.0,121.0C467.4,125.8 469.0,125.1 466.0,129.0C463.0,132.9 464.3,132.8 461.0,134.0C457.7,135.2 458.3,134.4 455.0,133.0C451.7,131.6 452.4,132.4 450.0,129.4C447.6,126.4 448.2,126.7 447.0,123.0C445.8,119.3 445.4,120.0 446.0,117.0C446.6,114.0 447.2,113.0 449.0,113.0Z" fill="#00e200"/>
<path d="M450.8,118.0C450.8,119.5 450.9,119.0 450.3,120.0C449.6,121.0 449.9,120.8 449.0,120.8C448.1,120.8 448.4,121.0 447.7,120.0C447.1,119.0 447.2,119.5 447.2,118.0C447.2,116.5 447.1,117.0 447.7,116.0C448.4,115.0 448.1,115.2 449.0,115.2C449.9,115.2 449.6,115.0 450.3,116.0C450.9,117.0 450.8,116.5 450.8,118.0Z" fill="#00a800"/>
<path d="M387.8,34.0C387.8,35.5 388.0,35.0 387.0,36.0C386.0,37.0 386.5,36.8 385.0,36.8C383.5,36.8 384.0,37.0 383.0,36.0C382.0,35.0 382.2,35.5 382.2,34.0C382.2,32.5 382.0,33.0 383.0,32.0C384.0,31.0 383.5,31.2 385.0,31.2C386.5,31.2 386.0,31.0 387.0,32.0C388.0,33.0 387.8,32.5 387.8,34.0Z" fill="#50e8ff"/>
<path d="M283.4,154.4C283.4,155.9 283.7,155.4 282.1,156.4C280.5,157.4 281.3,157.2 279.0,157.2C276.7,157.2 277.5,157.4 275.9,156.4C274.3,155.4 274.6,155.9 274.6,154.4C274.6,152.9 274.3,153.4 275.9,152.4C277.5,151.4 276.7,151.6 279.0,151.6C281.3,151.6 280.5,151.4 282.1,152.4C283.7,153.4 283.4,152.9 283.4,154.4Z" fill="#50e8ff"/>
<path d="M442.0,77.0C442.0,78.2 442.2,77.8 441.1,78.7C440.0,79.6 440.6,79.4 439.0,79.4C437.4,79.4 438.0,79.6 436.9,78.7C435.8,77.8 436.0,78.2 436.0,77.0C436.0,75.8 435.8,76.2 436.9,75.3C438.0,74.4 437.4,74.6 439.0,74.6C440.6,74.6 440.0,74.4 441.1,75.3C442.2,76.2 442.0,75.8 442.0,77.0Z" fill="#a8f4fc"/>
<path d="M394.0,119.0C394.0,121.3 394.1,120.5 393.6,122.1C393.1,123.7 393.3,123.4 392.6,123.4C391.9,123.4 392.1,123.7 391.6,122.1C391.1,120.5 391.2,121.3 391.2,119.0C391.2,116.7 391.1,117.5 391.6,115.9C392.1,114.3 391.9,114.6 392.6,114.6C393.3,114.6 393.1,114.3 393.6,115.9C394.1,117.5 394.0,116.7 394.0,119.0Z" fill="#a8f4fc"/>
<path d="M434.0,91.0C434.0,92.0 434.2,91.7 433.1,92.4C432.0,93.1 432.6,93.0 431.0,93.0C429.4,93.0 430.0,93.1 428.9,92.4C427.8,91.7 428.0,92.0 428.0,91.0C428.0,90.0 427.8,90.3 428.9,89.6C430.0,88.9 429.4,89.0 431.0,89.0C432.6,89.0 432.0,88.9 433.1,89.6C434.2,90.3 434.0,90.0 434.0,91.0Z" fill="#a8f4fc"/>
<path d="M448.6,94.0C448.6,96.5 448.9,95.6 447.5,97.4C446.2,99.2 446.9,98.8 445.0,98.8C443.1,98.8 443.8,99.2 442.5,97.4C441.1,95.6 441.4,96.5 441.4,94.0C441.4,91.5 441.1,92.4 442.5,90.6C443.8,88.8 443.1,89.2 445.0,89.2C446.9,89.2 446.2,88.8 447.5,90.6C448.9,92.4 448.6,91.5 448.6,94.0Z" fill="#a8f4fc"/>
<path d="M461.6,122.0C461.6,124.1 461.9,123.4 460.5,124.8C459.2,126.3 459.9,126.0 458.0,126.0C456.1,126.0 456.8,126.3 455.5,124.8C454.1,123.4 454.4,124.1 454.4,122.0C454.4,119.9 454.1,120.6 455.5,119.2C456.8,117.7 456.1,118.0 458.0,118.0C459.9,118.0 459.2,117.7 460.5,119.2C461.9,120.6 461.6,119.9 461.6,122.0Z" fill="#a8f4fc"/>
<path d="M372.8,154.4C372.8,155.2 372.9,154.9 372.4,155.5C372.0,156.1 372.2,156.0 371.6,156.0C371.0,156.0 371.2,156.1 370.8,155.5C370.3,154.9 370.4,155.2 370.4,154.4C370.4,153.6 370.3,153.9 370.8,153.3C371.2,152.7 371.0,152.8 371.6,152.8C372.2,152.8 372.0,152.7 372.4,153.3C372.9,153.9 372.8,153.6 372.8,154.4Z" fill="#a8f4fc"/>
<path d="M355.0,235.0C355.9,231.7 356.0,232.6 359.0,232.0C362.0,231.4 362.6,231.5 365.0,233.0C367.4,234.5 367.3,234.6 367.0,237.0C366.7,239.4 366.1,238.9 364.0,241.0C361.9,243.1 362.4,243.4 360.0,244.0C357.6,244.6 357.5,245.7 356.0,243.0C354.5,240.3 354.1,238.3 355.0,235.0Z" fill="#a8f4fc"/>
<path d="M335.0,242.0C335.7,239.9 337.4,240.4 340.4,241.0C343.4,241.6 343.3,241.6 345.0,244.0C346.7,246.4 346.6,246.9 346.0,249.0C345.4,251.1 345.4,251.3 343.0,251.0C340.6,250.7 340.4,250.7 338.0,248.0C335.6,245.3 334.3,244.1 335.0,242.0Z" fill="#a8f4fc"/>
<path d="M349.0,244.0C350.0,241.6 350.6,241.4 352.4,242.0C354.2,242.6 354.5,243.3 355.0,246.0C355.5,248.7 355.2,248.8 354.0,251.0C352.8,253.2 352.5,253.7 351.0,253.4C349.5,253.1 349.6,252.8 349.0,250.0C348.4,247.2 348.0,246.4 349.0,244.0Z" fill="#00e200"/>
</g>
<g class="mon" font-weight="bold" font-size="3.63" fill="#222">
<text x="70.2" y="18.7" xml:space="preserve">C605 (DH_RMP\J56c-12-10-10\inter_hr  ~ongkepingjia.hor)</text>
<text x="310.2" y="18.4" xml:space="preserve">C409 (DH_RMP\J56c-12-10-10\inter_hr  ~ongkepingjia.hor)</text>
</g>
<g class="mon" font-weight="bold" font-size="3.6" fill="#333"><text x="163" y="11.8">Ips</text><text x="402" y="11.8">Ips</text></g>
<g class="ser" font-size="4.3" fill="#333" text-anchor="middle">
<text x="144.8" y="23.0">10</text>
<text x="156.8" y="34.2">29</text>
<text x="168.8" y="45.4">48</text>
<text x="180.8" y="56.6">67</text>
<text x="192.8" y="67.8">86</text>
<text x="204.8" y="79.0">105</text>
<text x="216.8" y="90.2">124</text>
<text x="228.8" y="101.4">143</text>
<text x="240.8" y="112.6">162</text>
<text x="118.9" y="37.1">224</text>
<text x="112.9" y="43.6">212</text>
<text x="106.9" y="50.0">200</text>
<text x="100.8" y="56.5">188</text>
<text x="94.8" y="62.9">176</text>
<text x="88.8" y="69.4">164</text>
<text x="82.8" y="75.8">152</text>
<text x="76.8" y="82.2">140</text>
<text x="70.7" y="88.7">128</text>
<text x="64.7" y="95.2">116</text>
<text x="58.7" y="101.6">104</text>
<text x="52.7" y="108.1">92</text>
<text x="46.7" y="114.5">80</text>
<text x="40.6" y="121.0">68</text>
<text x="34.6" y="127.4">56</text>
<text x="28.6" y="133.8">44</text>
<text x="22.6" y="140.3">32</text>
<text x="16.6" y="146.8">20</text>
<text x="10.5" y="153.2">8</text>
<text x="11.3" y="177.8">10</text>
<text x="19.8" y="184.4">29</text>
<text x="31.4" y="195.3">48</text>
<text x="43.0" y="206.2">67</text>
<text x="54.6" y="217.1">86</text>
<text x="66.2" y="228.0">105</text>
<text x="77.8" y="238.9">124</text>
<text x="89.4" y="249.8">143</text>
<text x="101.0" y="260.7">162</text>
<text x="109.0" y="263.2">8</text>
<text x="116.1" y="255.6">20</text>
<text x="123.1" y="248.0">32</text>
<text x="130.2" y="240.4">44</text>
<text x="137.3" y="232.8">56</text>
<text x="144.3" y="225.2">68</text>
<text x="151.4" y="217.6">80</text>
<text x="158.5" y="210.0">92</text>
<text x="165.6" y="202.4">104</text>
<text x="172.6" y="194.8">116</text>
<text x="179.7" y="187.2">128</text>
<text x="186.8" y="179.6">140</text>
<text x="193.8" y="172.0">152</text>
<text x="200.9" y="164.4">164</text>
<text x="208.0" y="156.8">176</text>
<text x="215.1" y="149.2">188</text>
<text x="222.1" y="141.6">200</text>
<text x="229.2" y="134.0">212</text>
<text x="236.3" y="126.4">224</text>
</g>
<g class="ser" font-size="4.3" fill="#333" text-anchor="middle">
<text x="387.5" y="24.9">10</text>
<text x="399.4" y="36.2">29</text>
<text x="411.4" y="47.6">48</text>
<text x="423.4" y="58.9">67</text>
<text x="435.3" y="70.3">86</text>
<text x="447.2" y="81.7">105</text>
<text x="459.2" y="93.0">124</text>
<text x="471.1" y="104.4">143</text>
<text x="483.1" y="115.7">162</text>
<text x="360.0" y="37.8">224</text>
<text x="354.0" y="44.4">212</text>
<text x="348.0" y="50.9">200</text>
<text x="342.0" y="57.5">188</text>
<text x="336.0" y="64.1">176</text>
<text x="330.1" y="70.7">164</text>
<text x="324.1" y="77.2">152</text>
<text x="318.1" y="83.8">140</text>
<text x="312.1" y="90.4">128</text>
<text x="306.1" y="96.9">116</text>
<text x="300.1" y="103.5">104</text>
<text x="294.1" y="110.1">92</text>
<text x="288.1" y="116.6">80</text>
<text x="282.1" y="123.2">68</text>
<text x="276.1" y="129.8">56</text>
<text x="270.1" y="136.4">44</text>
<text x="264.2" y="142.9">32</text>
<text x="258.2" y="149.5">20</text>
<text x="252.2" y="156.1">8</text>
<text x="250.1" y="177.3">10</text>
<text x="255.6" y="186.0">29</text>
<text x="267.6" y="197.3">48</text>
<text x="279.6" y="208.7">67</text>
<text x="291.6" y="220.0">86</text>
<text x="303.6" y="231.4">105</text>
<text x="315.6" y="242.8">124</text>
<text x="327.6" y="254.1">143</text>
<text x="339.6" y="265.4">162</text>
<text x="353.1" y="257.9">8</text>
<text x="360.2" y="250.3">20</text>
<text x="367.3" y="242.8">32</text>
<text x="374.4" y="235.2">44</text>
<text x="381.5" y="227.7">56</text>
<text x="388.6" y="220.2">68</text>
<text x="395.7" y="212.6">80</text>
<text x="402.8" y="205.1">92</text>
<text x="409.9" y="197.5">104</text>
<text x="417.0" y="190.0">116</text>
<text x="424.1" y="182.4">128</text>
<text x="431.2" y="174.8">140</text>
<text x="438.3" y="167.3">152</text>
<text x="445.4" y="159.8">164</text>
<text x="452.5" y="152.2">176</text>
<text x="459.6" y="144.7">188</text>
<text x="466.7" y="137.1">200</text>
<text x="473.8" y="129.6">212</text>
<text x="480.9" y="122.0">224</text>
</g>
<g fill="none" stroke-linecap="butt"><path d="M168,48.8 L241.2,116" stroke="#223322" stroke-width="0.55" opacity="0.75"/><path d="M408,48.2 L481,115.5" stroke="#223322" stroke-width="0.55" opacity="0.75"/>
<path d="M230,128 L215.5,143.4" stroke="#e080e8" stroke-width="0.7"/><path d="M470,127.3 L455.5,142.7" stroke="#e080e8" stroke-width="0.7"/></g>
<rect x="6" y="21" width="98" height="40" fill="#a9a9a9"/>
<g class="mon" font-size="7.3" transform="translate(10,0)">
<text transform="translate(0,32.3) scale(1,1.22)" fill="#ff2a2a" textLength="83" lengthAdjust="spacingAndGlyphs">First-class dessert</text>
<text transform="translate(0,43.9) scale(1,1.22)" fill="#00e62a" textLength="88" lengthAdjust="spacingAndGlyphs">Second-class dessert</text>
<text transform="translate(0,56.9) scale(1,1.22)" fill="#a6f2f2" textLength="48" lengthAdjust="spacingAndGlyphs">Non-dessert</text>
</g>
<g transform="translate(0,0)">
<rect x="14.1" y="258.1" width="29.1" height="2.7" fill="#fff" stroke="#777" stroke-width="0.5"/>
<rect x="21.6" y="258.1" width="7.2" height="2.7" fill="#000"/><rect x="36.0" y="258.1" width="7.2" height="2.7" fill="#000"/>
<text class="ser" x="45.1" y="260.9" font-size="4" fill="#333">500 m</text>
<circle cx="27.3" cy="264.6" r="0.8" fill="#ff2020"/>
<text class="san" x="29.8" y="265.8" font-size="3.6" font-weight="bold" fill="#3a3aff" textLength="9.8" lengthAdjust="spacingAndGlyphs">P 1 0 5</text>
</g>
<g transform="translate(240,0)">
<rect x="14.1" y="258.1" width="29.1" height="2.7" fill="#fff" stroke="#777" stroke-width="0.5"/>
<rect x="21.6" y="258.1" width="7.2" height="2.7" fill="#000"/><rect x="36.0" y="258.1" width="7.2" height="2.7" fill="#000"/>
<text class="ser" x="45.1" y="260.9" font-size="4" fill="#333">500 m</text>
<circle cx="27.3" cy="264.6" r="0.8" fill="#ff2020"/>
<text class="san" x="29.8" y="265.8" font-size="3.6" font-weight="bold" fill="#3a3aff" textLength="9.8" lengthAdjust="spacingAndGlyphs">P 1 0 5</text>
</g>
<g transform="translate(0,0)">
<g stroke="#f02020" stroke-width="0.6" fill="none"><line x1="60.4" y1="208.8" x2="70.3" y2="209.1"/><line x1="87.3" y1="214.9" x2="93.1" y2="231.6"/></g>
<circle cx="87.3" cy="214.5" r="0.8" fill="#ff2020"/><circle cx="59.6" cy="208.6" r="0.7" fill="#ff2020"/><circle cx="38.3" cy="223.6" r="0.8" fill="#ff2020"/>
<g class="san" font-size="4.1" font-weight="bold" fill="#1030c8">
<text x="60.4" y="205.4" textLength="4.6" lengthAdjust="spacingAndGlyphs">Z1</text>
<text x="70.8" y="210.8" textLength="15.7" lengthAdjust="spacingAndGlyphs">Z1-1-X2</text>
<text x="89.5" y="216" textLength="12.3" lengthAdjust="spacingAndGlyphs">Z1-1-4</text>
<text x="85.1" y="234.9" textLength="16" lengthAdjust="spacingAndGlyphs">Z1-2-X6</text>
<text x="40" y="225" textLength="14.5" lengthAdjust="spacingAndGlyphs" fill="#3a3aff">Z1-4-X1</text>
</g></g>
<circle cx="147.0" cy="80.8" r="0.7" fill="#ff2020"/><text class="san" x="148.2" y="82.2" font-size="4.1" font-weight="bold" fill="#5030c0">Z2</text>
<g transform="translate(239.5,0.2)">
<g stroke="#f02020" stroke-width="0.6" fill="none"><line x1="60.4" y1="208.8" x2="70.3" y2="209.1"/><line x1="87.3" y1="214.9" x2="93.1" y2="231.6"/></g>
<circle cx="87.3" cy="214.5" r="0.8" fill="#ff2020"/><circle cx="59.6" cy="208.6" r="0.7" fill="#ff2020"/><circle cx="38.3" cy="223.6" r="0.8" fill="#ff2020"/>
<g class="san" font-size="4.1" font-weight="bold" fill="#1030c8">
<text x="60.4" y="205.4" textLength="4.6" lengthAdjust="spacingAndGlyphs">Z1</text>
<text x="70.8" y="210.8" textLength="15.7" lengthAdjust="spacingAndGlyphs">Z1-1-X2</text>
<text x="89.5" y="216" textLength="12.3" lengthAdjust="spacingAndGlyphs">Z1-1-4</text>
<text x="85.1" y="234.9" textLength="16" lengthAdjust="spacingAndGlyphs">Z1-2-X6</text>
<text x="40" y="225" textLength="14.5" lengthAdjust="spacingAndGlyphs" fill="#3a3aff">Z1-4-X1</text>
</g></g>
<circle cx="386.40000000000003" cy="80.8" r="0.7" fill="#ff2020"/><text class="san" x="387.6" y="82.2" font-size="4.1" font-weight="bold" fill="#5030c0">Z2</text>
<g class="ser" font-size="10.3" fill="#111"><text x="113" y="265.6" textLength="47.4" lengthAdjust="spacingAndGlyphs">C605-C504</text><text x="360" y="266" textLength="48" lengthAdjust="spacingAndGlyphs">C409-C406</text></g>
<g class="ser" font-size="14" fill="#111"><text x="114" y="289.6">(<tspan font-weight="bold">a</tspan>)</text><text x="384.4" y="289.6">(<tspan font-weight="bold">b</tspan>)</text></g>
<rect x="494.8" y="15" width="50.2" height="255.5" fill="#fff" stroke="#9a9a9a" stroke-width="1.2"/>
<text class="san" x="508.1" y="20.2" font-size="3.6" fill="#444" textLength="23.7" lengthAdjust="spacingAndGlyphs">Weight Factor</text>
<rect x="496.3" y="26.6" width="7.4" height="241.9" fill="#c8c8c8"/>
<rect x="497.5" y="27.1" width="5.2" height="21.85" fill="#cc0000"/>
<rect x="497.5" y="48.9" width="5.2" height="21.85" fill="#ff0000"/>
<rect x="497.5" y="70.7" width="5.2" height="21.65" fill="#ff5500"/>
<rect x="497.5" y="92.3" width="5.2" height="22.25" fill="#ffa500"/>
<rect x="497.5" y="114.5" width="5.2" height="21.95" fill="#00a800"/>
<rect x="497.5" y="136.4" width="5.2" height="22.15" fill="#00cc00"/>
<rect x="497.5" y="158.5" width="5.2" height="22.05" fill="#00ea00"/>
<rect x="497.5" y="180.5" width="5.2" height="20.95" fill="#1e9cff"/>
<rect x="497.5" y="201.4" width="5.2" height="22.55" fill="#00c8ff"/>
<rect x="497.5" y="223.9" width="5.2" height="22.35" fill="#00e4ff"/>
<rect x="497.5" y="246.2" width="5.2" height="21.85" fill="#a8f4fc"/>
<g stroke="#555" stroke-width="0.5" fill="none">
<line x1="504.9" y1="49.3" x2="504.9" y2="246.5"/>
<line x1="504.9" y1="49.30" x2="506.5" y2="49.30"/>
<line x1="504.9" y1="55.87" x2="505.7" y2="55.87"/>
<line x1="504.9" y1="62.45" x2="506.5" y2="62.45"/>
<line x1="504.9" y1="69.02" x2="505.7" y2="69.02"/>
<line x1="504.9" y1="75.59" x2="506.5" y2="75.59"/>
<line x1="504.9" y1="82.16" x2="505.7" y2="82.16"/>
<line x1="504.9" y1="88.74" x2="506.5" y2="88.74"/>
<line x1="504.9" y1="95.31" x2="505.7" y2="95.31"/>
<line x1="504.9" y1="101.88" x2="506.5" y2="101.88"/>
<line x1="504.9" y1="108.46" x2="505.7" y2="108.46"/>
<line x1="504.9" y1="115.03" x2="506.5" y2="115.03"/>
<line x1="504.9" y1="121.60" x2="505.7" y2="121.60"/>
<line x1="504.9" y1="128.18" x2="506.5" y2="128.18"/>
<line x1="504.9" y1="134.75" x2="505.7" y2="134.75"/>
<line x1="504.9" y1="141.32" x2="506.5" y2="141.32"/>
<line x1="504.9" y1="147.89" x2="505.7" y2="147.89"/>
<line x1="504.9" y1="154.47" x2="506.5" y2="154.47"/>
<line x1="504.9" y1="161.04" x2="505.7" y2="161.04"/>
<line x1="504.9" y1="167.61" x2="506.5" y2="167.61"/>
<line x1="504.9" y1="174.19" x2="505.7" y2="174.19"/>
<line x1="504.9" y1="180.76" x2="506.5" y2="180.76"/>
<line x1="504.9" y1="187.33" x2="505.7" y2="187.33"/>
<line x1="504.9" y1="193.91" x2="506.5" y2="193.91"/>
<line x1="504.9" y1="200.48" x2="505.7" y2="200.48"/>
<line x1="504.9" y1="207.05" x2="506.5" y2="207.05"/>
<line x1="504.9" y1="213.62" x2="505.7" y2="213.62"/>
<line x1="504.9" y1="220.20" x2="506.5" y2="220.20"/>
<line x1="504.9" y1="226.77" x2="505.7" y2="226.77"/>
<line x1="504.9" y1="233.34" x2="506.5" y2="233.34"/>
<line x1="504.9" y1="239.92" x2="505.7" y2="239.92"/>
<line x1="504.9" y1="246.49" x2="506.5" y2="246.49"/>
</g>
<g class="san" font-size="3.4" fill="#333">
<text x="508.9" y="50.6">50</text>
<text x="508.9" y="63.7">48</text>
<text x="508.9" y="76.9">46</text>
<text x="508.9" y="90.0">44</text>
<text x="508.9" y="103.2">42</text>
<text x="508.9" y="116.3">40</text>
<text x="508.9" y="129.5">38</text>
<text x="508.9" y="142.6">36</text>
<text x="508.9" y="155.8">34</text>
<text x="508.9" y="168.9">32</text>
<text x="508.9" y="182.1">30</text>
<text x="508.9" y="195.2">28</text>
<text x="508.9" y="208.4">26</text>
<text x="508.9" y="221.5">24</text>
<text x="508.9" y="234.7">22</text>
<text x="508.9" y="247.8">20</text>
</g>
<path d="M515.8,49.3 H517.3 V113.5 H515.8 M517.3,81.4 H521.7" fill="none" stroke="#ff6a20" stroke-width="0.7"/>
<path d="M515.8,115.4 H517.3 V180.5 H515.8 M517.3,147.95 H521.7" fill="none" stroke="#40e020" stroke-width="0.7"/>
<path d="M515.8,183.1 H517.3 V246.5 H515.8 M517.3,214.8 H521.7" fill="none" stroke="#00d8ff" stroke-width="0.7"/>
</svg></body></html>
